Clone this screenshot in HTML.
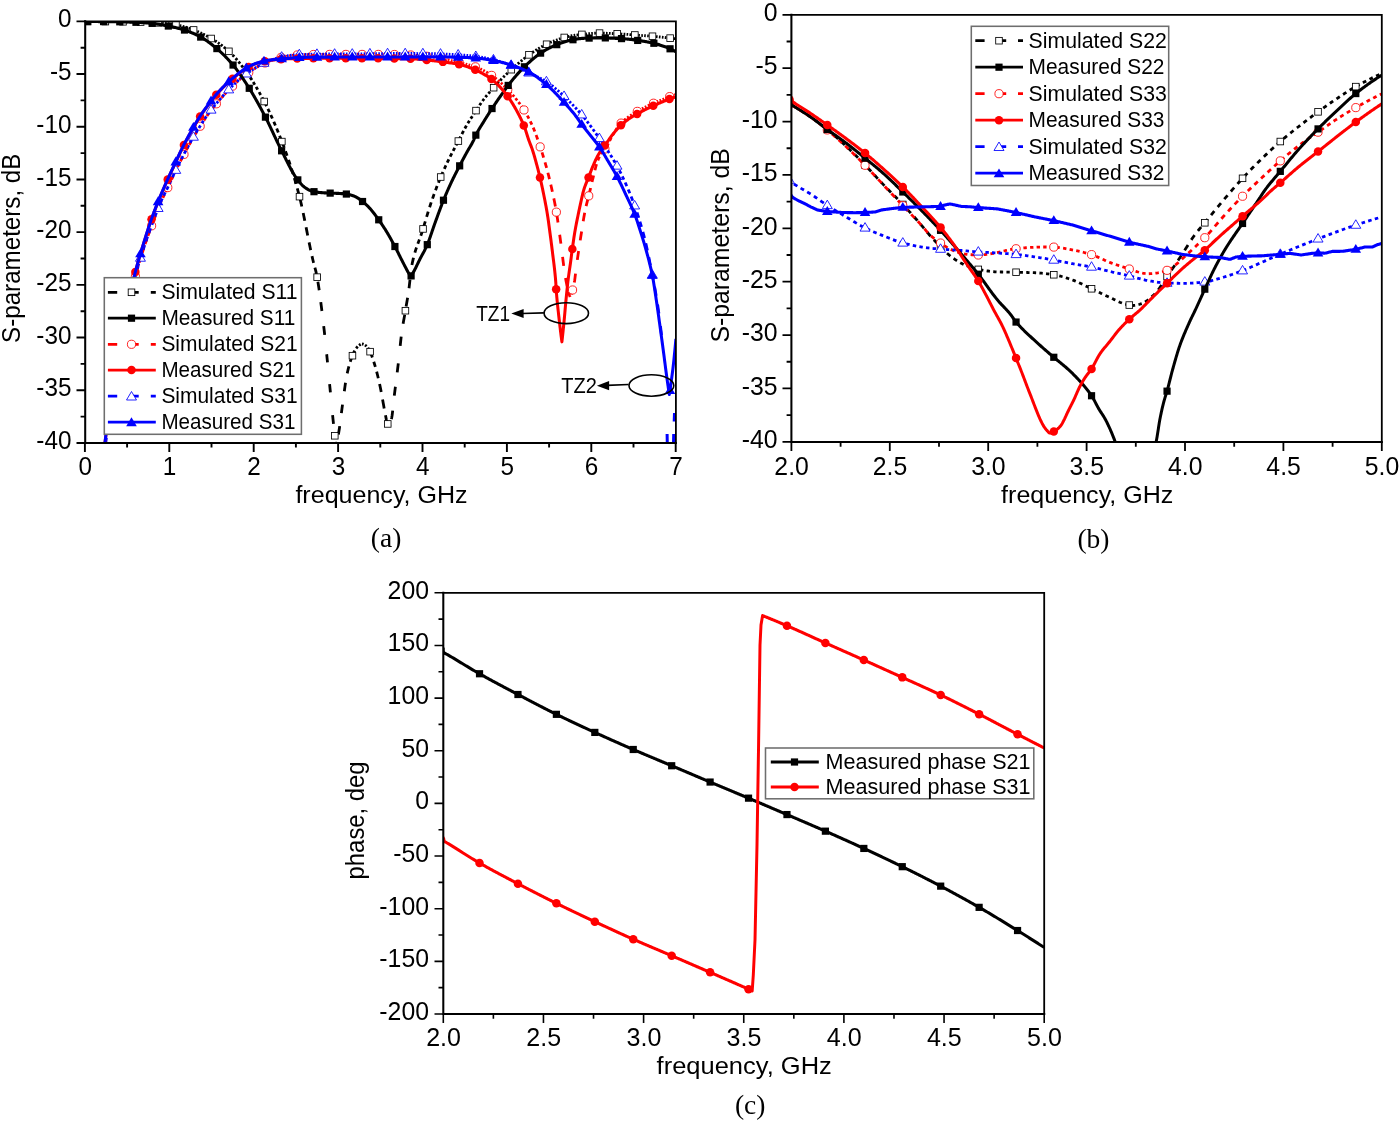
<!DOCTYPE html>
<html lang="en"><head><meta charset="utf-8"><title>S-parameters and phase</title>
<style>html,body{margin:0;padding:0;background:#fff}svg{display:block}</style></head>
<body>
<svg width="1400" height="1121" viewBox="0 0 1400 1121">
<rect width="1400" height="1121" fill="#fff"/>
<defs><clipPath id="ca"><rect x="85.2" y="21.3" width="590.7" height="421.7"/></clipPath><clipPath id="cb"><rect x="791.4" y="14.8" width="590.4" height="427"/></clipPath><clipPath id="cc"><rect x="443.3" y="592.8" width="600.9" height="421.2"/></clipPath></defs>
<g clip-path="url(#ca)"><path transform="scale(1 1)" d="M85.6,21.5 L86.8,21.5 L87.2,21.51 M88.5,21.51 L89.7,21.51 L90.2,21.52 M91.5,21.52 L92.7,21.53 L93.1,21.53 M94.4,21.54 L95.7,21.54 L96,21.54 M97.4,21.55 L98.7,21.56 L99,21.56 M100.3,21.57 L101.5,21.58 L101.9,21.58 M103.2,21.59 L104.4,21.6 L104.9,21.6 M106.2,21.61 L107.4,21.62 L107.8,21.62 M109.1,21.63 L110.3,21.64 L110.7,21.65 M112.1,21.66 L113.3,21.67 L113.7,21.68 M115,21.69 L116.2,21.7 L116.6,21.71 M117.9,21.72 L119.2,21.74 L119.6,21.74 M120.9,21.76 L122.2,21.78 L122.5,21.78 M123.8,21.8 L125.1,21.81 L125.4,21.82 M126.8,21.84 L128.1,21.85 L128.4,21.86 M129.7,21.87 L130.9,21.89 L131.3,21.9 M132.7,21.92 L133.9,21.94 L134.3,21.94 M135.6,21.97 L136.8,21.99 L137.2,22 M138.5,22.02 L139.8,22.05 L140.1,22.06 M141.5,22.09 L142.8,22.12 L143.1,22.13 M144.4,22.17 L145.7,22.21 L146,22.22 M147.3,22.27 L148.6,22.33 L149,22.35 M150.3,22.41 L151.6,22.47 L151.9,22.49 M153.2,22.56 L154.4,22.63 L154.8,22.65 M156.2,22.74 L157.4,22.81 L157.8,22.84 M159.1,22.92 L160.4,23.02 L160.7,23.04 M162.1,23.15 L163.4,23.27 L163.7,23.3 M165,23.42 L166.3,23.56 L166.6,23.59 M167.9,23.73 L169.1,23.88 L169.5,23.93 M170.9,24.11 L172.1,24.27 L172.5,24.33 M173.8,24.52 L175.1,24.72 L175.4,24.76 M176.8,24.99 L178.1,25.24 L178.4,25.3 M179.7,25.58 L180.9,25.87 L181.3,25.97 M182.6,26.32 L183.9,26.69 L184.2,26.77 M185.6,27.2 L186.9,27.61 L187.2,27.71 M188.5,28.14 L189.8,28.59 L190.1,28.7 M191.5,29.19 L192.8,29.66 L193.1,29.76 M194.4,30.24 L195.6,30.7 L196,30.86 M197.3,31.39 L198.6,31.95 L198.9,32.08 M200.3,32.72 L201.6,33.33 L201.9,33.47 M203.2,34.11 L204.4,34.72 L204.8,34.93 M206.1,35.61 L207.4,36.31 L207.8,36.53 M209.1,37.25 L210.4,37.99 L210.7,38.16 M212,38.92 L213.2,39.64 L213.6,39.88 M215,40.76 L216.2,41.53 L216.6,41.8 M217.9,42.67 L219.2,43.57 L219.5,43.78 M220.8,44.72 L222.1,45.69 L222.5,46 M223.8,47.01 L225.1,48.05 L225.4,48.3 M226.7,49.39 L228,50.51 L228.3,50.78 M229.7,52.06 L231,53.32 L231.3,53.61 M232.6,54.94 L233.8,56.22 L234.2,56.65 M235.6,58.21 L236.7,59.48 L237.2,60.06 M238.5,61.62 L239.5,62.84 L240.1,63.59 M241.4,65.24 L242.4,66.52 L243,67.31 M244.4,69.16 L245.3,70.37 L246,71.32 M247.3,73.13 L248.2,74.42 L248.9,75.44 M250.2,77.39 L251,78.61 L251.8,79.85 L251.9,80.01 M253.2,82.08 L254,83.38 L254.8,84.7 M256.1,86.88 L256.9,88.25 L257.6,89.46 L257.7,89.63 M259.1,92.1 L259.8,93.35 L260.5,94.62 L260.7,94.98 M262,97.38 L262.7,98.68 L263.4,100 L263.6,100.38 M265,103.07 L265.7,104.45 L266.4,105.84 L266.6,106.24 M267.9,108.89 L268.5,110.13 L269.1,111.39 L269.5,112.23 M270.8,115.02 L271.4,116.33 L272,117.66 L272.4,118.55 M273.8,121.71 L274.4,123.09 L275,124.49 L275.4,125.43 M276.7,128.52 L277.2,129.73 L277.7,130.95 L278.2,132.17 L278.3,132.42 M279.6,135.67 L280.1,136.93 L280.6,138.21 L281.1,139.5 L281.3,140.02 M282.6,143.42 L283.1,144.75 L283.6,146.08 L284.1,147.43 L284.2,147.7 M285.5,151.27 L286,152.66 L286.5,154.07 L287,155.49 L287.1,155.77 M288.5,159.83 L289,161.31 L289.5,162.8 L289.9,164 L290.1,164.61 M291.4,168.62 L291.8,169.88 L292.2,171.15 L292.6,172.43 L293,173.72 M294.3,178.01 L294.7,179.35 L295.1,180.71 L295.5,182.08 L295.9,183.47 L296,183.82 M297.3,188.43 L297.7,189.88 L298.1,191.34 L298.5,192.82 L298.9,194.31 M300.2,199.5 L300.5,200.76 L300.8,202.04 L301.1,203.35 L301.4,204.68 L301.7,206.03 L301.8,206.48 M303.2,213.03 L303.5,214.47 L303.8,215.93 L304.1,217.39 L304.4,218.87 L304.7,220.35 L304.8,220.85 M306.1,227.35 L306.4,228.86 L306.7,230.38 L307,231.89 L307.3,233.4 L307.6,234.91 L307.7,235.41 M309.1,242.38 L309.4,243.85 L309.7,245.32 L310,246.77 L310.3,248.21 L310.6,249.63 L310.7,250.1 M312,256.08 L312.3,257.4 L312.6,258.71 L312.9,260 L313.2,261.24 L313.6,262.81 M314.9,267.6 L315.3,269.1 L315.7,270.67 L316,271.91 L316.3,273.22 L316.5,274.14 M317.9,281.71 L318.1,282.93 L318.3,284.19 L318.5,285.47 L318.7,286.79 L318.9,288.14 L319.1,289.51 L319.2,290.21 M320.8,302.14 L321,303.72 L321.2,305.31 L321.4,306.92 L321.6,308.55 L321.8,310.18 L321.9,311 M323.7,326.11 L323.9,327.8 L324.1,329.51 L324.3,331.26 L324.5,333.04 L324.7,334.85 M326.7,354.25 L326.9,356.29 L327.1,358.34 L327.3,360.39 L327.5,362.46 M329.6,384.16 L329.8,386.19 L330,388.21 L330.2,390.25 L330.4,392.31 M332.6,415.12 L332.8,417.11 L333,419.07 L333.2,421 L333.4,422.9 L333.5,423.85 M335.5,441.9 L335.7,443.62 L335.9,445.32 L336.1,447 L336.4,445.56 L336.7,444.06 L336.9,443.03 M338.4,434.56 L338.6,433.34 L338.81,432.1 L339.01,430.84 L339.21,429.56 L339.41,428.25 L339.61,426.87 L339.71,426.17 M341.41,413.08 L341.61,411.5 L341.81,409.93 L342.01,408.39 L342.21,406.86 L342.41,405.37 L342.51,404.64 M344.32,391.21 L344.52,389.73 L344.72,388.26 L344.92,386.82 L345.12,385.4 L345.32,384.02 L345.52,382.68 M347.22,373.34 L347.52,371.99 L347.82,370.69 L348.12,369.43 L348.42,368.21 L348.82,366.65 L348.92,366.27 M350.23,361.74 L350.63,360.5 L351.13,359.04 L351.63,357.69 L351.83,357.18 M353.13,354.03 L353.73,352.68 L354.33,351.42 L354.74,350.63 M356.14,348.32 L357.24,347.07 L357.74,346.58 M359.04,345.4 L360.25,344.54 L360.65,344.33 M361.95,344 L363.15,344.2 L363.55,344.35 M364.95,345.1 L366.16,345.91 L366.56,346.26 M367.86,347.87 L368.66,349.13 L369.36,350.33 L369.46,350.51 M370.77,353.23 L371.27,354.46 L371.77,355.78 L372.27,357.18 L372.37,357.46 M373.77,361.71 L374.17,362.98 L374.57,364.26 L374.97,365.57 L375.37,366.92 M376.68,371.71 L377.08,373.3 L377.38,374.51 L377.68,375.75 L377.98,377.01 L378.28,378.29 M379.58,384.05 L379.88,385.42 L380.18,386.82 L380.48,388.29 L380.78,389.8 L381.08,391.36 L381.18,391.89 M382.59,399.59 L382.89,401.27 L383.19,402.95 L383.49,404.62 L383.79,406.27 L384.09,407.9 L384.19,408.43 M385.49,415.18 L385.79,416.81 L386.09,418.38 L386.39,419.82 L386.7,421.05 L387.1,422.24 M388.4,425.07 L389.6,425.3 L390,424.4 M391.4,419.08 L391.7,417.7 L392,416.04 L392.2,414.68 L392.4,413.16 L392.6,411.5 L392.7,410.62 M394.3,395.69 L394.5,394.03 L394.7,392.4 L394.9,390.77 L395.1,389.16 L395.3,387.55 L395.4,386.75 M397.2,372.41 L397.4,370.8 L397.6,369.17 L397.8,367.53 L398,365.88 L398.2,364.21 L398.3,363.37 M400.2,345.79 L400.4,343.88 L400.6,342.01 L400.8,340.17 L401,338.38 L401.2,336.65 M403.1,323.66 L403.4,321.98 L403.71,320.34 L404.01,318.7 L404.31,317.06 L404.61,315.39 L404.71,314.82 M406.11,306.61 L406.41,304.86 L406.71,303.1 L407.01,301.32 L407.21,300.12 L407.41,298.9 L407.61,297.66 M409.01,288.23 L409.21,286.63 L409.41,284.95 L409.61,283.2 L409.81,281.42 L410.01,279.61 M411.91,264.96 L412.21,263.49 L412.51,262.08 L412.81,260.73 L413.11,259.43 L413.41,258.17 L413.51,257.76 M414.91,252.55 L415.31,251.2 L415.71,249.91 L416.11,248.67 L416.51,247.48 M417.81,243.81 L418.31,242.45 L418.81,241.12 L419.31,239.78 L419.41,239.52 M420.81,235.69 L421.31,234.25 L421.81,232.76 L422.21,231.52 L422.41,230.89 M423.71,226.62 L424.11,225.29 L424.51,223.96 L424.91,222.62 L425.31,221.28 M426.61,216.94 L427.01,215.61 L427.41,214.29 L427.81,212.97 L428.21,211.67 M429.61,207.21 L430.01,205.97 L430.41,204.75 L430.81,203.55 L431.21,202.37 M432.52,198.59 L433.02,197.17 L433.52,195.75 L434.02,194.35 L434.12,194.07 M435.52,190.24 L436.02,188.89 L436.52,187.57 L437.02,186.25 L437.12,185.99 M438.42,182.66 L438.92,181.41 L439.42,180.17 L439.92,178.95 L440.02,178.71 M441.32,175.62 L441.92,174.23 L442.52,172.86 L442.92,171.95 M444.32,168.85 L444.92,167.55 L445.52,166.26 L445.92,165.41 M447.22,162.68 L447.82,161.43 L448.42,160.19 L448.82,159.37 M450.12,156.73 L450.82,155.35 L451.52,153.98 L451.82,153.4 M453.12,150.91 L453.82,149.58 L454.52,148.26 L454.72,147.88 M456.02,145.44 L456.72,144.12 L457.42,142.79 L457.62,142.41 M459.02,139.72 L459.72,138.35 L460.42,136.98 L460.62,136.58 M461.93,134.03 L462.63,132.66 L463.33,131.31 L463.53,130.93 M464.83,128.49 L465.53,127.21 L466.23,125.97 L466.43,125.63 M467.83,123.26 L468.63,121.95 L469.43,120.67 M470.73,118.63 L471.53,117.4 L472.33,116.18 M473.73,114.07 L474.53,112.86 L475.33,111.66 M476.63,109.69 L477.43,108.47 L478.23,107.26 M479.53,105.31 L480.43,103.98 L481.13,102.96 M482.53,100.97 L483.43,99.75 L484.13,98.83 M485.43,97.18 L486.43,95.95 L487.03,95.23 M488.43,93.59 L489.53,92.33 L490.04,91.76 M491.34,90.29 L492.44,89.05 L492.94,88.49 M494.24,87.01 L495.34,85.76 L495.84,85.19 M497.24,83.61 L498.34,82.39 L498.84,81.84 M500.14,80.44 L501.34,79.18 L501.74,78.77 M503.14,77.36 L504.34,76.18 L504.74,75.8 M506.04,74.57 L507.24,73.45 L507.64,73.08 M508.94,71.88 L510.14,70.78 L510.54,70.42 M511.94,69.14 L513.14,68.04 L513.54,67.68 M514.84,66.51 L516.04,65.43 L516.44,65.08 M517.74,63.93 L518.95,62.9 L519.35,62.55 M520.75,61.37 L521.95,60.37 L522.35,60.03 M523.65,58.96 L524.85,57.98 L525.25,57.66 M526.65,56.57 L527.85,55.66 L528.25,55.36 M529.55,54.43 L530.75,53.6 L531.15,53.33 M532.45,52.46 L533.65,51.69 L534.05,51.43 M535.45,50.55 L536.65,49.81 L537.05,49.57 M538.35,48.79 L539.55,48.07 L539.95,47.84 M541.35,47.02 L542.55,46.34 L542.95,46.12 M544.25,45.42 L545.45,44.8 L545.85,44.6 M547.16,43.96 L548.36,43.4 L548.76,43.22 M550.16,42.59 L551.36,42.07 L551.76,41.9 M553.06,41.37 L554.26,40.89 L554.66,40.73 M556.06,40.2 L557.26,39.75 L557.66,39.6 M558.96,39.13 L560.16,38.71 L560.56,38.58 M561.86,38.16 L563.06,37.79 L563.46,37.68 M564.86,37.3 L566.06,36.99 L566.46,36.88 M567.76,36.57 L568.96,36.29 L569.36,36.2 M570.66,35.93 L571.86,35.71 L572.36,35.62 M573.66,35.42 L574.86,35.25 L575.26,35.19 M576.57,35.02 L577.77,34.88 L578.17,34.83 M579.57,34.67 L580.77,34.53 L581.17,34.49 M582.47,34.33 L583.67,34.18 L584.07,34.13 M585.37,33.97 L586.57,33.82 L586.97,33.78 M588.37,33.63 L589.57,33.53 L589.97,33.5 M591.27,33.42 L592.47,33.34 L592.87,33.31 M594.27,33.23 L595.47,33.18 L595.87,33.16 M597.17,33.12 L598.37,33.1 L598.77,33.1 M600.07,33.11 L601.27,33.12 L601.67,33.13 M603.07,33.16 L604.28,33.2 L604.68,33.21 M605.98,33.25 L607.18,33.29 L607.58,33.3 M608.98,33.35 L610.18,33.4 L610.58,33.42 M611.88,33.48 L613.08,33.54 L613.48,33.56 M614.78,33.64 L615.98,33.7 L616.38,33.72 M617.78,33.8 L618.98,33.86 L619.38,33.89 M620.68,33.96 L621.88,34.03 L622.28,34.06 M623.58,34.14 L624.78,34.22 L625.28,34.25 M626.58,34.34 L627.78,34.43 L628.18,34.46 M629.48,34.56 L630.68,34.66 L631.08,34.69 M632.48,34.8 L633.69,34.9 L634.09,34.93 M635.39,35.03 L636.59,35.12 L636.99,35.14 M638.29,35.24 L639.49,35.32 L639.89,35.35 M641.29,35.44 L642.49,35.53 L642.89,35.56 M644.19,35.65 L645.39,35.73 L645.79,35.76 M647.19,35.85 L648.39,35.94 L648.79,35.97 M650.09,36.06 L651.29,36.15 L651.69,36.18 M652.99,36.29 L654.19,36.4 L654.59,36.44 M655.99,36.58 L657.19,36.7 L657.59,36.74 M658.89,36.88 L660.09,37 L660.49,37.05 M661.9,37.19 L663.1,37.32 L663.5,37.37 M664.8,37.51 L666,37.64 L666.4,37.69 M667.7,37.84 L668.9,37.97 L669.3,38.02 M670.7,38.18 L671.9,38.32 L672.3,38.37 M673.6,38.52 L674.8,38.67 L675.2,38.72" fill="none" stroke="#000000" stroke-width="2.8"/><rect x="84.4" y="18.21" width="6.6" height="6.6" fill="#fff" stroke="#000000" stroke-width="0.85"/><rect x="102.05" y="18.3" width="6.6" height="6.6" fill="#fff" stroke="#000000" stroke-width="0.85"/><rect x="119.7" y="18.49" width="6.6" height="6.6" fill="#fff" stroke="#000000" stroke-width="0.85"/><rect x="137.35" y="18.77" width="6.6" height="6.6" fill="#fff" stroke="#000000" stroke-width="0.85"/><rect x="155" y="19.57" width="6.6" height="6.6" fill="#fff" stroke="#000000" stroke-width="0.85"/><rect x="172.65" y="21.56" width="6.6" height="6.6" fill="#fff" stroke="#000000" stroke-width="0.85"/><rect x="190.3" y="26.65" width="6.6" height="6.6" fill="#fff" stroke="#000000" stroke-width="0.85"/><rect x="207.95" y="35.2" width="6.6" height="6.6" fill="#fff" stroke="#000000" stroke-width="0.85"/><rect x="225.6" y="48.02" width="6.6" height="6.6" fill="#fff" stroke="#000000" stroke-width="0.85"/><rect x="243.25" y="68.85" width="6.6" height="6.6" fill="#fff" stroke="#000000" stroke-width="0.85"/><rect x="260.9" y="98.22" width="6.6" height="6.6" fill="#fff" stroke="#000000" stroke-width="0.85"/><rect x="278.55" y="138.28" width="6.6" height="6.6" fill="#fff" stroke="#000000" stroke-width="0.85"/><rect x="296.2" y="193.34" width="6.6" height="6.6" fill="#fff" stroke="#000000" stroke-width="0.85"/><rect x="313.85" y="273.85" width="6.6" height="6.6" fill="#fff" stroke="#000000" stroke-width="0.85"/><rect x="331.5" y="432.47" width="6.6" height="6.6" fill="#fff" stroke="#000000" stroke-width="0.85"/><rect x="349.15" y="352.4" width="6.6" height="6.6" fill="#fff" stroke="#000000" stroke-width="0.85"/><rect x="366.8" y="348.37" width="6.6" height="6.6" fill="#fff" stroke="#000000" stroke-width="0.85"/><rect x="384.45" y="420.63" width="6.6" height="6.6" fill="#fff" stroke="#000000" stroke-width="0.85"/><rect x="402.1" y="307.4" width="6.6" height="6.6" fill="#fff" stroke="#000000" stroke-width="0.85"/><rect x="419.75" y="225.63" width="6.6" height="6.6" fill="#fff" stroke="#000000" stroke-width="0.85"/><rect x="437.4" y="173.73" width="6.6" height="6.6" fill="#fff" stroke="#000000" stroke-width="0.85"/><rect x="455.05" y="137.77" width="6.6" height="6.6" fill="#fff" stroke="#000000" stroke-width="0.85"/><rect x="472.7" y="107.3" width="6.6" height="6.6" fill="#fff" stroke="#000000" stroke-width="0.85"/><rect x="490.35" y="84.39" width="6.6" height="6.6" fill="#fff" stroke="#000000" stroke-width="0.85"/><rect x="508" y="66.39" width="6.6" height="6.6" fill="#fff" stroke="#000000" stroke-width="0.85"/><rect x="525.65" y="51.56" width="6.6" height="6.6" fill="#fff" stroke="#000000" stroke-width="0.85"/><rect x="543.3" y="40.95" width="6.6" height="6.6" fill="#fff" stroke="#000000" stroke-width="0.85"/><rect x="560.95" y="34.16" width="6.6" height="6.6" fill="#fff" stroke="#000000" stroke-width="0.85"/><rect x="578.6" y="31.1" width="6.6" height="6.6" fill="#fff" stroke="#000000" stroke-width="0.85"/><rect x="596.25" y="29.8" width="6.6" height="6.6" fill="#fff" stroke="#000000" stroke-width="0.85"/><rect x="613.9" y="30.46" width="6.6" height="6.6" fill="#fff" stroke="#000000" stroke-width="0.85"/><rect x="631.55" y="31.69" width="6.6" height="6.6" fill="#fff" stroke="#000000" stroke-width="0.85"/><rect x="649.2" y="32.95" width="6.6" height="6.6" fill="#fff" stroke="#000000" stroke-width="0.85"/><rect x="666.85" y="34.82" width="6.6" height="6.6" fill="#fff" stroke="#000000" stroke-width="0.85"/></g>
<g clip-path="url(#ca)"><path transform="scale(1 1)" d="M105.3,447 L105.5,445.36 L105.6,444.54 M106.9,434.28 L107.1,432.81 L107.3,431.38 L107.5,430 L107.7,428.65 L107.9,427.33 L108.1,426.03 L108.2,425.38 M109.8,415.69 L110.1,413.97 L110.4,412.27 L110.7,410.58 L111,408.91 L111.3,407.25 L111.4,406.7 M112.8,398.96 L113.1,397.27 L113.4,395.57 L113.7,393.85 L114,392.14 L114.3,390.43 M115.7,382.5 L116,380.81 L116.3,379.12 L116.6,377.44 L116.9,375.75 L117.2,374.07 L117.3,373.51 M118.7,365.68 L119,364 L119.3,362.33 L119.6,360.65 L119.9,358.97 L120.2,357.29 L120.3,356.73 M121.6,349.44 L121.9,347.74 L122.2,346.04 L122.5,344.33 L122.8,342.61 L123.1,340.88 M124.5,332.81 L124.8,331.08 L125.1,329.35 L125.4,327.62 L125.7,325.9 L126,324.19 M127.5,315.74 L127.8,314.09 L128.1,312.44 L128.4,310.82 L128.7,309.21 L129,307.61 L129.1,307.09 M130.4,300.34 L130.7,298.79 L131,297.24 L131.3,295.7 L131.6,294.17 L131.9,292.65 L132,292.14 M133.4,285.28 L133.7,283.87 L134,282.48 L134.3,281.12 L134.6,279.79 L134.9,278.5 L135,278.07 M136.3,272.86 L136.7,271.35 L137.1,269.87 L137.5,268.42 L137.9,267 M139.2,262.56 L139.6,261.25 L140,259.95 L140.4,258.66 L140.8,257.39 M142.2,253.02 L142.6,251.78 L143,250.55 L143.4,249.31 L143.8,248.08 M145.1,244.15 L145.6,242.67 L146.1,241.2 L146.6,239.75 L146.7,239.46 M148,235.76 L148.5,234.35 L149,232.96 L149.5,231.57 L149.7,231.02 M151,227.45 L151.5,226.09 L152,224.73 L152.5,223.37 L152.6,223.1 M153.9,219.57 L154.4,218.23 L154.9,216.89 L155.4,215.56 L155.5,215.29 M156.9,211.63 L157.4,210.35 L157.9,209.09 L158.4,207.84 L158.5,207.59 M159.8,204.47 L160.4,203.08 L161,201.72 L161.4,200.84 M162.8,197.83 L163.4,196.58 L164,195.34 L164.4,194.52 M165.7,191.88 L166.3,190.66 L166.9,189.44 L167.3,188.62 M168.6,185.92 L169.2,184.64 L169.8,183.36 L170.2,182.5 M171.6,179.47 L172.2,178.17 L172.8,176.87 L173.2,176.01 M174.5,173.22 L175.1,171.94 L175.7,170.68 L176.1,169.85 M177.5,166.99 L178.1,165.78 L178.8,164.39 L179.1,163.8 M180.4,161.25 L181.1,159.9 L181.8,158.55 L182,158.17 M183.3,155.7 L184,154.38 L184.7,153.06 L184.9,152.69 M186.3,150.07 L187,148.77 L187.7,147.48 L187.9,147.11 M189.2,144.73 L189.9,143.46 L190.6,142.21 L190.8,141.85 M192.2,139.38 L192.9,138.17 L193.7,136.8 L193.8,136.64 M195.1,134.45 L195.9,133.13 L196.7,131.82 M198,129.72 L198.8,128.44 L199.6,127.17 M201,124.97 L201.8,123.72 L202.6,122.47 M203.9,120.46 L204.7,119.23 L205.5,118.02 M206.9,115.95 L207.8,114.66 L208.5,113.68 M209.8,111.93 L210.8,110.63 L211.4,109.86 M212.7,108.24 L213.7,107.02 L214.3,106.3 M215.7,104.63 L216.8,103.33 L217.3,102.74 M218.6,101.2 L219.7,99.9 L220.2,99.32 M221.5,97.81 L222.6,96.55 L223.2,95.87 M224.5,94.43 L225.7,93.12 L226.1,92.69 M227.4,91.33 L228.6,90.09 L229,89.69 M230.4,88.28 L231.7,87 L232,86.71 M233.3,85.45 L234.5,84.3 L234.9,83.92 M236.3,82.58 L237.6,81.34 L237.9,81.06 M239.2,79.85 L240.5,78.68 L240.8,78.42 M242.1,77.32 L243.3,76.37 L243.7,76.06 M245.1,75.02 L246.3,74.16 L246.7,73.88 M248,72.99 L249.3,72.12 L249.6,71.92 M251,70.98 L252.3,70.13 L252.6,69.93 M253.9,69.08 L255.2,68.26 L255.5,68.07 M256.8,67.27 L258.1,66.51 L258.4,66.34 M259.8,65.56 L261.1,64.86 L261.4,64.7 M262.7,64.03 L264,63.38 L264.3,63.23 M265.7,62.58 L267,62 L267.3,61.87 M268.6,61.33 L269.8,60.84 L270.2,60.68 M271.5,60.18 L272.8,59.71 L273.1,59.61 M274.5,59.15 L275.8,58.76 L276.1,58.68 M277.4,58.32 L278.7,57.98 L279,57.91 M280.4,57.57 L281.7,57.28 L282,57.21 M283.3,56.94 L284.5,56.7 L284.9,56.62 M286.2,56.37 L287.5,56.13 L287.8,56.08 M289.2,55.85 L290.5,55.66 L290.8,55.63 M292.1,55.46 L293.4,55.31 L293.7,55.28 M295,55.15 L296.3,55.04 L296.7,55.02 M298,54.95 L299.3,54.89 L299.6,54.87 M300.9,54.82 L302.2,54.76 L302.5,54.75 M303.9,54.7 L305.2,54.66 L305.5,54.65 M306.8,54.61 L308,54.58 L308.4,54.57 M309.8,54.55 L311,54.53 L311.4,54.52 M312.7,54.5 L314,54.49 L314.3,54.49 M315.6,54.48 L316.9,54.46 L317.2,54.46 M318.6,54.45 L319.9,54.44 L320.2,54.44 M321.5,54.43 L322.8,54.42 L323.1,54.42 M324.5,54.41 L325.8,54.41 L326.1,54.41 M327.4,54.4 L328.7,54.4 L329,54.4 M330.3,54.4 L331.5,54.4 L331.9,54.4 M333.3,54.4 L334.5,54.4 L334.9,54.4 M336.2,54.4 L337.5,54.4 L337.8,54.4 M339.2,54.4 L340.5,54.4 L340.8,54.4 M342.1,54.4 L343.4,54.4 L343.7,54.4 M345,54.4 L346.3,54.4 L346.6,54.4 M348,54.4 L349.3,54.4 L349.6,54.4 M350.9,54.4 L352.2,54.4 L352.5,54.4 M353.9,54.4 L355.2,54.4 L355.5,54.4 M356.8,54.4 L358,54.4 L358.4,54.4 M359.7,54.4 L361,54.4 L361.3,54.4 M362.7,54.4 L364,54.4 L364.3,54.4 M365.6,54.4 L366.8,54.4 L367.2,54.4 M368.5,54.4 L369.8,54.4 L370.2,54.4 M371.5,54.4 L372.8,54.4 L373.1,54.4 M374.4,54.4 L375.7,54.4 L376,54.4 M377.4,54.4 L378.7,54.4 L379,54.4 M380.3,54.4 L381.6,54.41 L381.9,54.41 M383.3,54.41 L384.6,54.42 L384.9,54.42 M386.2,54.43 L387.5,54.44 L387.8,54.44 M389.1,54.45 L390.3,54.46 L390.7,54.46 M392.1,54.48 L393.3,54.49 L393.7,54.49 M395,54.51 L396.3,54.53 L396.6,54.53 M398,54.56 L399.3,54.59 L399.6,54.6 M400.9,54.63 L402.2,54.67 L402.5,54.68 M403.8,54.72 L405.1,54.77 L405.4,54.78 M406.8,54.84 L408.1,54.89 L408.4,54.9 M409.7,54.96 L411,55.02 L411.3,55.03 M412.7,55.11 L414,55.18 L414.3,55.2 M415.6,55.29 L416.8,55.38 L417.2,55.41 M418.5,55.51 L419.8,55.62 L420.1,55.64 M421.5,55.77 L422.8,55.89 L423.1,55.92 M424.4,56.04 L425.7,56.17 L426,56.2 M427.3,56.33 L428.6,56.47 L429,56.51 M430.3,56.66 L431.6,56.81 L431.9,56.84 M433.2,57.01 L434.5,57.18 L434.8,57.22 M436.2,57.41 L437.5,57.6 L437.8,57.65 M439.1,57.85 L440.3,58.04 L440.7,58.1 M442,58.32 L443.3,58.55 L443.7,58.63 M445,58.9 L446.3,59.19 L446.6,59.26 M447.9,59.58 L449.2,59.92 L449.5,60 M450.9,60.39 L452.2,60.75 L452.5,60.83 M453.8,61.19 L455,61.53 L455.4,61.64 M456.8,62.01 L458,62.32 L458.4,62.42 M459.7,62.72 L461,63.02 L461.3,63.09 M462.6,63.37 L463.9,63.66 L464.2,63.73 M465.6,64.05 L466.9,64.37 L467.2,64.45 M468.5,64.79 L469.8,65.13 L470.1,65.21 M471.5,65.6 L472.8,65.98 L473.1,66.08 M474.4,66.49 L475.7,66.94 L476,67.04 M477.3,67.54 L478.5,68.04 L478.9,68.22 M480.3,68.85 L481.5,69.43 L481.9,69.63 M483.2,70.28 L484.5,70.97 L484.8,71.13 M486.2,71.92 L487.5,72.7 L487.8,72.89 M489.1,73.71 L490.4,74.57 L490.7,74.78 M492,75.67 L493.3,76.6 L493.6,76.82 M495,77.87 L496.3,78.9 L496.6,79.14 M497.9,80.2 L499.2,81.31 L499.5,81.56 M500.9,82.8 L502.2,84 L502.5,84.28 M503.8,85.53 L505,86.72 L505.4,87.12 M506.7,88.45 L507.9,89.7 L508.3,90.12 M509.7,91.62 L510.9,92.92 L511.3,93.36 M512.6,94.83 L513.7,96.1 L514.2,96.69 M515.5,98.25 L516.5,99.5 L517.2,100.39 M518.5,102.07 L519.5,103.4 L520.1,104.22 M521.4,106.04 L522.3,107.35 L523,108.41 M524.4,110.6 L525.2,111.91 L526,113.26 M527.3,115.55 L528,116.83 L528.7,118.15 L528.9,118.53 M530.3,121.3 L530.9,122.54 L531.5,123.81 L531.9,124.68 M533.2,127.61 L533.8,129.05 L534.3,130.28 L534.8,131.56 M536.1,135.01 L536.6,136.39 L537.1,137.79 L537.6,139.21 L537.7,139.5 M539.1,143.58 L539.6,145.06 L540.1,146.55 L540.5,147.75 L540.7,148.36 M542,152.38 L542.4,153.65 L542.8,154.93 L543.2,156.23 L543.6,157.55 M545,162.27 L545.4,163.66 L545.8,165.07 L546.2,166.49 L546.6,167.93 M547.9,172.76 L548.3,174.31 L548.7,175.88 L549,177.09 L549.3,178.31 L549.5,179.13 M550.8,184.65 L551.1,185.97 L551.4,187.3 L551.7,188.64 L552,190 L552.3,191.37 L552.4,191.82 M553.8,198.38 L554.1,199.83 L554.4,201.32 L554.7,202.83 L555,204.38 L555.3,205.96 L555.4,206.5 M556.7,213.94 L556.9,215.19 L557.1,216.46 L557.3,217.76 L557.5,219.08 L557.7,220.43 L557.9,221.79 L558,222.49 M559.7,234.76 L559.9,236.24 L560.1,237.73 L560.3,239.22 L560.5,240.7 L560.7,242.19 L560.9,243.67 M562.6,256.93 L562.8,258.58 L563,260.22 L563.2,261.86 L563.4,263.48 L563.6,265.07 L563.7,265.86 M565.5,277.93 L565.8,279.61 L566.1,281.23 L566.4,282.79 L566.7,284.29 L567,285.72 L567.1,286.19 M568.5,291.88 L568.9,293.3 L569.3,294.63 L569.7,295.86 L570.1,296.99 M571.4,294.45 L571.7,293.25 L572,292.03 L572.3,290.81 L572.6,289.59 L573,288.04 M574.3,282.52 L574.6,280.77 L574.8,279.38 L575,277.84 L575.2,276.2 L575.4,274.49 L575.5,273.63 M577.31,259.91 L577.51,258.51 L577.71,257.11 L577.91,255.73 L578.11,254.35 L578.31,252.99 L578.51,251.63 L578.61,250.96 M580.21,240.4 L580.41,239.11 L580.61,237.83 L580.81,236.55 L581.01,235.27 L581.21,234 L581.41,232.73 L581.61,231.45 M583.21,221.3 L583.41,220.07 L583.61,218.87 L583.91,217.1 L584.21,215.39 L584.51,213.75 L584.71,212.7 M586.11,206.17 L586.42,204.91 L586.72,203.68 L587.12,202.09 L587.52,200.52 L587.72,199.75 M589.02,194.66 L589.32,193.44 L589.62,192.19 L589.92,190.93 L590.22,189.66 L590.52,188.39 L590.62,187.96 M592.02,182.02 L592.32,180.77 L592.62,179.53 L592.92,178.31 L593.22,177.1 L593.62,175.52 M594.92,170.28 L595.22,169.08 L595.62,167.51 L596.02,166 L596.42,164.57 L596.52,164.22 M597.83,160.4 L598.33,159.17 L598.93,157.78 L599.43,156.71 M600.83,154.08 L601.63,152.81 L602.43,151.75 M603.73,150.31 L604.83,149.09 L605.33,148.47 M606.73,146.32 L607.44,145.08 L608.14,143.76 L608.34,143.37 M609.64,140.78 L610.24,139.58 L610.94,138.2 L611.24,137.62 M612.54,135.26 L613.34,133.96 L614.14,132.7 M615.54,130.53 L616.34,129.33 L617.14,128.16 M618.45,126.36 L619.45,125.07 L620.05,124.34 M621.35,122.9 L622.55,121.7 L622.95,121.32 M624.35,120.08 L625.55,119.08 L625.95,118.77 M627.25,117.77 L628.45,116.89 L628.86,116.6 M630.26,115.63 L631.46,114.84 L631.86,114.58 M633.16,113.78 L634.36,113.06 L634.76,112.83 M636.06,112.07 L637.26,111.39 L637.66,111.16 M639.07,110.37 L640.27,109.71 L640.67,109.5 M641.97,108.81 L643.17,108.18 L643.57,107.98 M644.87,107.32 L646.07,106.71 L646.47,106.52 M647.87,105.83 L649.07,105.25 L649.47,105.06 M650.78,104.45 L651.98,103.89 L652.38,103.71 M653.78,103.09 L654.98,102.57 L655.38,102.4 M656.68,101.85 L657.88,101.36 L658.28,101.2 M659.58,100.67 L660.79,100.19 L661.19,100.03 M662.59,99.46 L663.79,98.97 L664.19,98.8 M665.49,98.27 L666.69,97.78 L667.09,97.62 M668.39,97.11 L669.59,96.65 L669.99,96.5 M671.4,96 L672.6,95.58 L673,95.45 M674.3,95.01 L675.5,94.63 L675.9,94.5" fill="none" stroke="#ff0000" stroke-width="2.8"/><circle cx="119.23" cy="362.89" r="4.1" fill="#fff" stroke="#ff0000" stroke-width="0.85"/><circle cx="135.42" cy="276.41" r="4.1" fill="#fff" stroke="#ff0000" stroke-width="0.85"/><circle cx="151.61" cy="225.82" r="4.1" fill="#fff" stroke="#ff0000" stroke-width="0.85"/><circle cx="167.8" cy="187.59" r="4.1" fill="#fff" stroke="#ff0000" stroke-width="0.85"/><circle cx="183.99" cy="154.38" r="4.1" fill="#fff" stroke="#ff0000" stroke-width="0.85"/><circle cx="200.18" cy="126.23" r="4.1" fill="#fff" stroke="#ff0000" stroke-width="0.85"/><circle cx="216.37" cy="103.8" r="4.1" fill="#fff" stroke="#ff0000" stroke-width="0.85"/><circle cx="232.56" cy="86.13" r="4.1" fill="#fff" stroke="#ff0000" stroke-width="0.85"/><circle cx="248.75" cy="72.52" r="4.1" fill="#fff" stroke="#ff0000" stroke-width="0.85"/><circle cx="264.94" cy="62.95" r="4.1" fill="#fff" stroke="#ff0000" stroke-width="0.85"/><circle cx="281.13" cy="57.41" r="4.1" fill="#fff" stroke="#ff0000" stroke-width="0.85"/><circle cx="297.32" cy="54.98" r="4.1" fill="#fff" stroke="#ff0000" stroke-width="0.85"/><circle cx="313.51" cy="54.5" r="4.1" fill="#fff" stroke="#ff0000" stroke-width="0.85"/><circle cx="329.7" cy="54.4" r="4.1" fill="#fff" stroke="#ff0000" stroke-width="0.85"/><circle cx="345.89" cy="54.4" r="4.1" fill="#fff" stroke="#ff0000" stroke-width="0.85"/><circle cx="362.08" cy="54.4" r="4.1" fill="#fff" stroke="#ff0000" stroke-width="0.85"/><circle cx="378.27" cy="54.4" r="4.1" fill="#fff" stroke="#ff0000" stroke-width="0.85"/><circle cx="394.46" cy="54.5" r="4.1" fill="#fff" stroke="#ff0000" stroke-width="0.85"/><circle cx="410.65" cy="55" r="4.1" fill="#fff" stroke="#ff0000" stroke-width="0.85"/><circle cx="426.84" cy="56.28" r="4.1" fill="#fff" stroke="#ff0000" stroke-width="0.85"/><circle cx="443.03" cy="58.5" r="4.1" fill="#fff" stroke="#ff0000" stroke-width="0.85"/><circle cx="459.22" cy="62.61" r="4.1" fill="#fff" stroke="#ff0000" stroke-width="0.85"/><circle cx="475.41" cy="66.83" r="4.1" fill="#fff" stroke="#ff0000" stroke-width="0.85"/><circle cx="491.6" cy="75.39" r="4.1" fill="#fff" stroke="#ff0000" stroke-width="0.85"/><circle cx="507.79" cy="89.6" r="4.1" fill="#fff" stroke="#ff0000" stroke-width="0.85"/><circle cx="523.98" cy="109.96" r="4.1" fill="#fff" stroke="#ff0000" stroke-width="0.85"/><circle cx="540.17" cy="146.85" r="4.1" fill="#fff" stroke="#ff0000" stroke-width="0.85"/><circle cx="556.36" cy="212.13" r="4.1" fill="#fff" stroke="#ff0000" stroke-width="0.85"/><circle cx="572.55" cy="289.99" r="4.1" fill="#fff" stroke="#ff0000" stroke-width="0.85"/><circle cx="588.74" cy="195.86" r="4.1" fill="#fff" stroke="#ff0000" stroke-width="0.85"/><circle cx="604.93" cy="148.97" r="4.1" fill="#fff" stroke="#ff0000" stroke-width="0.85"/><circle cx="621.12" cy="123.11" r="4.1" fill="#fff" stroke="#ff0000" stroke-width="0.85"/><circle cx="637.31" cy="111.39" r="4.1" fill="#fff" stroke="#ff0000" stroke-width="0.85"/><circle cx="653.5" cy="103.22" r="4.1" fill="#fff" stroke="#ff0000" stroke-width="0.85"/><circle cx="669.69" cy="96.61" r="4.1" fill="#fff" stroke="#ff0000" stroke-width="0.85"/></g>
<g clip-path="url(#ca)"><path transform="scale(1 1)" d="M105.3,446.7 L105.5,445.06 L105.7,443.42 L105.9,441.79 L106.1,440.18 L106.3,438.59 L106.4,437.8 M107.8,427.69 L108,426.38 L108.2,425.08 L108.4,423.81 L108.6,422.56 L108.8,421.33 L109,420.11 L109.2,418.91 M110.7,410.28 L111,408.61 L111.3,406.95 L111.6,405.3 L111.9,403.65 L112.2,401.99 L112.3,401.44 M113.7,393.55 L114,391.84 L114.3,390.13 L114.6,388.42 L114.9,386.72 L115.2,385.02 M116.6,377.14 L116.9,375.45 L117.2,373.77 L117.5,372.09 L117.8,370.41 L118.1,368.74 L118.2,368.18 M119.6,360.35 L119.9,358.67 L120.2,356.99 L120.5,355.31 L120.8,353.63 L121.1,351.95 L121.2,351.39 M122.5,344.03 L122.8,342.31 L123.1,340.58 L123.4,338.86 L123.7,337.13 L124,335.39 M125.4,327.32 L125.7,325.6 L126,323.89 L126.3,322.18 L126.6,320.48 L126.9,318.79 M128.4,310.52 L128.7,308.91 L129,307.31 L129.3,305.74 L129.6,304.18 L129.9,302.63 L130,302.11 M131.3,295.4 L131.6,293.87 L131.9,292.35 L132.2,290.84 L132.5,289.35 L132.8,287.87 L132.9,287.39 M134.3,280.82 L134.6,279.49 L134.9,278.2 L135.2,276.93 L135.5,275.7 L135.9,274.11 M137.2,269.2 L137.6,267.76 L138,266.35 L138.4,264.96 L138.8,263.6 M140.1,259.32 L140.5,258.04 L140.9,256.77 L141.3,255.52 L141.7,254.27 M143.1,249.94 L143.5,248.7 L143.9,247.47 L144.3,246.25 L144.7,245.04 M146,241.19 L146.5,239.74 L147,238.3 L147.5,236.87 L147.6,236.59 M148.9,232.94 L149.4,231.55 L149.9,230.17 L150.4,228.79 L150.6,228.24 M151.9,224.7 L152.4,223.34 L152.9,221.98 L153.4,220.63 L153.5,220.36 M154.8,216.85 L155.3,215.52 L155.8,214.2 L156.3,212.89 L156.4,212.63 M157.8,209.04 L158.3,207.79 L158.8,206.56 L159.3,205.35 L159.4,205.11 M160.7,202.1 L161.3,200.76 L161.9,199.45 L162.3,198.59 M163.7,195.66 L164.3,194.43 L164.9,193.2 L165.3,192.39 M166.6,189.75 L167.2,188.53 L167.8,187.29 L168.2,186.46 M169.5,183.7 L170.1,182.42 L170.7,181.12 L171.1,180.26 M172.5,177.22 L173.1,175.92 L173.7,174.63 L174.1,173.77 M175.4,171.01 L176,169.76 L176.6,168.52 L177,167.7 M178.3,165.09 L179,163.7 L179.7,162.32 L180,161.73 M181.3,159.21 L182,157.87 L182.7,156.54 L182.9,156.16 M184.2,153.7 L184.9,152.39 L185.6,151.08 L185.8,150.7 M187.2,148.1 L187.9,146.81 L188.6,145.52 L188.8,145.16 M190.1,142.8 L190.8,141.55 L191.5,140.31 L191.7,139.96 M193.1,137.53 L193.9,136.17 L194.7,134.82 M196,132.66 L196.8,131.36 L197.6,130.06 M198.9,127.98 L199.7,126.71 L200.5,125.46 M201.9,123.27 L202.7,122.02 L203.5,120.78 M204.8,118.78 L205.6,117.57 L206.4,116.38 M207.8,114.36 L208.7,113.11 L209.4,112.16 M210.7,110.46 L211.7,109.19 L212.3,108.44 M213.6,106.85 L214.6,105.64 L215.2,104.93 M216.6,103.27 L217.7,101.96 L218.2,101.37 M219.5,99.84 L220.6,98.55 L221.1,97.97 M222.4,96.48 L223.5,95.24 L224.1,94.57 M225.4,93.14 L226.6,91.86 L227,91.44 M228.3,90.1 L229.5,88.88 L229.9,88.48 M231.3,87.1 L232.6,85.83 L232.9,85.54 M234.2,84.29 L235.5,83.05 L235.8,82.76 M237.1,81.52 L238.4,80.29 L238.8,79.92 M240.1,78.74 L241.4,77.61 L241.7,77.35 M243,76.3 L244.3,75.31 L244.6,75.09 M246,74.08 L247.3,73.17 L247.6,72.96 M248.9,72.08 L250.1,71.28 L250.5,71.02 M251.8,70.15 L253.1,69.3 L253.5,69.04 M254.8,68.21 L256.1,67.4 L256.4,67.22 M257.7,66.44 L258.9,65.76 L259.3,65.53 M260.7,64.77 L261.9,64.14 L262.3,63.93 M263.6,63.27 L264.9,62.65 L265.2,62.51 M266.5,61.92 L267.8,61.36 L268.2,61.19 M269.5,60.66 L270.8,60.15 L271.1,60.03 M272.4,59.56 L273.7,59.11 L274,59.01 M275.4,58.58 L276.7,58.21 L277,58.13 M278.3,57.78 L279.6,57.46 L279.9,57.39 M281.2,57.09 L282.4,56.83 L282.9,56.72 M284.2,56.46 L285.4,56.23 L285.8,56.15 M287.1,55.92 L288.4,55.69 L288.7,55.65 M290.1,55.43 L291.4,55.24 L291.7,55.2 M293,55.02 L294.3,54.84 L294.6,54.81 M295.9,54.67 L297.2,54.59 L297.6,54.57 M298.9,54.52 L300.2,54.47 L300.5,54.46 M301.8,54.42 L303.1,54.39 L303.4,54.38 M304.8,54.35 L306.1,54.32 L306.4,54.31 M307.7,54.29 L308.9,54.27 L309.3,54.26 M310.6,54.24 L311.9,54.22 L312.3,54.21 M313.6,54.19 L314.9,54.17 L315.2,54.16 M316.5,54.14 L317.8,54.12 L318.1,54.12 M319.5,54.09 L320.8,54.08 L321.1,54.07 M322.4,54.05 L323.7,54.04 L324,54.04 M325.3,54.02 L326.6,54.01 L327,54.01 M328.3,54 L329.6,54 L329.9,54 M331.2,54 L332.4,54 L332.8,54 M334.2,54 L335.4,54 L335.8,54 M337.1,54 L338.4,54 L338.7,54 M340,54 L341.3,54 L341.7,54 M343,54 L344.3,54 L344.6,54 M345.9,54 L347.2,54 L347.5,54 M348.9,53.99 L350.2,53.98 L350.5,53.97 M351.8,53.96 L353.1,53.94 L353.4,53.93 M354.7,53.91 L355.9,53.89 L356.4,53.89 M357.7,53.86 L358.9,53.84 L359.3,53.84 M360.6,53.82 L361.9,53.8 L362.2,53.8 M363.6,53.78 L364.9,53.76 L365.2,53.76 M366.5,53.74 L367.7,53.72 L368.1,53.72 M369.4,53.7 L370.7,53.68 L371.1,53.68 M372.4,53.66 L373.7,53.64 L374,53.64 M375.3,53.63 L376.6,53.61 L376.9,53.61 M378.3,53.6 L379.6,53.59 L379.9,53.58 M381.2,53.57 L382.5,53.56 L382.8,53.56 M384.1,53.55 L385.4,53.54 L385.8,53.53 M387.1,53.53 L388.4,53.52 L388.7,53.52 M390,53.51 L391.2,53.5 L391.6,53.5 M393,53.5 L394.2,53.5 L394.6,53.5 M395.9,53.5 L397.2,53.5 L397.5,53.5 M398.8,53.5 L400.1,53.5 L400.5,53.5 M401.8,53.5 L403.1,53.5 L403.4,53.5 M404.7,53.5 L406,53.5 L406.3,53.5 M407.7,53.5 L409,53.5 L409.3,53.5 M410.6,53.5 L411.9,53.5 L412.2,53.5 M413.5,53.51 L414.8,53.51 L415.2,53.51 M416.5,53.52 L417.8,53.53 L418.1,53.53 M419.4,53.54 L420.7,53.55 L421,53.55 M422.4,53.56 L423.7,53.57 L424,53.57 M425.3,53.58 L426.5,53.6 L426.9,53.6 M428.2,53.61 L429.5,53.63 L429.9,53.64 M431.2,53.66 L432.5,53.69 L432.8,53.7 M434.1,53.73 L435.4,53.76 L435.7,53.77 M437.1,53.81 L438.4,53.85 L438.7,53.86 M440,53.9 L441.3,53.94 L441.6,53.95 M442.9,54 L444.2,54.04 L444.6,54.06 M445.9,54.11 L447.2,54.17 L447.5,54.19 M448.8,54.25 L450,54.32 L450.4,54.34 M451.8,54.42 L453,54.49 L453.4,54.51 M454.7,54.59 L456,54.67 L456.3,54.69 M457.6,54.77 L458.9,54.86 L459.3,54.88 M460.6,54.97 L461.9,55.06 L462.2,55.08 M463.5,55.17 L464.8,55.26 L465.1,55.29 M466.5,55.39 L467.8,55.5 L468.1,55.52 M469.4,55.64 L470.7,55.75 L471,55.78 M472.3,55.91 L473.5,56.03 L474,56.09 M475.3,56.23 L476.5,56.38 L476.9,56.44 M478.2,56.62 L479.5,56.83 L479.8,56.88 M481.2,57.12 L482.5,57.35 L482.8,57.41 M484.1,57.66 L485.4,57.92 L485.7,57.99 M487,58.26 L488.3,58.54 L488.7,58.63 M490,58.93 L491.3,59.22 L491.6,59.29 M492.9,59.59 L494.2,59.91 L494.5,59.98 M495.9,60.35 L497.2,60.7 L497.5,60.78 M498.8,61.15 L500,61.5 L500.4,61.62 M501.7,62.01 L503,62.42 L503.4,62.55 M504.7,62.97 L506,63.4 L506.3,63.51 M507.6,63.95 L508.9,64.4 L509.2,64.5 M510.6,65 L511.9,65.48 L512.2,65.59 M513.5,66.09 L514.7,66.57 L515.1,66.73 M516.4,67.27 L517.6,67.78 L518.1,68 M519.4,68.57 L520.6,69.11 L521,69.29 M522.3,69.88 L523.5,70.43 L523.9,70.61 M525.3,71.25 L526.5,71.81 L526.9,71.99 M528.2,72.59 L529.5,73.18 L529.8,73.32 M531.1,73.9 L532.4,74.48 L532.8,74.66 M534.1,75.25 L535.4,75.84 L535.7,75.97 M537,76.58 L538.2,77.15 L538.6,77.34 M540,78.03 L541.2,78.64 L541.6,78.85 M542.9,79.55 L544.1,80.22 L544.5,80.45 M545.9,81.28 L547.1,82.04 L547.5,82.3 M548.8,83.19 L550,84.06 L550.4,84.36 M551.7,85.36 L553,86.41 L553.3,86.65 M554.7,87.83 L556,88.95 L556.3,89.21 M557.6,90.36 L558.9,91.54 L559.2,91.81 M560.5,93 L561.7,94.1 L562.2,94.57 M563.5,95.77 L564.7,96.88 L565.1,97.26 M566.4,98.49 L567.6,99.65 L568,100.04 M569.4,101.43 L570.6,102.64 L571,103.04 M572.3,104.38 L573.5,105.63 L573.9,106.06 M575.2,107.45 L576.4,108.75 L576.9,109.3 M578.2,110.75 L579.3,111.99 L579.8,112.56 M581.1,114.06 L582.2,115.35 L582.7,115.95 M584.1,117.65 L585.1,118.89 L585.7,119.65 M587,121.31 L588,122.62 L588.6,123.41 M589.9,125.14 L590.8,126.36 L591.6,127.45 M592.9,129.25 L593.8,130.5 L594.5,131.49 M595.8,133.33 L596.7,134.61 L597.4,135.61 M598.8,137.63 L599.7,138.93 L600.4,139.95 M601.7,141.83 L602.6,143.13 L603.3,144.14 M604.6,146.04 L605.5,147.36 L606.3,148.55 M607.6,150.49 L608.4,151.71 L609.2,152.94 M610.5,154.97 L611.3,156.24 L612.1,157.53 M613.5,159.84 L614.3,161.2 L615,162.4 L615.1,162.58 M616.4,164.88 L617.1,166.14 L617.8,167.44 L618,167.81 M619.4,170.48 L620.1,171.85 L620.8,173.24 L621,173.64 M622.3,176.3 L622.9,177.56 L623.5,178.83 L623.9,179.69 M625.2,182.53 L625.8,183.87 L626.4,185.23 L626.8,186.15 M628.2,189.42 L628.8,190.85 L629.3,192.06 L629.8,193.29 M631.1,196.53 L631.6,197.81 L632.1,199.09 L632.6,200.39 L632.7,200.66 M634,204.11 L634.5,205.47 L635,206.84 L635.5,208.22 L635.7,208.78 M637,212.51 L637.5,214 L637.9,215.21 L638.3,216.43 L638.6,217.37 M639.9,221.53 L640.3,222.86 L640.7,224.2 L641.1,225.57 L641.5,226.95 M642.9,231.97 L643.3,233.45 L643.7,234.96 L644.1,236.48 L644.5,238.03 M645.8,243.29 L646.1,244.57 L646.4,245.88 L646.7,247.22 L647,248.58 L647.3,249.96 L647.4,250.43 M648.8,257.16 L649.1,258.64 L649.4,260.14 L649.7,261.65 L650,263.17 L650.3,264.7 L650.4,265.21 M651.7,271.88 L652,273.43 L652.3,274.97 L652.6,276.51 L652.9,278.05 L653.2,279.59 L653.3,280.1 M654.6,286.87 L654.9,288.48 L655.2,290.11 L655.5,291.77 L655.8,293.46 L656.1,295.19 L656.2,295.78 M657.6,304.48 L657.8,305.81 L658,307.16 L658.2,308.53 L658.4,309.93 L658.6,311.35 L658.8,312.79 L658.9,313.53 M660.5,326.15 L660.7,327.88 L660.9,329.63 L661.1,331.43 L661.3,333.25 L661.5,335.11" fill="none" stroke="#0000ff" stroke-width="2.8"/><polygon points="122.8,337.01 117.8,345.51 127.8,345.51" fill="#fff" stroke="#0000ff" stroke-width="0.85"/><polygon points="140.45,252.74 135.45,261.24 145.45,261.24" fill="#fff" stroke="#0000ff" stroke-width="0.85"/><polygon points="158.1,202.99 153.1,211.49 163.1,211.49" fill="#fff" stroke="#0000ff" stroke-width="0.85"/><polygon points="175.75,164.87 170.75,173.37 180.75,173.37" fill="#fff" stroke="#0000ff" stroke-width="0.85"/><polygon points="193.4,131.72 188.4,140.22 198.4,140.22" fill="#fff" stroke="#0000ff" stroke-width="0.85"/><polygon points="211.05,104.64 206.05,113.14 216.05,113.14" fill="#fff" stroke="#0000ff" stroke-width="0.85"/><polygon points="228.7,84.39 223.7,92.89 233.7,92.89" fill="#fff" stroke="#0000ff" stroke-width="0.85"/><polygon points="246.35,68.49 241.35,76.99 251.35,76.99" fill="#fff" stroke="#0000ff" stroke-width="0.85"/><polygon points="264,57.78 259,66.28 269,66.28" fill="#fff" stroke="#0000ff" stroke-width="0.85"/><polygon points="281.65,51.68 276.65,60.18 286.65,60.18" fill="#fff" stroke="#0000ff" stroke-width="0.85"/><polygon points="299.3,49.21 294.3,57.71 304.3,57.71" fill="#fff" stroke="#0000ff" stroke-width="0.85"/><polygon points="316.95,48.84 311.95,57.34 321.95,57.34" fill="#fff" stroke="#0000ff" stroke-width="0.85"/><polygon points="334.6,48.7 329.6,57.2 339.6,57.2" fill="#fff" stroke="#0000ff" stroke-width="0.85"/><polygon points="352.25,48.65 347.25,57.15 357.25,57.15" fill="#fff" stroke="#0000ff" stroke-width="0.85"/><polygon points="369.9,48.39 364.9,56.89 374.9,56.89" fill="#fff" stroke="#0000ff" stroke-width="0.85"/><polygon points="387.55,48.22 382.55,56.72 392.55,56.72" fill="#fff" stroke="#0000ff" stroke-width="0.85"/><polygon points="405.2,48.2 400.2,56.7 410.2,56.7" fill="#fff" stroke="#0000ff" stroke-width="0.85"/><polygon points="422.85,48.26 417.85,56.76 427.85,56.76" fill="#fff" stroke="#0000ff" stroke-width="0.85"/><polygon points="440.5,48.62 435.5,57.12 445.5,57.12" fill="#fff" stroke="#0000ff" stroke-width="0.85"/><polygon points="458.15,49.51 453.15,58.01 463.15,58.01" fill="#fff" stroke="#0000ff" stroke-width="0.85"/><polygon points="475.8,51 470.8,59.5 480.8,59.5" fill="#fff" stroke="#0000ff" stroke-width="0.85"/><polygon points="493.45,54.41 488.45,62.91 498.45,62.91" fill="#fff" stroke="#0000ff" stroke-width="0.85"/><polygon points="511.1,59.88 506.1,68.38 516.1,68.38" fill="#fff" stroke="#0000ff" stroke-width="0.85"/><polygon points="528.75,67.52 523.75,76.02 533.75,76.02" fill="#fff" stroke="#0000ff" stroke-width="0.85"/><polygon points="546.4,76.29 541.4,84.79 551.4,84.79" fill="#fff" stroke="#0000ff" stroke-width="0.85"/><polygon points="564.05,90.93 559.05,99.43 569.05,99.43" fill="#fff" stroke="#0000ff" stroke-width="0.85"/><polygon points="581.7,109.46 576.7,117.96 586.7,117.96" fill="#fff" stroke="#0000ff" stroke-width="0.85"/><polygon points="599.35,133.06 594.35,141.56 604.35,141.56" fill="#fff" stroke="#0000ff" stroke-width="0.85"/><polygon points="617,160.66 612,169.16 622,169.16" fill="#fff" stroke="#0000ff" stroke-width="0.85"/><polygon points="634.65,200.44 629.65,208.94 639.65,208.94" fill="#fff" stroke="#0000ff" stroke-width="0.85"/><polygon points="652.3,269.67 647.3,278.17 657.3,278.17" fill="#fff" stroke="#0000ff" stroke-width="0.85"/></g>
<g clip-path="url(#ca)"><path d="M667.1,434 L667.3,444 M673.5,444 L673.7,434 M674.2,421.5 L674.5,413" fill="none" stroke="#0000ff" stroke-width="3.0"/></g>
<g clip-path="url(#ca)"><path transform="scale(1 1.04)" d="M85,20.67 L85.8,20.67 L86.6,20.67 L87.4,20.67 L88.2,20.67 L89,20.67 L89.8,20.68 L90.6,20.68 L91.4,20.68 L92.2,20.68 L93,20.69 L93.8,20.69 L94.6,20.7 L95.4,20.7 L96.2,20.71 L97,20.72 L97.8,20.72 L98.6,20.73 L99.4,20.73 L100.2,20.74 L101,20.75 L101.81,20.75 L102.61,20.76 L103.41,20.77 L104.21,20.77 L105.01,20.78 L105.81,20.79 L106.61,20.79 L107.41,20.8 L108.21,20.81 L109.01,20.82 L109.81,20.82 L110.61,20.83 L111.41,20.84 L112.21,20.85 L113.01,20.86 L113.81,20.87 L114.61,20.88 L115.41,20.89 L116.21,20.9 L117.01,20.91 L117.81,20.93 L118.61,20.94 L119.41,20.95 L120.21,20.97 L121.01,20.98 L121.81,21 L122.61,21.01 L123.41,21.03 L124.21,21.05 L125.01,21.07 L125.81,21.09 L126.61,21.11 L127.41,21.13 L128.21,21.16 L129.01,21.18 L129.81,21.21 L130.61,21.23 L131.41,21.26 L132.21,21.29 L133.01,21.32 L133.81,21.35 L134.62,21.38 L135.42,21.41 L136.22,21.44 L137.02,21.47 L137.82,21.51 L138.62,21.55 L139.42,21.58 L140.22,21.62 L141.02,21.67 L141.82,21.71 L142.62,21.76 L143.42,21.81 L144.22,21.86 L145.02,21.91 L145.82,21.96 L146.62,22.02 L147.42,22.08 L148.22,22.14 L149.02,22.2 L149.82,22.26 L150.62,22.33 L151.42,22.4 L152.22,22.47 L153.02,22.55 L153.82,22.63 L154.62,22.73 L155.42,22.82 L156.22,22.93 L157.02,23.04 L157.82,23.16 L158.62,23.28 L159.42,23.41 L160.22,23.55 L161.02,23.68 L161.82,23.82 L162.62,23.97 L163.42,24.11 L164.22,24.26 L165.02,24.41 L165.82,24.57 L166.63,24.72 L167.43,24.87 L168.23,25.02 L169.03,25.18 L169.83,25.33 L170.63,25.49 L171.43,25.65 L172.23,25.82 L173.03,25.99 L173.83,26.16 L174.63,26.33 L175.43,26.51 L176.23,26.69 L177.03,26.88 L177.83,27.07 L178.63,27.27 L179.43,27.47 L180.23,27.68 L181.03,27.89 L181.83,28.11 L182.63,28.33 L183.43,28.56 L184.23,28.8 L185.03,29.04 L185.83,29.29 L186.63,29.56 L187.43,29.83 L188.23,30.11 L189.03,30.41 L189.83,30.71 L190.63,31.02 L191.43,31.34 L192.23,31.67 L193.03,32 L193.83,32.35 L194.63,32.7 L195.43,33.06 L196.23,33.43 L197.03,33.81 L197.83,34.2 L198.63,34.59 L199.44,34.99 L200.24,35.4 L201.04,35.81 L201.84,36.25 L202.64,36.7 L203.44,37.16 L204.24,37.64 L205.04,38.14 L205.84,38.65 L206.64,39.17 L207.44,39.7 L208.24,40.25 L209.04,40.81 L209.84,41.37 L210.64,41.95 L211.44,42.54 L212.24,43.14 L213.04,43.74 L213.84,44.36 L214.64,44.98 L215.44,45.61 L216.24,46.24 L217.04,46.89 L217.84,47.54 L218.64,48.21 L219.44,48.9 L220.24,49.6 L221.04,50.31 L221.84,51.03 L222.64,51.77 L223.44,52.52 L224.24,53.28 L225.04,54.06 L225.84,54.85 L226.64,55.65 L227.44,56.47 L228.24,57.29 L229.04,58.14 L229.84,58.99 L230.64,59.86 L231.44,60.74 L232.25,61.64 L233.05,62.55 L233.85,63.48 L234.65,64.44 L235.45,65.42 L236.25,66.42 L237.05,67.44 L237.85,68.49 L238.65,69.55 L239.45,70.63 L240.25,71.72 L241.05,72.84 L241.85,73.96 L242.65,75.1 L243.35,76.11 L243.45,76.26 L244.15,77.27 L244.25,77.42 L244.95,78.45 L245.05,78.59 L245.75,79.63 L245.85,79.78 L246.55,80.82 L246.65,80.97 L247.35,82.02 L247.45,82.17 L248.15,83.23 L248.25,83.38 L248.95,84.44 L249.05,84.59 L249.75,85.67 L249.85,85.82 L250.55,86.91 L250.65,87.07 L251.35,88.17 L251.45,88.33 L252.15,89.45 L252.25,89.61 L252.95,90.74 L253.05,90.91 L253.75,92.05 L253.85,92.22 L254.55,93.38 L254.65,93.55 L255.25,94.55 L255.45,94.89 L256.05,95.9 L256.25,96.24 L256.85,97.27 L257.05,97.61 L257.65,98.64 L257.85,98.99 L258.45,100.03 L258.65,100.38 L259.25,101.43 L259.45,101.78 L260.05,102.84 L260.25,103.2 L260.85,104.27 L261.05,104.62 L261.65,105.7 L261.85,106.06 L262.45,107.14 L262.65,107.5 L263.25,108.59 L263.45,108.95 L264.05,110.05 L264.26,110.41 L264.86,111.51 L265.06,111.88 L265.66,112.99 L265.86,113.37 L266.46,114.51 L266.66,114.89 L267.26,116.05 L267.46,116.44 L268.06,117.62 L268.26,118.01 L268.86,119.21 L269.06,119.61 L269.56,120.61 L269.86,121.22 L270.36,122.24 L270.66,122.85 L271.16,123.87 L271.46,124.49 L271.96,125.52 L272.26,126.14 L272.76,127.17 L273.06,127.79 L273.56,128.83 L273.86,129.45 L274.36,130.48 L274.66,131.1 L275.16,132.13 L275.46,132.75 L275.96,133.77 L276.26,134.39 L276.76,135.41 L277.06,136.02 L277.56,137.03 L277.86,137.63 L278.46,138.83 L278.66,139.23 L279.26,140.41 L279.46,140.8 L280.06,141.97 L280.26,142.35 L280.86,143.5 L281.06,143.87 L281.66,145 L281.86,145.38 L282.46,146.52 L282.66,146.91 L283.26,148.06 L283.46,148.44 L284.06,149.6 L284.26,149.99 L284.86,151.16 L285.06,151.54 L285.66,152.71 L285.86,153.1 L286.46,154.26 L286.66,154.64 L287.26,155.8 L287.46,156.18 L288.06,157.32 L288.26,157.7 L288.86,158.83 L289.06,159.21 L289.66,160.32 L289.86,160.68 L290.46,161.77 L290.66,162.13 L291.26,163.2 L291.46,163.55 L292.06,164.58 L292.26,164.92 L292.86,165.92 L293.06,166.25 L293.76,167.38 L293.86,167.54 L294.56,168.62 L294.66,168.77 L295.36,169.79 L295.46,169.94 L296.26,171.04 L297.07,172.08 L297.87,173.09 L298.67,174.08 L299.47,175.04 L300.27,175.96 L301.07,176.84 L301.87,177.66 L302.67,178.43 L303.47,179.14 L304.27,179.78 L305.07,180.33 L305.87,180.85 L306.67,181.34 L307.47,181.81 L308.27,182.26 L309.07,182.67 L309.87,183.05 L310.67,183.39 L311.47,183.68 L312.27,183.93 L313.07,184.13 L313.87,184.29 L314.67,184.43 L315.47,184.57 L316.27,184.69 L317.07,184.79 L317.87,184.89 L318.67,184.98 L319.47,185.06 L320.27,185.13 L321.07,185.2 L321.87,185.26 L322.67,185.31 L323.47,185.37 L324.27,185.42 L325.07,185.46 L325.87,185.5 L326.67,185.54 L327.47,185.58 L328.27,185.62 L329.07,185.65 L329.88,185.68 L330.68,185.72 L331.48,185.74 L332.28,185.77 L333.08,185.79 L333.88,185.82 L334.68,185.84 L335.48,185.86 L336.28,185.89 L337.08,185.92 L337.88,185.96 L338.68,185.99 L339.48,186.03 L340.28,186.08 L341.08,186.12 L341.88,186.18 L342.68,186.23 L343.48,186.3 L344.28,186.36 L345.08,186.44 L345.88,186.53 L346.68,186.62 L347.48,186.75 L348.28,186.9 L349.08,187.08 L349.88,187.27 L350.68,187.49 L351.48,187.72 L352.28,187.98 L353.08,188.25 L353.88,188.53 L354.68,188.82 L355.48,189.14 L356.28,189.51 L357.08,189.94 L357.88,190.42 L358.68,190.94 L359.48,191.49 L360.28,192.06 L361.08,192.65 L361.89,193.24 L362.69,193.84 L363.49,194.46 L364.29,195.11 L365.09,195.78 L365.89,196.49 L366.69,197.21 L367.49,197.97 L368.29,198.74 L369.09,199.54 L369.89,200.36 L370.69,201.22 L371.49,202.11 L372.29,203.05 L373.09,204.02 L373.89,205.02 L374.69,206.04 L375.49,207.09 L376.29,208.14 L377.09,209.21 L377.89,210.28 L378.69,211.35 L379.49,212.43 L380.29,213.52 L381.09,214.63 L381.89,215.75 L382.69,216.89 L383.39,217.91 L383.49,218.05 L384.19,219.08 L384.29,219.23 L384.99,220.28 L385.09,220.43 L385.79,221.5 L385.89,221.65 L386.59,222.74 L386.69,222.9 L387.39,224.01 L387.49,224.18 L388.19,225.32 L388.29,225.48 L388.99,226.65 L389.09,226.82 L389.69,227.84 L389.89,228.18 L390.49,229.21 L390.69,229.56 L391.29,230.61 L391.49,230.96 L392.09,232.02 L392.29,232.38 L392.89,233.45 L393.09,233.8 L393.69,234.88 L393.89,235.24 L394.5,236.32 L394.7,236.68 L395.3,237.77 L395.5,238.14 L396.1,239.25 L396.3,239.62 L396.9,240.75 L397.1,241.13 L397.7,242.27 L397.9,242.65 L398.5,243.81 L398.7,244.19 L399.3,245.35 L399.5,245.73 L400.1,246.89 L400.3,247.27 L400.9,248.43 L401.1,248.81 L401.7,249.95 L401.9,250.33 L402.5,251.47 L402.7,251.84 L403.3,252.96 L403.5,253.33 L404.1,254.45 L404.3,254.83 L404.9,255.95 L405.1,256.33 L405.7,257.44 L405.9,257.81 L406.5,258.9 L406.7,259.26 L407.3,260.33 L407.5,260.68 L408.1,261.71 L408.3,262.04 L409,263.2 L409.1,263.36 L409.8,264.47 L409.9,264.63 L410.6,265.71 L410.7,265.87 L411.4,264.85 L412.1,263.79 L412.2,263.64 L412.9,262.53 L413,262.37 L413.7,261.2 L413.8,261.02 L414.4,259.96 L414.6,259.59 L415.2,258.47 L415.4,258.09 L416,256.93 L416.2,256.54 L416.8,255.35 L417,254.95 L417.5,253.95 L417.8,253.35 L418.4,252.15 L418.6,251.76 L419.2,250.57 L419.4,250.18 L420,249.03 L420.2,248.65 L420.8,247.55 L421,247.18 L421.6,246.11 L421.8,245.76 L422.4,244.7 L422.6,244.35 L423.2,243.29 L423.4,242.93 L424.01,241.86 L424.21,241.49 L424.81,240.38 L425.01,240 L425.61,238.84 L425.81,238.44 L426.31,237.42 L426.61,236.79 L427.11,235.7 L427.41,235.01 L427.91,233.83 L428.21,233.09 L428.61,232.08 L429.01,231.05 L429.41,229.99 L429.81,228.91 L430.21,227.81 L430.61,226.7 L431.01,225.57 L431.41,224.44 L431.81,223.3 L432.21,222.16 L432.61,221.02 L433.01,219.89 L433.41,218.76 L433.81,217.65 L434.21,216.55 L434.61,215.46 L435.01,214.4 L435.41,213.34 L435.81,212.29 L436.21,211.23 L436.61,210.17 L437.01,209.1 L437.41,208.04 L437.81,206.98 L438.21,205.93 L438.61,204.87 L439.01,203.82 L439.41,202.78 L439.81,201.74 L440.21,200.7 L440.61,199.68 L441.01,198.66 L441.41,197.65 L441.81,196.65 L442.31,195.42 L442.61,194.68 L443.11,193.48 L443.41,192.77 L443.91,191.58 L444.21,190.88 L444.71,189.72 L445.01,189.02 L445.51,187.87 L445.81,187.19 L446.31,186.06 L446.61,185.39 L447.11,184.27 L447.41,183.61 L447.91,182.51 L448.21,181.86 L448.71,180.77 L449.01,180.13 L449.51,179.07 L449.81,178.43 L450.31,177.38 L450.62,176.76 L451.12,175.72 L451.42,175.11 L451.92,174.1 L452.22,173.5 L452.82,172.3 L453.02,171.91 L453.62,170.74 L453.82,170.35 L454.42,169.19 L454.62,168.81 L455.22,167.66 L455.42,167.29 L456.02,166.15 L456.22,165.78 L456.82,164.66 L457.02,164.28 L457.62,163.16 L457.82,162.79 L458.42,161.68 L458.62,161.31 L459.22,160.19 L459.42,159.82 L460.02,158.71 L460.22,158.34 L460.82,157.24 L461.02,156.87 L461.62,155.77 L461.82,155.41 L462.42,154.32 L462.62,153.95 L463.22,152.87 L463.42,152.51 L464.02,151.43 L464.22,151.08 L464.82,150 L465.02,149.65 L465.62,148.58 L465.82,148.23 L466.42,147.17 L466.62,146.82 L467.22,145.77 L467.42,145.42 L468.02,144.41 L468.22,144.08 L468.92,142.94 L469.02,142.78 L469.72,141.66 L469.82,141.49 L470.52,140.36 L470.62,140.2 L471.32,139.04 L471.42,138.87 L472.02,137.84 L472.22,137.49 L472.82,136.4 L473.02,136.03 L473.62,134.87 L473.82,134.46 L474.32,133.34 L474.62,132.62 L475.12,131.42 L475.42,130.75 L476.02,129.55 L476.22,129.17 L476.82,128.06 L477.03,127.69 L477.63,126.63 L477.83,126.29 L478.43,125.28 L478.63,124.94 L479.33,123.81 L479.43,123.65 L480.13,122.54 L480.23,122.38 L480.93,121.3 L481.03,121.14 L481.73,120.06 L481.83,119.91 L482.53,118.83 L482.63,118.67 L483.33,117.58 L483.43,117.42 L484.13,116.32 L484.23,116.16 L484.93,115.07 L485.03,114.91 L485.73,113.83 L485.83,113.67 L486.53,112.6 L486.63,112.44 L487.33,111.38 L487.43,111.22 L488.13,110.17 L488.23,110.01 L488.93,108.96 L489.03,108.81 L489.73,107.77 L489.83,107.62 L490.53,106.58 L490.63,106.44 L491.33,105.4 L491.43,105.26 L492.13,104.23 L492.23,104.08 L492.93,103.06 L493.03,102.92 L493.73,101.9 L493.83,101.76 L494.53,100.75 L494.63,100.61 L495.33,99.61 L495.43,99.46 L496.23,98.33 L497.03,97.2 L497.83,96.08 L498.63,94.96 L499.43,93.86 L500.23,92.76 L501.03,91.66 L501.83,90.57 L502.63,89.48 L503.43,88.4 L504.24,87.33 L505.04,86.26 L505.84,85.21 L506.64,84.17 L507.44,83.15 L508.24,82.14 L509.04,81.13 L509.84,80.14 L510.64,79.15 L511.44,78.18 L512.24,77.21 L513.04,76.26 L513.84,75.32 L514.64,74.39 L515.44,73.48 L516.24,72.59 L517.04,71.72 L517.84,70.86 L518.64,70.01 L519.44,69.18 L520.24,68.35 L521.04,67.54 L521.84,66.74 L522.64,65.96 L523.44,65.18 L524.24,64.42 L525.04,63.66 L525.84,62.92 L526.64,62.18 L527.44,61.46 L528.24,60.75 L529.04,60.05 L529.84,59.35 L530.65,58.67 L531.45,58 L532.25,57.34 L533.05,56.69 L533.85,56.05 L534.65,55.41 L535.45,54.78 L536.25,54.16 L537.05,53.55 L537.85,52.96 L538.65,52.38 L539.45,51.82 L540.25,51.29 L541.05,50.77 L541.85,50.27 L542.65,49.79 L543.45,49.31 L544.25,48.85 L545.05,48.4 L545.85,47.97 L546.65,47.54 L547.45,47.12 L548.25,46.72 L549.05,46.32 L549.85,45.93 L550.65,45.55 L551.45,45.18 L552.25,44.82 L553.05,44.47 L553.85,44.12 L554.65,43.78 L555.45,43.46 L556.25,43.14 L557.06,42.82 L557.86,42.52 L558.66,42.22 L559.46,41.92 L560.26,41.63 L561.06,41.35 L561.86,41.07 L562.66,40.81 L563.46,40.55 L564.26,40.31 L565.06,40.08 L565.86,39.86 L566.66,39.64 L567.46,39.43 L568.26,39.23 L569.06,39.03 L569.86,38.84 L570.66,38.66 L571.46,38.49 L572.26,38.33 L573.06,38.18 L573.86,38.04 L574.66,37.89 L575.46,37.75 L576.26,37.62 L577.06,37.49 L577.86,37.37 L578.66,37.26 L579.46,37.16 L580.26,37.08 L581.06,37.01 L581.86,36.96 L582.66,36.91 L583.47,36.86 L584.27,36.82 L585.07,36.78 L585.87,36.74 L586.67,36.71 L587.47,36.68 L588.27,36.65 L589.07,36.62 L589.87,36.6 L590.67,36.57 L591.47,36.55 L592.27,36.52 L593.07,36.5 L593.87,36.48 L594.67,36.46 L595.47,36.45 L596.27,36.44 L597.07,36.44 L597.87,36.44 L598.67,36.44 L599.47,36.44 L600.27,36.44 L601.07,36.44 L601.87,36.44 L602.67,36.44 L603.47,36.44 L604.27,36.44 L605.07,36.44 L605.87,36.45 L606.67,36.46 L607.47,36.49 L608.27,36.52 L609.07,36.55 L609.88,36.59 L610.68,36.62 L611.48,36.66 L612.28,36.7 L613.08,36.73 L613.88,36.77 L614.68,36.8 L615.48,36.83 L616.28,36.87 L617.08,36.9 L617.88,36.94 L618.68,36.98 L619.48,37.02 L620.28,37.06 L621.08,37.11 L621.88,37.15 L622.68,37.21 L623.48,37.26 L624.28,37.32 L625.08,37.38 L625.88,37.45 L626.68,37.52 L627.48,37.59 L628.28,37.67 L629.08,37.75 L629.88,37.83 L630.68,37.92 L631.48,38.01 L632.28,38.12 L633.08,38.22 L633.88,38.33 L634.68,38.45 L635.48,38.56 L636.29,38.68 L637.09,38.79 L637.89,38.9 L638.69,39.01 L639.49,39.12 L640.29,39.23 L641.09,39.34 L641.89,39.45 L642.69,39.57 L643.49,39.68 L644.29,39.81 L645.09,39.93 L645.89,40.06 L646.69,40.2 L647.49,40.34 L648.29,40.48 L649.09,40.63 L649.89,40.78 L650.69,40.93 L651.49,41.09 L652.29,41.26 L653.09,41.44 L653.89,41.62 L654.69,41.81 L655.49,42.01 L656.29,42.23 L657.09,42.45 L657.89,42.68 L658.69,42.91 L659.49,43.15 L660.29,43.4 L661.09,43.65 L661.89,43.91 L662.7,44.17 L663.5,44.43 L664.3,44.7 L665.1,44.98 L665.9,45.27 L666.7,45.56 L667.5,45.86 L668.3,46.18 L669.1,46.5 L669.9,46.83 L670.7,47.18 L671.5,47.54 L672.3,47.93 L673.1,48.32 L673.9,48.73 L674.7,49.15 L675.5,49.59 L675.9,49.81" fill="none" stroke="#000000" stroke-width="3.03" stroke-linejoin="round"/><rect x="83.8" y="17.9" width="7.2" height="7.2" fill="#000000"/><rect x="99.99" y="18" width="7.2" height="7.2" fill="#000000"/><rect x="116.17" y="18.2" width="7.2" height="7.2" fill="#000000"/><rect x="132.36" y="18.69" width="7.2" height="7.2" fill="#000000"/><rect x="148.54" y="19.76" width="7.2" height="7.2" fill="#000000"/><rect x="164.73" y="22.44" width="7.2" height="7.2" fill="#000000"/><rect x="180.91" y="26.44" width="7.2" height="7.2" fill="#000000"/><rect x="197.1" y="33.48" width="7.2" height="7.2" fill="#000000"/><rect x="213.28" y="44.99" width="7.2" height="7.2" fill="#000000"/><rect x="229.47" y="61.45" width="7.2" height="7.2" fill="#000000"/><rect x="245.65" y="84.69" width="7.2" height="7.2" fill="#000000"/><rect x="261.83" y="113.53" width="7.2" height="7.2" fill="#000000"/><rect x="278.02" y="147.2" width="7.2" height="7.2" fill="#000000"/><rect x="294.2" y="176.29" width="7.2" height="7.2" fill="#000000"/><rect x="310.39" y="188.08" width="7.2" height="7.2" fill="#000000"/><rect x="326.57" y="189.52" width="7.2" height="7.2" fill="#000000"/><rect x="342.76" y="190.45" width="7.2" height="7.2" fill="#000000"/><rect x="358.94" y="197.91" width="7.2" height="7.2" fill="#000000"/><rect x="375.13" y="216.2" width="7.2" height="7.2" fill="#000000"/><rect x="391.31" y="242.92" width="7.2" height="7.2" fill="#000000"/><rect x="407.5" y="272.3" width="7.2" height="7.2" fill="#000000"/><rect x="423.69" y="241.05" width="7.2" height="7.2" fill="#000000"/><rect x="439.87" y="196.63" width="7.2" height="7.2" fill="#000000"/><rect x="456.06" y="162.23" width="7.2" height="7.2" fill="#000000"/><rect x="472.24" y="131.54" width="7.2" height="7.2" fill="#000000"/><rect x="488.43" y="104.95" width="7.2" height="7.2" fill="#000000"/><rect x="504.61" y="81.82" width="7.2" height="7.2" fill="#000000"/><rect x="520.79" y="63.19" width="7.2" height="7.2" fill="#000000"/><rect x="536.98" y="49.53" width="7.2" height="7.2" fill="#000000"/><rect x="553.16" y="41.06" width="7.2" height="7.2" fill="#000000"/><rect x="569.35" y="36.13" width="7.2" height="7.2" fill="#000000"/><rect x="585.53" y="34.49" width="7.2" height="7.2" fill="#000000"/><rect x="601.72" y="34.3" width="7.2" height="7.2" fill="#000000"/><rect x="617.9" y="35.01" width="7.2" height="7.2" fill="#000000"/><rect x="634.09" y="36.83" width="7.2" height="7.2" fill="#000000"/><rect x="650.27" y="39.68" width="7.2" height="7.2" fill="#000000"/><rect x="666.46" y="45.19" width="7.2" height="7.2" fill="#000000"/></g>
<g clip-path="url(#ca)"><path transform="scale(1 1.04)" d="M104.4,429.81 L104.6,428.36 L104.8,426.9 L105,425.43 L105.2,423.96 L105.4,422.45 L105.6,420.92 L105.8,419.39 L106,417.86 L106.2,416.35 L106.4,414.88 L106.6,413.46 L106.8,412.08 L107,410.72 L107.2,409.37 L107.4,408.03 L107.6,406.71 L107.8,405.39 L108,404.09 L108.2,402.8 L108.4,401.52 L108.6,400.25 L108.8,398.99 L109,397.74 L109.2,396.5 L109.4,395.27 L109.6,394.05 L109.8,392.83 L110,391.62 L110.2,390.42 L110.4,389.22 L110.6,388.03 L110.8,386.84 L111,385.66 L111.2,384.48 L111.4,383.31 L111.6,382.14 L111.8,380.97 L112,379.81 L112.2,378.65 L112.4,377.5 L112.6,376.35 L112.8,375.22 L113,374.09 L113.2,372.96 L113.4,371.85 L113.6,370.73 L113.8,369.63 L114,368.53 L114.2,367.44 L114.4,366.35 L114.6,365.26 L114.8,364.18 L115,363.1 L115.2,362.03 L115.4,360.96 L115.6,359.89 L115.8,358.83 L116,357.76 L116.2,356.7 L116.4,355.64 L116.6,354.59 L116.8,353.53 L117,352.48 L117.2,351.42 L117.4,350.37 L117.6,349.31 L117.8,348.26 L118,347.2 L118.2,346.15 L118.4,345.09 L118.6,344.03 L118.8,342.97 L119,341.9 L119.2,340.84 L119.4,339.77 L119.6,338.69 L119.8,337.62 L120,336.54 L120.2,335.45 L120.4,334.36 L120.6,333.27 L120.8,332.17 L121,331.06 L121.2,329.95 L121.4,328.84 L121.6,327.72 L121.8,326.6 L122,325.48 L122.2,324.36 L122.4,323.23 L122.6,322.11 L122.8,320.99 L123,319.86 L123.2,318.74 L123.4,317.62 L123.6,316.5 L123.8,315.38 L124,314.26 L124.2,313.15 L124.4,312.04 L124.6,310.94 L124.8,309.84 L125,308.74 L125.2,307.66 L125.4,306.57 L125.6,305.5 L125.8,304.43 L126,303.37 L126.2,302.31 L126.4,301.27 L126.6,300.23 L126.8,299.2 L127,298.19 L127.2,297.18 L127.5,295.69 L127.6,295.2 L127.9,293.75 L128.2,292.32 L128.4,291.37 L128.7,289.96 L129,288.56 L129.2,287.64 L129.5,286.26 L129.8,284.89 L130,283.98 L130.3,282.63 L130.6,281.3 L130.8,280.41 L131.1,279.09 L131.4,277.79 L131.6,276.92 L131.9,275.64 L132.2,274.36 L132.4,273.52 L132.7,272.27 L133,271.03 L133.2,270.21 L133.5,268.99 L133.8,267.78 L134,266.98 L134.3,265.8 L134.6,264.63 L134.8,263.85 L135.1,262.7 L135.4,261.57 L135.6,260.82 L135.9,259.7 L136.2,258.6 L136.4,257.88 L136.7,256.8 L137,255.74 L137.2,255.04 L137.5,253.99 L137.8,252.96 L138,252.28 L138.3,251.26 L138.6,250.26 L138.8,249.59 L139.2,248.27 L139.6,246.96 L140,245.67 L140.4,244.38 L140.8,243.11 L141.2,241.84 L141.6,240.58 L142,239.32 L142.4,238.06 L142.8,236.81 L143.2,235.56 L143.6,234.3 L144,233.05 L144.4,231.8 L144.8,230.55 L145.2,229.31 L145.6,228.08 L146,226.85 L146.4,225.63 L146.8,224.41 L147.2,223.2 L147.6,222 L148,220.81 L148.4,219.63 L148.8,218.46 L149.2,217.3 L149.6,216.15 L150,215.01 L150.4,213.89 L150.8,212.77 L151.2,211.67 L151.6,210.59 L152,209.51 L152.4,208.45 L152.8,207.4 L153.2,206.35 L153.6,205.32 L154,204.29 L154.4,203.27 L154.8,202.26 L155.2,201.26 L155.6,200.26 L156.1,199.03 L156.4,198.29 L156.9,197.07 L157.2,196.35 L157.7,195.14 L158,194.42 L158.5,193.23 L158.8,192.52 L159.3,191.34 L159.6,190.63 L160.1,189.46 L160.4,188.76 L160.9,187.61 L161.2,186.92 L161.7,185.79 L162,185.11 L162.5,183.99 L162.8,183.32 L163.3,182.21 L163.6,181.54 L164.1,180.44 L164.4,179.79 L164.9,178.69 L165.2,178.04 L165.7,176.96 L166,176.31 L166.5,175.23 L166.8,174.58 L167.3,173.51 L167.6,172.86 L168.1,171.79 L168.4,171.15 L168.9,170.1 L169.2,169.46 L169.7,168.41 L170,167.79 L170.5,166.75 L170.8,166.12 L171.3,165.09 L171.6,164.47 L172.1,163.44 L172.4,162.82 L172.9,161.79 L173.2,161.17 L173.7,160.15 L174,159.53 L174.5,158.51 L174.8,157.89 L175.3,156.87 L175.6,156.25 L176.1,155.22 L176.4,154.6 L176.9,153.56 L177.2,152.94 L177.7,151.9 L178,151.28 L178.5,150.24 L178.8,149.61 L179.3,148.58 L179.6,147.96 L180.1,146.93 L180.4,146.32 L180.9,145.3 L181.2,144.7 L181.7,143.7 L182,143.1 L182.6,141.92 L182.8,141.54 L183.4,140.38 L183.6,140.01 L184.2,138.88 L184.4,138.5 L185,137.39 L185.2,137.03 L185.8,135.93 L186,135.57 L186.6,134.49 L186.8,134.13 L187.4,133.07 L187.6,132.71 L188.2,131.66 L188.4,131.31 L189,130.26 L189.2,129.92 L189.8,128.88 L190,128.53 L190.6,127.5 L190.8,127.16 L191.4,126.13 L191.6,125.79 L192.2,124.76 L192.4,124.42 L193,123.4 L193.2,123.06 L193.8,122.03 L194,121.7 L194.6,120.68 L194.8,120.34 L195.4,119.34 L195.6,119.01 L196.3,117.85 L196.4,117.69 L197.1,116.55 L197.2,116.39 L197.9,115.28 L198,115.12 L198.7,114.04 L198.8,113.89 L199.5,112.83 L199.6,112.68 L200.3,111.66 L200.4,111.51 L201.1,110.51 L201.2,110.36 L202,109.24 L202.8,108.14 L203.6,107.05 L204.4,105.98 L205.2,104.92 L206,103.87 L206.8,102.83 L207.6,101.79 L208.4,100.76 L209.2,99.73 L210,98.71 L210.8,97.69 L211.6,96.69 L212.4,95.7 L213.2,94.73 L214,93.78 L214.8,92.84 L215.6,91.92 L216.4,91.03 L217.2,90.14 L218,89.27 L218.8,88.41 L219.6,87.57 L220.4,86.74 L221.2,85.92 L222,85.12 L222.8,84.33 L223.6,83.56 L224.4,82.79 L225.2,82.05 L226,81.31 L226.8,80.59 L227.6,79.88 L228.4,79.18 L229.2,78.49 L230,77.81 L230.8,77.13 L231.6,76.46 L232.4,75.8 L233.2,75.15 L234,74.49 L234.8,73.85 L235.6,73.2 L236.4,72.57 L237.2,71.95 L238,71.34 L238.8,70.74 L239.6,70.16 L240.4,69.59 L241.2,69.03 L242,68.48 L242.8,67.93 L243.6,67.4 L244.4,66.87 L245.2,66.36 L246,65.86 L246.8,65.39 L247.6,64.93 L248.4,64.51 L249.2,64.1 L250,63.71 L250.8,63.33 L251.6,62.96 L252.4,62.61 L253.2,62.27 L254,61.94 L254.8,61.63 L255.6,61.34 L256.4,61.06 L257.2,60.8 L258,60.55 L258.8,60.32 L259.6,60.09 L260.4,59.87 L261.2,59.66 L262,59.46 L262.8,59.28 L263.6,59.1 L264.4,58.94 L265.2,58.79 L266,58.65 L266.8,58.52 L267.6,58.4 L268.4,58.28 L269.2,58.16 L270,58.06 L270.8,57.95 L271.6,57.86 L272.4,57.76 L273.2,57.67 L274,57.58 L274.8,57.5 L275.6,57.41 L276.4,57.33 L277.2,57.26 L278,57.19 L278.8,57.12 L279.6,57.05 L280.4,56.98 L281.2,56.92 L282,56.86 L282.8,56.8 L283.6,56.75 L284.4,56.69 L285.2,56.64 L286,56.59 L286.8,56.54 L287.6,56.5 L288.4,56.46 L289.2,56.44 L290,56.41 L290.8,56.39 L291.6,56.37 L292.4,56.35 L293.2,56.33 L294,56.31 L294.8,56.3 L295.6,56.28 L296.4,56.27 L297.2,56.25 L298,56.24 L298.8,56.23 L299.6,56.22 L300.4,56.2 L301.2,56.19 L302,56.18 L302.8,56.17 L303.6,56.16 L304.4,56.15 L305.2,56.14 L306,56.13 L306.8,56.12 L307.6,56.11 L308.4,56.1 L309.2,56.1 L310,56.09 L310.8,56.08 L311.6,56.07 L312.4,56.07 L313.2,56.06 L314,56.05 L314.8,56.05 L315.6,56.04 L316.4,56.04 L317.2,56.03 L318,56.02 L318.8,56.02 L319.6,56.01 L320.4,56 L321.2,56 L322,55.99 L322.8,55.99 L323.6,55.98 L324.4,55.98 L325.2,55.97 L326,55.97 L326.8,55.97 L327.6,55.96 L328.4,55.96 L329.2,55.96 L330,55.96 L330.8,55.96 L331.6,55.96 L332.4,55.96 L333.2,55.96 L334,55.96 L334.8,55.96 L335.6,55.96 L336.4,55.96 L337.2,55.96 L338,55.96 L338.8,55.96 L339.6,55.96 L340.4,55.96 L341.2,55.96 L342,55.96 L342.8,55.96 L343.6,55.96 L344.4,55.96 L345.2,55.96 L346,55.96 L346.8,55.96 L347.6,55.96 L348.4,55.96 L349.2,55.96 L350,55.96 L350.8,55.96 L351.6,55.96 L352.4,55.96 L353.2,55.96 L354,55.96 L354.8,55.96 L355.6,55.96 L356.4,55.96 L357.2,55.96 L358,55.96 L358.8,55.96 L359.6,55.96 L360.4,55.96 L361.2,55.96 L362,55.96 L362.8,55.96 L363.6,55.96 L364.4,55.96 L365.2,55.97 L366,55.97 L366.8,55.97 L367.6,55.98 L368.4,55.98 L369.2,55.99 L370,55.99 L370.8,56 L371.6,56 L372.4,56.01 L373.2,56.02 L374,56.02 L374.8,56.03 L375.6,56.04 L376.4,56.04 L377.2,56.05 L378,56.06 L378.8,56.06 L379.6,56.07 L380.4,56.08 L381.2,56.08 L382,56.09 L382.8,56.1 L383.6,56.11 L384.4,56.12 L385.2,56.13 L386,56.14 L386.8,56.15 L387.6,56.16 L388.4,56.17 L389.2,56.18 L390,56.19 L390.8,56.2 L391.6,56.21 L392.4,56.22 L393.2,56.23 L394,56.24 L394.8,56.26 L395.6,56.27 L396.4,56.28 L397.2,56.28 L398,56.29 L398.8,56.3 L399.6,56.31 L400.4,56.32 L401.2,56.33 L402,56.34 L402.8,56.35 L403.6,56.36 L404.4,56.37 L405.2,56.38 L406,56.4 L406.8,56.41 L407.6,56.43 L408.4,56.44 L409.2,56.46 L410,56.48 L410.8,56.5 L411.6,56.52 L412.4,56.55 L413.2,56.59 L414,56.63 L414.8,56.67 L415.6,56.72 L416.4,56.78 L417.2,56.84 L418,56.9 L418.8,56.96 L419.6,57.03 L420.4,57.1 L421.2,57.17 L422,57.24 L422.8,57.32 L423.6,57.39 L424.4,57.46 L425.2,57.54 L426,57.61 L426.8,57.68 L427.6,57.76 L428.4,57.83 L429.2,57.91 L430,57.99 L430.8,58.07 L431.6,58.15 L432.4,58.24 L433.2,58.32 L434,58.41 L434.8,58.5 L435.6,58.6 L436.4,58.69 L437.2,58.79 L438,58.88 L438.8,58.98 L439.6,59.08 L440.4,59.18 L441.2,59.28 L442,59.38 L442.8,59.48 L443.6,59.58 L444.4,59.68 L445.2,59.78 L446,59.89 L446.8,59.99 L447.6,60.09 L448.4,60.19 L449.2,60.29 L450,60.4 L450.8,60.51 L451.6,60.62 L452.4,60.73 L453.2,60.85 L454,60.97 L454.8,61.1 L455.6,61.23 L456.4,61.36 L457.2,61.5 L458,61.65 L458.8,61.8 L459.6,61.96 L460.4,62.14 L461.2,62.33 L462,62.54 L462.8,62.76 L463.6,63 L464.4,63.24 L465.2,63.49 L466,63.74 L466.8,64 L467.6,64.26 L468.4,64.53 L469.2,64.81 L470,65.09 L470.8,65.38 L471.6,65.68 L472.4,65.99 L473.2,66.31 L474,66.64 L474.8,66.97 L475.6,67.31 L476.4,67.66 L477.2,68.02 L478,68.39 L478.8,68.77 L479.6,69.16 L480.4,69.55 L481.2,69.96 L482,70.38 L482.8,70.8 L483.6,71.24 L484.4,71.68 L485.2,72.12 L486,72.57 L486.8,73.03 L487.6,73.51 L488.4,74 L489.2,74.5 L490,75.02 L490.8,75.56 L491.6,76.13 L492.4,76.72 L493.2,77.34 L494,78 L494.8,78.68 L495.6,79.39 L496.4,80.12 L497.2,80.88 L498,81.65 L498.8,82.44 L499.6,83.25 L500.4,84.07 L501.2,84.91 L502,85.77 L502.8,86.66 L503.6,87.57 L504.4,88.51 L505.2,89.48 L506,90.46 L506.8,91.48 L507.6,92.51 L508.4,93.57 L509.2,94.67 L510,95.79 L510.7,96.8 L510.8,96.95 L511.5,97.99 L511.6,98.14 L512.3,99.21 L512.4,99.36 L513.1,100.45 L513.2,100.61 L513.9,101.74 L514,101.9 L514.7,103.05 L514.8,103.21 L515.4,104.22 L515.6,104.56 L516.2,105.6 L516.4,105.94 L517,107 L517.2,107.35 L517.8,108.42 L518,108.78 L518.6,109.88 L518.8,110.25 L519.4,111.38 L519.6,111.76 L520.2,112.92 L520.4,113.31 L521,114.51 L521.2,114.92 L521.7,115.95 L522,116.59 L522.5,117.66 L522.8,118.32 L523.3,119.44 L523.6,120.13 L524.1,121.3 L524.4,122.02 L524.8,123.02 L525.2,124.1 L525.6,125.23 L526,126.41 L526.4,127.62 L526.8,128.84 L527.2,130.07 L527.6,131.29 L528,132.48 L528.4,133.64 L528.8,134.75 L529.2,135.81 L529.6,136.82 L530,137.81 L530.5,139.04 L530.8,139.77 L531.3,141.01 L531.6,141.78 L532,142.84 L532.4,143.94 L532.8,145.11 L533.2,146.33 L533.6,147.6 L534,148.9 L534.4,150.24 L534.7,151.26 L534.8,151.6 L535.1,152.63 L535.4,153.68 L535.6,154.37 L535.9,155.42 L536.2,156.47 L536.4,157.17 L536.7,158.23 L537,159.3 L537.2,160.02 L537.5,161.11 L537.8,162.2 L538,162.94 L538.3,164.06 L538.6,165.19 L538.8,165.95 L539.1,167.11 L539.4,168.28 L539.6,169.07 L539.9,170.27 L540.2,171.49 L540.4,172.31 L540.7,173.56 L541,174.83 L541.2,175.69 L541.5,176.99 L541.8,178.3 L542,179.19 L542.3,180.53 L542.6,181.9 L542.8,182.81 L543.1,184.2 L543.4,185.61 L543.6,186.55 L543.9,187.98 L544.2,189.42 L544.4,190.39 L544.7,191.85 L545,193.31 L545.2,194.3 L545.5,195.8 L545.7,196.82 L545.9,197.85 L546,198.37 L546.2,199.42 L546.4,200.49 L546.6,201.58 L546.8,202.68 L547,203.81 L547.2,204.96 L547.4,206.13 L547.6,207.34 L547.8,208.58 L548,209.87 L548.2,211.2 L548.4,212.56 L548.6,213.95 L548.8,215.36 L549,216.79 L549.2,218.24 L549.4,219.69 L549.6,221.14 L549.8,222.59 L550,224.04 L550.2,225.48 L550.4,226.93 L550.6,228.38 L550.8,229.85 L551,231.32 L551.2,232.8 L551.4,234.3 L551.6,235.81 L551.8,237.33 L552,238.87 L552.2,240.42 L552.4,241.99 L552.6,243.58 L552.8,245.14 L553,246.67 L553.2,248.19 L553.4,249.7 L553.6,251.23 L553.8,252.77 L554,254.34 L554.2,255.95 L554.4,257.61 L554.6,259.33 L554.8,261.12 L555,263 L555.2,264.97 L555.3,265.99 L555.4,267.04 L555.5,268.12 L555.6,269.23 L555.7,270.45 L555.8,271.82 L555.9,273.31 L556,274.87 L556.1,276.45 L556.2,278.02 L556.3,279.54 L556.4,280.95 L556.5,282.21 L556.6,283.37 L556.7,284.51 L556.8,285.61 L556.9,286.69 L557,287.74 L557.1,288.77 L557.2,289.78 L557.4,291.73 L557.6,293.61 L557.8,295.43 L558,297.21 L558.2,298.94 L558.4,300.66 L558.6,302.36 L558.8,304.06 L559,305.77 L559.2,307.48 L559.4,309.18 L559.6,310.86 L559.8,312.51 L560,314.15 L560.2,315.77 L560.4,317.37 L560.6,318.95 L560.8,320.51 L561,322.04 L561.2,323.55 L561.4,325.04 L561.6,326.5 L561.8,327.94 L561.9,328.65 L562.1,326.98 L562.3,325.27 L562.5,323.54 L562.7,321.77 L562.9,319.98 L563.1,318.15 L563.3,316.3 L563.5,314.42 L563.7,312.52 L563.9,310.59 L564.1,308.63 L564.2,307.62 L564.3,306.59 L564.4,305.54 L564.5,304.48 L564.6,303.41 L564.7,302.33 L564.8,301.24 L564.9,300.15 L565,299.05 L565.1,297.96 L565.2,296.86 L565.3,295.77 L565.4,294.69 L565.5,293.61 L565.6,292.55 L565.7,291.5 L565.8,290.47 L565.9,289.45 L566.1,287.48 L566.3,285.52 L566.5,283.58 L566.7,281.65 L566.9,279.75 L567.1,277.88 L567.3,276.05 L567.5,274.26 L567.7,272.53 L567.9,270.85 L568.1,269.23 L568.3,267.68 L568.5,266.19 L568.7,264.76 L568.9,263.36 L569.1,262 L569.3,260.66 L569.5,259.34 L569.7,258.03 L569.9,256.71 L570.1,255.37 L570.3,254.02 L570.5,252.63 L570.7,251.21 L570.9,249.74 L571.1,248.26 L571.3,246.76 L571.5,245.26 L571.7,243.75 L571.9,242.27 L572.1,240.8 L572.3,239.37 L572.5,237.98 L572.7,236.62 L572.9,235.27 L573.1,233.92 L573.3,232.59 L573.5,231.28 L573.7,229.98 L573.9,228.71 L574.1,227.45 L574.3,226.22 L574.5,225.01 L574.7,223.83 L574.9,222.68 L575.1,221.56 L575.3,220.47 L575.5,219.39 L575.7,218.34 L575.9,217.31 L576.1,216.3 L576.3,215.31 L576.6,213.84 L576.9,212.39 L577.1,211.44 L577.4,210.02 L577.7,208.61 L577.9,207.67 L578.2,206.26 L578.5,204.86 L578.7,203.94 L579,202.56 L579.3,201.19 L579.5,200.29 L579.8,198.96 L580.1,197.63 L580.3,196.76 L580.6,195.46 L580.9,194.17 L581.1,193.33 L581.4,192.04 L581.7,190.74 L581.9,189.88 L582.2,188.59 L582.5,187.34 L582.7,186.52 L583,185.34 L583.3,184.22 L583.5,183.52 L583.9,182.22 L584.3,181.02 L584.7,179.89 L585.1,178.82 L585.5,177.79 L585.9,176.81 L586.4,175.62 L586.7,174.92 L587.2,173.77 L587.5,173.07 L588,171.91 L588.3,171.2 L588.8,169.97 L589.1,169.22 L589.5,168.21 L589.9,167.2 L590.3,166.18 L590.7,165.17 L591.1,164.17 L591.5,163.18 L592,161.96 L592.3,161.24 L592.8,160.07 L593.1,159.39 L593.6,158.26 L593.9,157.59 L594.4,156.49 L594.7,155.83 L595.2,154.76 L595.5,154.13 L596,153.1 L596.3,152.5 L596.9,151.34 L597.1,150.96 L597.7,149.89 L597.9,149.54 L598.5,148.54 L598.7,148.21 L599.4,147.1 L599.5,146.95 L600.2,145.9 L600.3,145.75 L601,144.74 L601.1,144.6 L601.9,143.49 L602.7,142.45 L603.5,141.46 L604.3,140.48 L605.1,139.49 L605.9,138.45 L606.7,137.37 L607.5,136.27 L608.3,135.14 L609.1,134.02 L609.9,132.9 L610.7,131.79 L611.5,130.73 L612.3,129.7 L613.1,128.73 L613.9,127.79 L614.7,126.87 L615.5,125.97 L616.3,125.1 L617.1,124.24 L617.9,123.4 L618.7,122.6 L619.5,121.81 L620.3,121.05 L621.1,120.33 L621.9,119.62 L622.7,118.94 L623.5,118.28 L624.3,117.63 L625.1,117.01 L625.9,116.4 L626.7,115.82 L627.5,115.25 L628.3,114.7 L629.1,114.17 L629.9,113.65 L630.7,113.16 L631.5,112.68 L632.3,112.21 L633.1,111.76 L633.9,111.32 L634.7,110.88 L635.5,110.45 L636.3,110.02 L637.1,109.59 L637.9,109.16 L638.7,108.73 L639.5,108.31 L640.3,107.89 L641.1,107.48 L641.9,107.07 L642.7,106.67 L643.5,106.27 L644.3,105.87 L645.1,105.48 L645.9,105.1 L646.7,104.72 L647.5,104.34 L648.3,103.97 L649.1,103.61 L649.9,103.24 L650.7,102.88 L651.5,102.53 L652.3,102.17 L653.1,101.82 L653.9,101.47 L654.7,101.13 L655.5,100.78 L656.3,100.44 L657.1,100.1 L657.9,99.76 L658.7,99.43 L659.5,99.1 L660.3,98.77 L661.1,98.44 L661.9,98.12 L662.7,97.79 L663.5,97.47 L664.3,97.14 L665.1,96.82 L665.9,96.5 L666.7,96.18 L667.5,95.87 L668.3,95.57 L669.1,95.27 L669.9,94.99 L670.7,94.71 L671.5,94.44 L672.3,94.18 L673.1,93.92 L673.9,93.67 L674.7,93.43 L675.5,93.19 L675.9,93.08" fill="none" stroke="#ff0000" stroke-width="3.03" stroke-linejoin="round"/><circle cx="119.17" cy="354.47" r="4.25" fill="#ff0000"/><circle cx="135.35" cy="272.03" r="4.25" fill="#ff0000"/><circle cx="151.54" cy="219.29" r="4.25" fill="#ff0000"/><circle cx="167.72" cy="179.55" r="4.25" fill="#ff0000"/><circle cx="183.91" cy="145.02" r="4.25" fill="#ff0000"/><circle cx="200.09" cy="116.43" r="4.25" fill="#ff0000"/><circle cx="216.28" cy="94.78" r="4.25" fill="#ff0000"/><circle cx="232.47" cy="78.75" r="4.25" fill="#ff0000"/><circle cx="248.65" cy="66.98" r="4.25" fill="#ff0000"/><circle cx="264.83" cy="61.22" r="4.25" fill="#ff0000"/><circle cx="281.02" cy="59.22" r="4.25" fill="#ff0000"/><circle cx="297.2" cy="58.5" r="4.25" fill="#ff0000"/><circle cx="313.39" cy="58.3" r="4.25" fill="#ff0000"/><circle cx="329.57" cy="58.2" r="4.25" fill="#ff0000"/><circle cx="345.76" cy="58.2" r="4.25" fill="#ff0000"/><circle cx="361.94" cy="58.2" r="4.25" fill="#ff0000"/><circle cx="378.13" cy="58.3" r="4.25" fill="#ff0000"/><circle cx="394.31" cy="58.5" r="4.25" fill="#ff0000"/><circle cx="410.5" cy="58.75" r="4.25" fill="#ff0000"/><circle cx="426.69" cy="59.98" r="4.25" fill="#ff0000"/><circle cx="442.87" cy="61.87" r="4.25" fill="#ff0000"/><circle cx="459.06" cy="64.34" r="4.25" fill="#ff0000"/><circle cx="475.24" cy="69.82" r="4.25" fill="#ff0000"/><circle cx="491.43" cy="79.02" r="4.25" fill="#ff0000"/><circle cx="507.61" cy="96.21" r="4.25" fill="#ff0000"/><circle cx="523.79" cy="125.42" r="4.25" fill="#ff0000"/><circle cx="539.98" cy="177.5" r="4.25" fill="#ff0000"/><circle cx="556.16" cy="289.15" r="4.25" fill="#ff0000"/><circle cx="572.35" cy="248.95" r="4.25" fill="#ff0000"/><circle cx="588.53" cy="177.54" r="4.25" fill="#ff0000"/><circle cx="604.72" cy="145.59" r="4.25" fill="#ff0000"/><circle cx="620.9" cy="125.33" r="4.25" fill="#ff0000"/><circle cx="637.09" cy="113.97" r="4.25" fill="#ff0000"/><circle cx="653.27" cy="105.8" r="4.25" fill="#ff0000"/><circle cx="669.46" cy="98.93" r="4.25" fill="#ff0000"/></g>
<g clip-path="url(#ca)"><path transform="scale(1 1.04)" d="M104.4,429.52 L104.6,428.07 L104.8,426.61 L105,425.14 L105.2,423.67 L105.4,422.16 L105.6,420.63 L105.8,419.1 L106,417.57 L106.2,416.06 L106.4,414.59 L106.6,413.17 L106.8,411.79 L107,410.43 L107.2,409.08 L107.4,407.74 L107.6,406.41 L107.8,405.1 L108,403.8 L108.2,402.51 L108.4,401.23 L108.6,399.96 L108.8,398.7 L109,397.45 L109.2,396.21 L109.4,394.98 L109.6,393.75 L109.8,392.54 L110,391.33 L110.2,390.12 L110.4,388.92 L110.6,387.73 L110.8,386.55 L111,385.36 L111.2,384.19 L111.4,383.01 L111.6,381.84 L111.8,380.68 L112,379.51 L112.2,378.35 L112.4,377.2 L112.6,376.06 L112.8,374.92 L113,373.79 L113.2,372.67 L113.4,371.55 L113.6,370.44 L113.8,369.33 L114,368.23 L114.2,367.14 L114.4,366.05 L114.6,364.96 L114.8,363.88 L115,362.8 L115.2,361.73 L115.4,360.66 L115.6,359.59 L115.8,358.53 L116,357.46 L116.2,356.4 L116.4,355.35 L116.6,354.29 L116.8,353.23 L117,352.18 L117.2,351.12 L117.4,350.07 L117.6,349.01 L117.8,347.96 L118,346.9 L118.2,345.84 L118.4,344.79 L118.6,343.73 L118.8,342.66 L119,341.6 L119.2,340.53 L119.4,339.46 L119.6,338.39 L119.8,337.32 L120,336.24 L120.2,335.15 L120.4,334.06 L120.6,332.96 L120.8,331.86 L121,330.75 L121.2,329.64 L121.4,328.53 L121.6,327.42 L121.8,326.3 L122,325.17 L122.2,324.05 L122.4,322.93 L122.6,321.8 L122.8,320.68 L123,319.55 L123.2,318.43 L123.4,317.31 L123.6,316.19 L123.8,315.07 L124,313.95 L124.2,312.84 L124.4,311.73 L124.6,310.63 L124.8,309.53 L125,308.44 L125.2,307.35 L125.4,306.26 L125.6,305.19 L125.8,304.12 L126,303.06 L126.2,302 L126.4,300.96 L126.6,299.92 L126.8,298.9 L127,297.88 L127.2,296.87 L127.5,295.38 L127.6,294.89 L127.9,293.44 L128.2,292.01 L128.4,291.06 L128.7,289.65 L129,288.25 L129.2,287.33 L129.5,285.95 L129.8,284.58 L130,283.67 L130.3,282.32 L130.6,280.99 L130.8,280.1 L131.1,278.78 L131.4,277.48 L131.6,276.61 L131.9,275.33 L132.2,274.05 L132.4,273.21 L132.71,271.96 L133.01,270.72 L133.21,269.9 L133.51,268.68 L133.81,267.47 L134.01,266.68 L134.31,265.49 L134.61,264.32 L134.81,263.54 L135.11,262.4 L135.41,261.26 L135.61,260.51 L135.91,259.39 L136.21,258.3 L136.41,257.57 L136.71,256.49 L137.01,255.43 L137.21,254.73 L137.51,253.68 L137.81,252.65 L138.01,251.97 L138.31,250.95 L138.61,249.95 L138.81,249.28 L139.21,247.96 L139.61,246.65 L140.01,245.36 L140.41,244.07 L140.81,242.8 L141.21,241.53 L141.61,240.27 L142.01,239.01 L142.41,237.75 L142.81,236.5 L143.21,235.25 L143.61,233.99 L144.01,232.74 L144.41,231.49 L144.81,230.24 L145.21,229 L145.61,227.77 L146.01,226.54 L146.41,225.32 L146.81,224.1 L147.21,222.89 L147.61,221.69 L148.01,220.5 L148.41,219.32 L148.81,218.15 L149.21,216.99 L149.61,215.84 L150.01,214.7 L150.41,213.57 L150.81,212.46 L151.21,211.36 L151.61,210.28 L152.01,209.2 L152.41,208.14 L152.81,207.09 L153.21,206.04 L153.61,205 L154.01,203.98 L154.41,202.96 L154.81,201.95 L155.21,200.95 L155.61,199.95 L156.11,198.72 L156.41,197.98 L156.91,196.76 L157.21,196.04 L157.71,194.83 L158.01,194.11 L158.51,192.92 L158.81,192.21 L159.31,191.03 L159.61,190.32 L160.11,189.15 L160.41,188.45 L160.91,187.3 L161.21,186.61 L161.71,185.48 L162.01,184.8 L162.51,183.68 L162.81,183.01 L163.31,181.89 L163.61,181.23 L164.11,180.13 L164.41,179.47 L164.91,178.38 L165.21,177.73 L165.71,176.64 L166.01,176 L166.51,174.92 L166.81,174.27 L167.31,173.19 L167.61,172.55 L168.11,171.48 L168.41,170.84 L168.91,169.78 L169.21,169.15 L169.71,168.1 L170.01,167.47 L170.51,166.43 L170.81,165.81 L171.31,164.77 L171.61,164.15 L172.11,163.12 L172.41,162.5 L172.91,161.48 L173.21,160.86 L173.71,159.83 L174.01,159.22 L174.51,158.19 L174.81,157.58 L175.31,156.55 L175.61,155.94 L176.11,154.9 L176.41,154.28 L176.91,153.25 L177.21,152.62 L177.71,151.58 L178.01,150.96 L178.51,149.92 L178.81,149.3 L179.31,148.26 L179.61,147.64 L180.11,146.62 L180.41,146 L180.91,144.99 L181.21,144.38 L181.71,143.38 L182.01,142.79 L182.61,141.61 L182.81,141.22 L183.41,140.07 L183.61,139.69 L184.21,138.56 L184.41,138.19 L185.01,137.08 L185.21,136.71 L185.81,135.62 L186.01,135.26 L186.61,134.18 L186.81,133.82 L187.41,132.75 L187.61,132.4 L188.21,131.35 L188.41,131 L189.01,129.95 L189.22,129.6 L189.82,128.56 L190.02,128.22 L190.62,127.19 L190.82,126.84 L191.42,125.82 L191.62,125.48 L192.22,124.45 L192.42,124.11 L193.02,123.08 L193.22,122.74 L193.82,121.72 L194.02,121.38 L194.62,120.37 L194.82,120.03 L195.42,119.02 L195.62,118.69 L196.32,117.54 L196.42,117.37 L197.12,116.24 L197.22,116.08 L197.92,114.97 L198.02,114.81 L198.72,113.73 L198.82,113.57 L199.52,112.52 L199.62,112.37 L200.32,111.34 L200.42,111.2 L201.12,110.19 L201.22,110.05 L202.02,108.93 L202.82,107.83 L203.62,106.74 L204.42,105.67 L205.22,104.61 L206.02,103.56 L206.82,102.52 L207.62,101.48 L208.42,100.45 L209.22,99.42 L210.02,98.39 L210.82,97.38 L211.62,96.38 L212.42,95.39 L213.22,94.42 L214.02,93.46 L214.82,92.53 L215.62,91.61 L216.42,90.71 L217.22,89.83 L218.02,88.96 L218.82,88.1 L219.62,87.26 L220.42,86.43 L221.22,85.61 L222.02,84.81 L222.82,84.02 L223.62,83.25 L224.42,82.49 L225.22,81.74 L226.02,81 L226.82,80.28 L227.62,79.57 L228.42,78.87 L229.22,78.18 L230.02,77.5 L230.82,76.82 L231.62,76.16 L232.42,75.5 L233.22,74.84 L234.02,74.19 L234.82,73.54 L235.62,72.9 L236.42,72.26 L237.22,71.64 L238.02,71.03 L238.82,70.43 L239.62,69.85 L240.42,69.28 L241.22,68.73 L242.02,68.18 L242.82,67.63 L243.62,67.09 L244.42,66.57 L245.22,66.05 L246.03,65.56 L246.83,65.08 L247.63,64.63 L248.43,64.2 L249.23,63.8 L250.03,63.41 L250.83,63.03 L251.63,62.66 L252.43,62.31 L253.23,61.97 L254.03,61.64 L254.83,61.33 L255.63,61.04 L256.43,60.76 L257.23,60.51 L258.03,60.26 L258.83,60.02 L259.63,59.79 L260.43,59.57 L261.23,59.36 L262.03,59.17 L262.83,58.98 L263.63,58.81 L264.43,58.65 L265.23,58.5 L266.03,58.36 L266.83,58.23 L267.63,58.1 L268.43,57.98 L269.23,57.87 L270.03,57.76 L270.83,57.66 L271.63,57.56 L272.43,57.47 L273.23,57.38 L274.03,57.29 L274.83,57.2 L275.63,57.12 L276.43,57.04 L277.23,56.97 L278.03,56.89 L278.83,56.82 L279.63,56.76 L280.43,56.69 L281.23,56.63 L282.03,56.58 L282.83,56.53 L283.63,56.48 L284.43,56.43 L285.23,56.39 L286.03,56.35 L286.83,56.3 L287.63,56.25 L288.43,56.2 L289.23,56.14 L290.03,56.06 L290.83,55.97 L291.63,55.88 L292.43,55.77 L293.23,55.67 L294.03,55.57 L294.83,55.48 L295.63,55.4 L296.43,55.34 L297.23,55.29 L298.03,55.27 L298.83,55.24 L299.63,55.22 L300.43,55.2 L301.23,55.18 L302.03,55.16 L302.84,55.14 L303.64,55.13 L304.44,55.11 L305.24,55.1 L306.04,55.09 L306.84,55.08 L307.64,55.06 L308.44,55.05 L309.24,55.04 L310.04,55.03 L310.84,55.03 L311.64,55.02 L312.44,55.01 L313.24,55 L314.04,55 L314.84,54.99 L315.64,54.98 L316.44,54.98 L317.24,54.97 L318.04,54.97 L318.84,54.96 L319.64,54.96 L320.44,54.95 L321.24,54.95 L322.04,54.94 L322.84,54.94 L323.64,54.94 L324.44,54.93 L325.24,54.93 L326.04,54.93 L326.84,54.92 L327.64,54.92 L328.44,54.91 L329.24,54.91 L330.04,54.9 L330.84,54.9 L331.64,54.89 L332.44,54.89 L333.24,54.88 L334.04,54.88 L334.84,54.87 L335.64,54.86 L336.44,54.86 L337.24,54.85 L338.04,54.84 L338.84,54.84 L339.64,54.83 L340.44,54.83 L341.24,54.82 L342.04,54.82 L342.84,54.81 L343.64,54.81 L344.44,54.81 L345.24,54.81 L346.04,54.81 L346.84,54.81 L347.64,54.81 L348.44,54.81 L349.24,54.81 L350.04,54.81 L350.84,54.81 L351.64,54.81 L352.44,54.81 L353.24,54.81 L354.04,54.81 L354.84,54.81 L355.64,54.81 L356.44,54.81 L357.24,54.81 L358.04,54.81 L358.85,54.81 L359.65,54.81 L360.45,54.81 L361.25,54.81 L362.05,54.81 L362.85,54.81 L363.65,54.81 L364.45,54.81 L365.25,54.81 L366.05,54.81 L366.85,54.81 L367.65,54.81 L368.45,54.81 L369.25,54.81 L370.05,54.81 L370.85,54.81 L371.65,54.81 L372.45,54.81 L373.25,54.81 L374.05,54.81 L374.85,54.81 L375.65,54.81 L376.45,54.81 L377.25,54.81 L378.05,54.81 L378.85,54.81 L379.65,54.81 L380.45,54.81 L381.25,54.81 L382.05,54.81 L382.85,54.81 L383.65,54.81 L384.45,54.81 L385.25,54.81 L386.05,54.81 L386.85,54.81 L387.65,54.81 L388.45,54.81 L389.25,54.81 L390.05,54.81 L390.85,54.81 L391.65,54.81 L392.45,54.81 L393.25,54.81 L394.05,54.81 L394.85,54.81 L395.65,54.8 L396.45,54.8 L397.25,54.8 L398.05,54.79 L398.85,54.79 L399.65,54.78 L400.45,54.77 L401.25,54.77 L402.05,54.76 L402.85,54.75 L403.65,54.74 L404.45,54.74 L405.25,54.73 L406.05,54.73 L406.85,54.72 L407.65,54.72 L408.45,54.71 L409.25,54.71 L410.05,54.71 L410.85,54.71 L411.65,54.71 L412.45,54.71 L413.25,54.71 L414.05,54.71 L414.85,54.71 L415.66,54.71 L416.46,54.71 L417.26,54.71 L418.06,54.71 L418.86,54.71 L419.66,54.71 L420.46,54.71 L421.26,54.71 L422.06,54.71 L422.86,54.71 L423.66,54.71 L424.46,54.71 L425.26,54.71 L426.06,54.71 L426.86,54.71 L427.66,54.71 L428.46,54.71 L429.26,54.71 L430.06,54.71 L430.86,54.71 L431.66,54.71 L432.46,54.71 L433.26,54.71 L434.06,54.71 L434.86,54.71 L435.66,54.71 L436.46,54.71 L437.26,54.71 L438.06,54.71 L438.86,54.71 L439.66,54.71 L440.46,54.71 L441.26,54.71 L442.06,54.72 L442.86,54.72 L443.66,54.73 L444.46,54.74 L445.26,54.75 L446.06,54.76 L446.86,54.77 L447.66,54.78 L448.46,54.8 L449.26,54.81 L450.06,54.83 L450.86,54.84 L451.66,54.86 L452.46,54.88 L453.26,54.89 L454.06,54.91 L454.86,54.93 L455.66,54.95 L456.46,54.97 L457.26,54.99 L458.06,55.01 L458.86,55.03 L459.66,55.05 L460.46,55.07 L461.26,55.09 L462.06,55.12 L462.86,55.15 L463.66,55.17 L464.46,55.2 L465.26,55.23 L466.06,55.27 L466.86,55.3 L467.66,55.33 L468.46,55.37 L469.26,55.41 L470.06,55.45 L470.86,55.49 L471.67,55.53 L472.47,55.58 L473.27,55.62 L474.07,55.67 L474.87,55.72 L475.67,55.77 L476.47,55.83 L477.27,55.89 L478.07,55.96 L478.87,56.04 L479.67,56.12 L480.47,56.21 L481.27,56.3 L482.07,56.4 L482.87,56.5 L483.67,56.6 L484.47,56.72 L485.27,56.83 L486.07,56.95 L486.87,57.07 L487.67,57.2 L488.47,57.32 L489.27,57.45 L490.07,57.59 L490.87,57.72 L491.67,57.86 L492.47,57.99 L493.27,58.13 L494.07,58.27 L494.87,58.42 L495.67,58.58 L496.47,58.74 L497.27,58.9 L498.07,59.08 L498.87,59.25 L499.67,59.44 L500.47,59.63 L501.27,59.82 L502.07,60.02 L502.87,60.22 L503.67,60.43 L504.47,60.64 L505.27,60.86 L506.07,61.08 L506.87,61.3 L507.67,61.53 L508.47,61.76 L509.27,61.99 L510.07,62.22 L510.87,62.46 L511.67,62.7 L512.47,62.95 L513.27,63.2 L514.07,63.45 L514.87,63.71 L515.67,63.97 L516.47,64.24 L517.27,64.51 L518.07,64.79 L518.87,65.08 L519.67,65.37 L520.47,65.67 L521.27,65.98 L522.07,66.29 L522.87,66.61 L523.67,66.94 L524.47,67.28 L525.27,67.63 L526.07,67.98 L526.87,68.34 L527.67,68.72 L528.48,69.1 L529.28,69.49 L530.08,69.9 L530.88,70.33 L531.68,70.78 L532.48,71.25 L533.28,71.73 L534.08,72.23 L534.88,72.74 L535.68,73.26 L536.48,73.8 L537.28,74.35 L538.08,74.92 L538.88,75.49 L539.68,76.07 L540.48,76.67 L541.28,77.27 L542.08,77.88 L542.88,78.49 L543.68,79.12 L544.48,79.75 L545.28,80.38 L546.08,81.02 L546.88,81.66 L547.68,82.33 L548.48,83.01 L549.28,83.7 L550.08,84.42 L550.88,85.15 L551.68,85.89 L552.48,86.64 L553.28,87.41 L554.08,88.18 L554.88,88.97 L555.68,89.77 L556.48,90.57 L557.28,91.38 L558.08,92.2 L558.88,93.02 L559.68,93.85 L560.48,94.68 L561.28,95.51 L562.08,96.34 L562.88,97.17 L563.68,98.01 L564.48,98.84 L565.28,99.68 L566.08,100.52 L566.88,101.37 L567.68,102.22 L568.48,103.09 L569.28,103.96 L570.08,104.84 L570.88,105.74 L571.68,106.65 L572.48,107.57 L573.28,108.51 L574.08,109.46 L574.88,110.43 L575.68,111.44 L576.48,112.49 L577.28,113.58 L578.08,114.69 L578.88,115.8 L579.68,116.91 L580.48,117.99 L581.28,119.03 L582.08,120.05 L582.88,121.04 L583.68,122.03 L584.48,123 L585.29,123.96 L586.09,124.91 L586.89,125.87 L587.69,126.82 L588.49,127.78 L589.29,128.74 L590.09,129.72 L590.89,130.69 L591.69,131.65 L592.49,132.6 L593.29,133.55 L594.09,134.51 L594.89,135.47 L595.69,136.44 L596.49,137.43 L597.29,138.44 L598.09,139.48 L598.89,140.55 L599.69,141.65 L600.39,142.66 L600.49,142.81 L601.19,143.85 L601.29,144 L601.99,145.07 L602.09,145.23 L602.79,146.33 L602.89,146.49 L603.59,147.61 L603.69,147.77 L604.39,148.91 L604.49,149.07 L605.19,150.22 L605.29,150.38 L605.99,151.53 L606.09,151.69 L606.79,152.84 L606.89,153 L607.59,154.14 L607.69,154.31 L608.39,155.43 L608.49,155.59 L609.19,156.71 L609.29,156.87 L609.99,157.99 L610.09,158.15 L610.79,159.27 L610.89,159.42 L611.59,160.55 L611.69,160.71 L612.39,161.83 L612.49,162 L613.19,163.14 L613.29,163.3 L613.99,164.45 L614.09,164.62 L614.69,165.63 L614.89,165.97 L615.49,166.99 L615.69,167.34 L616.29,168.39 L616.49,168.74 L617.09,169.82 L617.29,170.18 L617.89,171.28 L618.09,171.66 L618.69,172.79 L618.89,173.17 L619.49,174.32 L619.69,174.71 L620.29,175.89 L620.49,176.28 L621.09,177.47 L621.29,177.87 L621.79,178.88 L622.09,179.49 L622.59,180.5 L622.89,181.11 L623.39,182.14 L623.69,182.75 L624.19,183.78 L624.49,184.4 L624.99,185.43 L625.29,186.04 L625.79,187.07 L626.09,187.69 L626.59,188.71 L626.89,189.32 L627.39,190.33 L627.69,190.94 L628.19,191.94 L628.49,192.54 L628.99,193.55 L629.29,194.16 L629.79,195.18 L630.09,195.79 L630.59,196.82 L630.89,197.44 L631.39,198.5 L631.69,199.14 L632.19,200.22 L632.49,200.87 L632.99,201.99 L633.29,202.67 L633.79,203.82 L634.09,204.53 L634.59,205.73 L634.89,206.47 L635.29,207.47 L635.69,208.52 L636.09,209.6 L636.49,210.72 L636.89,211.86 L637.29,213.02 L637.69,214.2 L638.09,215.4 L638.49,216.6 L638.89,217.81 L639.29,219.03 L639.69,220.24 L640.09,221.44 L640.49,222.64 L640.89,223.84 L641.3,225.04 L641.7,226.24 L642.1,227.46 L642.5,228.69 L642.9,229.93 L643.3,231.18 L643.7,232.46 L644.1,233.75 L644.5,235.07 L644.8,236.08 L645.1,237.11 L645.3,237.79 L645.6,238.82 L645.9,239.84 L646.1,240.53 L646.4,241.56 L646.7,242.59 L646.9,243.28 L647.2,244.33 L647.5,245.38 L647.7,246.09 L648,247.16 L648.3,248.24 L648.5,248.97 L648.8,250.08 L649.1,251.2 L649.3,251.96 L649.6,253.12 L649.9,254.3 L650.1,255.1 L650.4,256.31 L650.7,257.55 L650.9,258.39 L651.2,259.68 L651.5,261 L651.7,261.89 L652,263.26 L652.3,264.66 L652.5,265.61 L652.8,267.1 L653,268.15 L653.2,269.23 L653.3,269.78 L653.5,270.91 L653.7,272.07 L653.9,273.26 L654.1,274.47 L654.3,275.7 L654.5,276.95 L654.7,278.21 L654.9,279.48 L655.1,280.76 L655.3,282.04 L655.5,283.33 L655.7,284.61 L655.9,285.89 L656.1,287.16 L656.3,288.44 L656.5,289.74 L656.7,291.05 L656.9,292.37 L657.1,293.71 L657.3,295.05 L657.5,296.4 L657.7,297.76 L657.9,299.13 L658.1,300.5 L658.3,301.88 L658.5,303.26 L658.7,304.65 L658.9,306.04 L659.1,307.43 L659.3,308.82 L659.5,310.22 L659.7,311.61 L659.9,313 L660.1,314.38 L660.3,315.77 L660.5,317.17 L660.7,318.56 L660.9,319.96 L661.1,321.36 L661.3,322.77 L661.5,324.18 L661.7,325.59 L661.9,327.01 L662.1,328.43 L662.3,329.85 L662.5,331.27 L662.7,332.7 L662.9,334.14 L663.1,335.57 L663.3,337.01 L663.5,338.45 L663.7,339.91 L663.9,341.38 L664.1,342.86 L664.3,344.34 L664.5,345.84 L664.7,347.34 L664.9,348.84 L665.1,350.34 L665.3,351.84 L665.5,353.33 L665.7,354.81 L665.9,356.27 L666.1,357.72 L666.3,359.16 L666.5,360.57 L666.7,361.97 L666.9,363.36 L667.1,364.74 L667.3,366.11 L667.5,367.48 L667.7,368.83 L667.9,370.18 L668.1,371.51 L668.3,372.84 L668.5,374.15 L668.7,375.46 L668.9,376.76 L669.1,378.05 L669.3,379.33 L669.5,378.08 L669.7,376.82 L669.9,375.55 L670,374.91 L670.2,373.61 L670.4,372.3 L670.6,370.97 L670.8,369.63 L671,368.27 L671.2,366.9 L671.4,365.54 L671.6,364.16 L671.8,362.77 L672,361.36 L672.2,359.93 L672.4,358.47 L672.6,356.97 L672.8,355.43 L673,353.85 L673.2,352.21 L673.4,350.51 L673.6,348.76 L673.8,346.96 L674,345.13 L674.2,343.26 L674.4,341.36 L674.6,339.43 L674.8,337.48 L675,335.49 L675.1,334.47 L675.2,333.44 L675.3,332.4 L675.4,331.35 L675.5,330.29 L675.6,329.22 L675.7,328.14 L675.8,327.06 L675.9,325.96" fill="none" stroke="#0000ff" stroke-width="3.03" stroke-linejoin="round"/><polygon points="122.8,328.11 117.5,337.01 128.1,337.01" fill="#0000ff"/><polygon points="140.45,248.44 135.15,257.34 145.75,257.34" fill="#0000ff"/><polygon points="158.1,196.23 152.8,205.13 163.4,205.13" fill="#0000ff"/><polygon points="175.75,156.56 170.45,165.46 181.05,165.46" fill="#0000ff"/><polygon points="193.4,121.9 188.1,130.8 198.7,130.8" fill="#0000ff"/><polygon points="211.05,95.62 205.75,104.52 216.35,104.52" fill="#0000ff"/><polygon points="228.7,76.36 223.4,85.26 234,85.26" fill="#0000ff"/><polygon points="246.35,62.59 241.05,71.49 251.65,71.49" fill="#0000ff"/><polygon points="264,55.67 258.7,64.57 269.3,64.57" fill="#0000ff"/><polygon points="281.65,53.47 276.35,62.37 286.95,62.37" fill="#0000ff"/><polygon points="299.3,52.04 294,60.94 304.6,60.94" fill="#0000ff"/><polygon points="316.95,51.77 311.65,60.67 322.25,60.67" fill="#0000ff"/><polygon points="334.6,51.67 329.3,60.57 339.9,60.57" fill="#0000ff"/><polygon points="352.25,51.6 346.95,60.5 357.55,60.5" fill="#0000ff"/><polygon points="369.9,51.6 364.6,60.5 375.2,60.5" fill="#0000ff"/><polygon points="387.55,51.6 382.25,60.5 392.85,60.5" fill="#0000ff"/><polygon points="405.2,51.52 399.9,60.42 410.5,60.42" fill="#0000ff"/><polygon points="422.85,51.5 417.55,60.4 428.15,60.4" fill="#0000ff"/><polygon points="440.5,51.5 435.2,60.4 445.8,60.4" fill="#0000ff"/><polygon points="458.15,51.81 452.85,60.71 463.45,60.71" fill="#0000ff"/><polygon points="475.8,52.61 470.5,61.51 481.1,61.51" fill="#0000ff"/><polygon points="493.45,55.09 488.15,63.99 498.75,63.99" fill="#0000ff"/><polygon points="511.1,59.62 505.8,68.52 516.4,68.52" fill="#0000ff"/><polygon points="528.75,66.61 523.45,75.51 534.05,75.51" fill="#0000ff"/><polygon points="546.4,79.11 541.1,88.01 551.7,88.01" fill="#0000ff"/><polygon points="564.05,96.96 558.75,105.86 569.35,105.86" fill="#0000ff"/><polygon points="581.7,118.93 576.4,127.83 587,127.83" fill="#0000ff"/><polygon points="599.35,141.48 594.05,150.38 604.65,150.38" fill="#0000ff"/><polygon points="617,171.02 611.7,179.92 622.3,179.92" fill="#0000ff"/><polygon points="634.65,208.81 629.35,217.71 639.95,217.71" fill="#0000ff"/><polygon points="652.3,269.84 647,278.74 657.6,278.74" fill="#0000ff"/><polygon points="669.95,385.17 664.65,394.07 675.25,394.07" fill="#0000ff"/></g>
<rect x="104.3" y="277.7" width="197.1" height="156.6" fill="#fff" stroke="#6e6e6e" stroke-width="1.55"/>
<path d="M107.9,292.3 H117.2 M129.5,292.3 H138.7 M150.8,292.3 H155.8" stroke="#000000" stroke-width="2.8" fill="none"/>
<rect x="128.2" y="289" width="6.6" height="6.6" fill="#fff" stroke="#000000" stroke-width="0.85"/>
<text x="161.4" y="299.3" font-family='"Liberation Sans", Arial, sans-serif' font-size="21.9" textLength="136.2" lengthAdjust="spacingAndGlyphs">Simulated S11</text>
<path d="M107.9,318.2 H155.8" stroke="#000000" stroke-width="2.8" fill="none"/>
<rect x="127.9" y="314.6" width="7.2" height="7.2" fill="#000000"/>
<text x="161.4" y="325.2" font-family='"Liberation Sans", Arial, sans-serif' font-size="21.9" textLength="134" lengthAdjust="spacingAndGlyphs">Measured S11</text>
<path d="M107.9,344.3 H117.2 M129.5,344.3 H138.7 M150.8,344.3 H155.8" stroke="#ff0000" stroke-width="2.8" fill="none"/>
<circle cx="131.5" cy="344.3" r="4.1" fill="#fff" stroke="#ff0000" stroke-width="0.85"/>
<text x="161.4" y="351.3" font-family='"Liberation Sans", Arial, sans-serif' font-size="21.9" textLength="136.2" lengthAdjust="spacingAndGlyphs">Simulated S21</text>
<path d="M107.9,370.1 H155.8" stroke="#ff0000" stroke-width="2.8" fill="none"/>
<circle cx="131.5" cy="370.1" r="4.25" fill="#ff0000"/>
<text x="161.4" y="377.1" font-family='"Liberation Sans", Arial, sans-serif' font-size="21.9" textLength="134" lengthAdjust="spacingAndGlyphs">Measured S21</text>
<path d="M107.9,396.2 H117.2 M129.5,396.2 H138.7 M150.8,396.2 H155.8" stroke="#0000ff" stroke-width="2.8" fill="none"/>
<polygon points="131.5,391.5 126.5,400 136.5,400" fill="#fff" stroke="#0000ff" stroke-width="0.85"/>
<text x="161.4" y="403.2" font-family='"Liberation Sans", Arial, sans-serif' font-size="21.9" textLength="136.2" lengthAdjust="spacingAndGlyphs">Simulated S31</text>
<path d="M107.9,422.1 H155.8" stroke="#0000ff" stroke-width="2.8" fill="none"/>
<polygon points="131.5,417.3 126.2,426.2 136.8,426.2" fill="#0000ff"/>
<text x="161.4" y="429.1" font-family='"Liberation Sans", Arial, sans-serif' font-size="21.9" textLength="134" lengthAdjust="spacingAndGlyphs">Measured S31</text>
<ellipse cx="566.3" cy="313.2" rx="22.2" ry="10.4" fill="none" stroke="#000" stroke-width="1.6"/>
<path d="M543.9,312.9 L522,313.5" stroke="#000" stroke-width="1.6" fill="none"/>
<polygon points="511.3,313.6 523.6,309.1 523.6,318" fill="#000"/>
<text x="476.2" y="320.6" font-family='"Liberation Sans", Arial, sans-serif' font-size="22.6" textLength="33.8" lengthAdjust="spacingAndGlyphs">TZ1</text>
<ellipse cx="651.4" cy="385.5" rx="22.4" ry="10.7" fill="none" stroke="#000" stroke-width="1.6"/>
<path d="M628.6,384.5 L607,385.4" stroke="#000" stroke-width="1.6" fill="none"/>
<polygon points="596.9,385.7 609.1,381.1 609.1,390.3" fill="#000"/>
<text x="561.2" y="392.8" font-family='"Liberation Sans", Arial, sans-serif' font-size="22.6" textLength="35.6" lengthAdjust="spacingAndGlyphs">TZ2</text>
<path d="M85.2,21.3 V443 H675.9" fill="none" stroke="#000" stroke-width="2.05" stroke-linecap="square"/>
<path d="M85.2,21.3 H675.9 V443" fill="none" stroke="#000" stroke-width="1.8" stroke-linecap="square"/>
<path d="M76.5,21.35 H85.2 M76.5,74.05 H85.2 M76.5,126.75 H85.2 M76.5,179.45 H85.2 M76.5,232.15 H85.2 M76.5,284.85 H85.2 M76.5,337.55 H85.2 M76.5,390.25 H85.2 M76.5,442.95 H85.2 M80.6,47.7 H85.2 M80.6,100.4 H85.2 M80.6,153.1 H85.2 M80.6,205.8 H85.2 M80.6,258.5 H85.2 M80.6,311.2 H85.2 M80.6,363.9 H85.2 M80.6,416.6 H85.2" stroke="#000" stroke-width="1.9" fill="none"/>
<path d="M84.9,443 V451.9 M169.3,443 V451.9 M253.7,443 V451.9 M338.1,443 V451.9 M422.5,443 V451.9 M506.9,443 V451.9 M591.3,443 V451.9 M675.7,443 V451.9 M127.1,443 V447.6 M211.5,443 V447.6 M295.9,443 V447.6 M380.3,443 V447.6 M464.7,443 V447.6 M549.1,443 V447.6 M633.5,443 V447.6" stroke="#000" stroke-width="1.9" fill="none"/>
<text transform="translate(71.5 27.45) scale(0.95 1)" font-family='"Liberation Sans", Arial, sans-serif' font-size="25.6" text-anchor="end">0</text>
<text transform="translate(71.5 80.15) scale(0.95 1)" font-family='"Liberation Sans", Arial, sans-serif' font-size="25.6" text-anchor="end">-5</text>
<text transform="translate(71.5 132.85) scale(0.95 1)" font-family='"Liberation Sans", Arial, sans-serif' font-size="25.6" text-anchor="end">-10</text>
<text transform="translate(71.5 185.55) scale(0.95 1)" font-family='"Liberation Sans", Arial, sans-serif' font-size="25.6" text-anchor="end">-15</text>
<text transform="translate(71.5 238.25) scale(0.95 1)" font-family='"Liberation Sans", Arial, sans-serif' font-size="25.6" text-anchor="end">-20</text>
<text transform="translate(71.5 290.95) scale(0.95 1)" font-family='"Liberation Sans", Arial, sans-serif' font-size="25.6" text-anchor="end">-25</text>
<text transform="translate(71.5 343.65) scale(0.95 1)" font-family='"Liberation Sans", Arial, sans-serif' font-size="25.6" text-anchor="end">-30</text>
<text transform="translate(71.5 396.35) scale(0.95 1)" font-family='"Liberation Sans", Arial, sans-serif' font-size="25.6" text-anchor="end">-35</text>
<text transform="translate(71.5 449.05) scale(0.95 1)" font-family='"Liberation Sans", Arial, sans-serif' font-size="25.6" text-anchor="end">-40</text>
<text transform="translate(85.2 475.1) scale(0.95 1)" font-family='"Liberation Sans", Arial, sans-serif' font-size="25.6" text-anchor="middle">0</text>
<text transform="translate(169.6 475.1) scale(0.95 1)" font-family='"Liberation Sans", Arial, sans-serif' font-size="25.6" text-anchor="middle">1</text>
<text transform="translate(254 475.1) scale(0.95 1)" font-family='"Liberation Sans", Arial, sans-serif' font-size="25.6" text-anchor="middle">2</text>
<text transform="translate(338.4 475.1) scale(0.95 1)" font-family='"Liberation Sans", Arial, sans-serif' font-size="25.6" text-anchor="middle">3</text>
<text transform="translate(422.8 475.1) scale(0.95 1)" font-family='"Liberation Sans", Arial, sans-serif' font-size="25.6" text-anchor="middle">4</text>
<text transform="translate(507.2 475.1) scale(0.95 1)" font-family='"Liberation Sans", Arial, sans-serif' font-size="25.6" text-anchor="middle">5</text>
<text transform="translate(591.6 475.1) scale(0.95 1)" font-family='"Liberation Sans", Arial, sans-serif' font-size="25.6" text-anchor="middle">6</text>
<text transform="translate(676 475.1) scale(0.95 1)" font-family='"Liberation Sans", Arial, sans-serif' font-size="25.6" text-anchor="middle">7</text>
<text x="20.5" y="342.9" font-family='"Liberation Sans", Arial, sans-serif' font-size="25.4" textLength="189.3" lengthAdjust="spacingAndGlyphs" transform="rotate(-90 20.5 342.9)">S-parameters, dB</text>
<text x="295.4" y="503.4" font-family='"Liberation Sans", Arial, sans-serif' font-size="24.2" textLength="172.2" lengthAdjust="spacingAndGlyphs">frequency, GHz</text>
<text x="386.1" y="546.8" font-family='"Liberation Serif", "Times New Roman", serif' font-size="27.5" text-anchor="middle">(a)</text>
<g clip-path="url(#cb)"><path transform="scale(1 1)" d="M789.5,103.6 L790.7,104.35 L791.9,105.1 L792,105.16 M795.2,107.16 L796.4,107.9 L797.6,108.64 L798.6,109.26 M801.8,111.24 L803,112 L804.2,112.76 L805.2,113.4 M808.4,115.51 L809.6,116.33 L810.8,117.16 L811.8,117.86 M815,120.15 L816.2,121.03 L817.4,121.93 L818.4,122.68 M821.61,125.12 L822.81,126.06 L824.01,127 L825.01,127.8 M828.21,130.38 L829.41,131.36 L830.61,132.36 L831.61,133.2 M834.81,135.93 L836.01,136.98 L837.21,138.03 L838.21,138.92 M841.41,141.79 L842.61,142.88 L843.81,143.99 L844.81,144.91 M848.01,147.91 L849.21,149.06 L850.41,150.22 L851.41,151.2 M854.61,154.38 L855.81,155.58 L857.01,156.8 L858.01,157.82 M861.21,161.09 L862.41,162.33 L863.61,163.57 L864.61,164.6 M867.81,167.94 L869.01,169.21 L870.21,170.49 L871.21,171.56 M874.41,175.02 L875.61,176.31 L876.81,177.61 L877.81,178.69 M881.02,182.12 L882.22,183.39 L883.42,184.65 L884.42,185.69 M887.62,188.97 L888.82,190.19 L890.02,191.4 L891.02,192.41 M894.22,195.62 L895.42,196.83 L896.62,198.04 L897.62,199.06 M900.82,202.36 L902.02,203.62 L903.22,204.9 L904.22,205.97 M907.42,209.43 L908.52,210.64 L909.62,211.84 L910.72,213.06 L910.82,213.17 M914.02,216.74 L915.12,217.98 L916.22,219.23 L917.32,220.48 L917.42,220.59 M920.62,224.27 L921.72,225.55 L922.82,226.86 L923.82,228.08 L924.02,228.32 M927.22,232.24 L928.22,233.44 L929.32,234.73 L930.42,235.98 L930.62,236.2 M933.82,239.67 L935.02,240.93 L936.22,242.18 L937.22,243.22 M940.43,246.53 L941.63,247.79 L942.83,249.07 L943.83,250.13 M947.03,253.19 L948.23,254.23 L949.43,255.24 L950.43,256.04 M953.63,258.45 L954.83,259.28 L956.03,260.09 L957.03,260.74 M960.23,262.71 L961.43,263.37 L962.63,263.98 L963.63,264.45 M966.83,265.8 L968.03,266.27 L969.23,266.73 L970.23,267.1 M973.43,268.16 L974.63,268.51 L975.83,268.83 L976.83,269.07 M980.03,269.71 L981.23,269.93 L982.43,270.15 L983.33,270.3 M986.63,270.84 L987.83,271.01 L989.03,271.18 L989.93,271.29 M993.23,271.64 L994.43,271.74 L995.63,271.81 L996.53,271.86 M999.84,271.97 L1001.04,272 L1002.24,272.02 L1003.14,272.04 M1006.44,272.1 L1007.64,272.11 L1008.84,272.13 L1009.74,272.14 M1013.04,272.19 L1014.24,272.21 L1015.44,272.24 L1016.34,272.26 M1019.64,272.33 L1020.84,272.35 L1022.04,272.38 L1022.94,272.39 M1026.24,272.47 L1027.44,272.5 L1028.64,272.53 L1029.54,272.56 M1032.84,272.67 L1034.04,272.71 L1035.24,272.76 L1036.14,272.8 M1039.44,273.02 L1040.64,273.12 L1041.84,273.23 L1042.74,273.31 M1046.04,273.68 L1047.24,273.83 L1048.44,273.98 L1049.34,274.11 M1052.64,274.58 L1053.84,274.76 L1055.04,274.97 L1055.94,275.13 M1059.25,275.87 L1060.45,276.17 L1061.65,276.5 L1062.55,276.75 M1065.85,277.76 L1067.05,278.15 L1068.25,278.54 L1069.15,278.85 M1072.45,279.98 L1073.65,280.41 L1074.85,280.88 L1075.75,281.24 M1079.05,282.69 L1080.25,283.25 L1081.45,283.83 L1082.35,284.26 M1085.65,285.9 L1086.85,286.5 L1088.05,287.09 L1088.95,287.53 M1092.25,289.1 L1093.45,289.67 L1094.65,290.24 L1095.55,290.67 M1098.85,292.25 L1100.05,292.82 L1101.25,293.4 L1102.15,293.83 M1105.45,295.4 L1106.65,295.96 L1107.85,296.52 L1108.75,296.93 M1112.05,298.46 L1113.25,299.05 L1114.45,299.64 L1115.36,300.08 M1118.66,301.66 L1119.86,302.2 L1121.06,302.69 L1121.96,303.04 M1125.26,304.07 L1126.46,304.38 L1127.66,304.68 L1128.56,304.9 M1131.86,305.45 L1133.06,305.5 L1134.26,305.44 L1135.16,305.33 M1138.46,304.6 L1139.66,304.25 L1140.86,303.87 L1141.76,303.58 M1145.06,301.99 L1146.26,301.22 L1147.46,300.38 L1148.36,299.69 M1151.66,296.9 L1152.86,295.79 L1154.06,294.65 L1154.96,293.79 M1158.26,289.91 L1159.16,288.66 L1160.06,287.34 L1160.86,286.14 L1161.56,285.06 M1164.86,279.87 L1165.66,278.63 L1166.46,277.41 L1167.36,276.08 L1168.16,274.92 M1171.46,270.12 L1172.36,268.81 L1173.26,267.49 L1174.16,266.17 L1174.77,265.29 M1178.07,260.41 L1178.97,259.07 L1179.87,257.72 L1180.67,256.52 L1181.37,255.46 M1184.67,250.37 L1185.47,249.09 L1186.27,247.8 L1187.07,246.5 L1187.87,245.21 L1187.97,245.05 M1191.27,239.85 L1192.17,238.5 L1193.07,237.2 L1193.97,235.95 L1194.57,235.15 M1197.87,230.97 L1198.87,229.77 L1199.97,228.46 L1201.07,227.17 L1201.17,227.05 M1204.47,223.14 L1205.47,221.93 L1206.47,220.71 L1207.47,219.48 L1207.77,219.11 M1211.07,215.07 L1212.07,213.84 L1213.07,212.61 L1214.07,211.39 L1214.37,211.03 M1217.67,207.01 L1218.67,205.81 L1219.67,204.61 L1220.77,203.29 L1220.97,203.06 M1224.27,199.16 L1225.37,197.87 L1226.47,196.58 L1227.57,195.29 M1230.87,191.46 L1231.97,190.19 L1233.07,188.92 L1234.18,187.66 M1237.48,183.93 L1238.58,182.7 L1239.68,181.48 L1240.78,180.27 M1244.08,176.7 L1245.28,175.43 L1246.48,174.16 L1247.38,173.21 M1250.68,169.79 L1251.88,168.56 L1253.08,167.34 L1253.98,166.43 M1257.28,163.13 L1258.48,161.94 L1259.68,160.76 L1260.58,159.88 M1263.88,156.68 L1265.08,155.52 L1266.28,154.37 L1267.18,153.51 M1270.48,150.4 L1271.68,149.28 L1272.88,148.17 L1273.78,147.34 M1277.08,144.35 L1278.28,143.28 L1279.48,142.22 L1280.38,141.44 M1283.68,138.62 L1284.88,137.61 L1286.08,136.61 L1286.98,135.87 M1290.28,133.18 L1291.48,132.22 L1292.68,131.26 L1293.59,130.55 M1296.89,127.94 L1298.09,127 L1299.29,126.06 L1300.19,125.35 M1303.49,122.79 L1304.69,121.87 L1305.89,120.95 L1306.79,120.26 M1310.09,117.76 L1311.29,116.86 L1312.49,115.96 L1313.39,115.29 M1316.69,112.85 L1317.89,111.97 L1319.09,111.1 L1319.99,110.44 M1323.29,108.05 L1324.49,107.19 L1325.69,106.33 L1326.59,105.69 M1329.89,103.36 L1331.09,102.52 L1332.29,101.69 L1333.19,101.07 M1336.49,98.84 L1337.69,98.04 L1338.89,97.24 L1339.79,96.64 M1343.09,94.46 L1344.29,93.68 L1345.49,92.9 L1346.39,92.32 M1349.69,90.24 L1350.89,89.5 L1352.09,88.78 L1353,88.24 M1356.3,86.33 L1357.5,85.66 L1358.7,84.99 L1359.6,84.5 M1362.9,82.7 L1364.1,82.06 L1365.3,81.43 L1366.2,80.96 M1369.5,79.27 L1370.7,78.67 L1371.9,78.07 L1372.8,77.63 M1376.1,76.06 L1377.3,75.5 L1378.5,74.96 L1379.4,74.55" fill="none" stroke="#000000" stroke-width="2.8"/><rect x="786.25" y="100.3" width="6.6" height="6.6" fill="#fff" stroke="#000000" stroke-width="0.85"/><rect x="824" y="126.35" width="6.6" height="6.6" fill="#fff" stroke="#000000" stroke-width="0.85"/><rect x="861.75" y="161.71" width="6.6" height="6.6" fill="#fff" stroke="#000000" stroke-width="0.85"/><rect x="899.5" y="201.17" width="6.6" height="6.6" fill="#fff" stroke="#000000" stroke-width="0.85"/><rect x="937.25" y="243.33" width="6.6" height="6.6" fill="#fff" stroke="#000000" stroke-width="0.85"/><rect x="975" y="266.09" width="6.6" height="6.6" fill="#fff" stroke="#000000" stroke-width="0.85"/><rect x="1012.75" y="268.95" width="6.6" height="6.6" fill="#fff" stroke="#000000" stroke-width="0.85"/><rect x="1050.5" y="271.46" width="6.6" height="6.6" fill="#fff" stroke="#000000" stroke-width="0.85"/><rect x="1088.25" y="285.47" width="6.6" height="6.6" fill="#fff" stroke="#000000" stroke-width="0.85"/><rect x="1126" y="301.76" width="6.6" height="6.6" fill="#fff" stroke="#000000" stroke-width="0.85"/><rect x="1163.75" y="273.22" width="6.6" height="6.6" fill="#fff" stroke="#000000" stroke-width="0.85"/><rect x="1201.5" y="219.48" width="6.6" height="6.6" fill="#fff" stroke="#000000" stroke-width="0.85"/><rect x="1239.25" y="175.01" width="6.6" height="6.6" fill="#fff" stroke="#000000" stroke-width="0.85"/><rect x="1277" y="138.23" width="6.6" height="6.6" fill="#fff" stroke="#000000" stroke-width="0.85"/><rect x="1314.75" y="108.53" width="6.6" height="6.6" fill="#fff" stroke="#000000" stroke-width="0.85"/><rect x="1352.5" y="83.32" width="6.6" height="6.6" fill="#fff" stroke="#000000" stroke-width="0.85"/></g>
<g clip-path="url(#cb)"><path transform="scale(1 1)" d="M792.4,105.41 L793.6,106.16 L794.9,106.97 L795.8,107.52 M799,109.49 L800.2,110.23 L801.5,111.04 L802.4,111.6 M805.6,113.64 L806.9,114.5 L808.1,115.3 L809,115.91 M812.2,118.16 L813.5,119.1 L814.7,119.99 L815.6,120.66 M818.8,123.11 L820,124.05 L821.2,125 L822.2,125.79 M825.4,128.38 L826.6,129.36 L827.9,130.44 L828.8,131.19 M832,133.91 L833.2,134.95 L834.5,136.09 L835.4,136.89 M838.6,139.75 L839.9,140.93 L841.1,142.03 L842,142.85 M845.2,145.82 L846.5,147.03 L847.7,148.16 L848.6,149.02 M851.8,152.09 L853,153.26 L854.2,154.43 L855.2,155.42 M858.4,158.6 L859.6,159.81 L860.8,161.02 L861.8,162.03 M865,165.3 L866.2,166.54 L867.4,167.78 L868.4,168.83 M871.6,172.22 L872.8,173.51 L874,174.8 L875,175.87 M878.2,179.33 L879.4,180.63 L880.6,181.92 L881.6,183 M884.8,186.42 L886,187.7 L887.2,188.99 L888.2,190.06 M891.4,193.49 L892.6,194.78 L893.8,196.06 L894.8,197.13 M898,200.55 L899.2,201.83 L900.4,203.11 L901.4,204.17 M904.6,207.55 L905.8,208.8 L907,210.04 L908,211.08 M911.2,214.38 L912.4,215.62 L913.6,216.86 L914.6,217.9 M917.8,221.27 L919,222.55 L920.2,223.85 L921.2,224.95 M924.4,228.7 L925.4,229.92 L926.4,231.12 L927.5,232.4 L927.8,232.74 M931,235.9 L932.2,236.93 L933.4,237.9 L934.4,238.68 M937.6,241.02 L938.8,241.86 L940.1,242.76 L941,243.38 M944.2,245.56 L945.4,246.35 L946.7,247.17 L947.6,247.71 M950.8,249.39 L952.1,249.99 L953.3,250.52 L954.2,250.9 M957.4,252.09 L958.7,252.49 L959.9,252.82 L960.8,253.07 M964,253.88 L965.2,254.12 L966.4,254.32 L967.4,254.44 M970.6,254.69 L971.8,254.77 L973.1,254.85 L974,254.89 M977.2,254.99 L978.4,255 L979.7,254.98 L980.6,254.95 M983.8,254.72 L985.1,254.6 L986.3,254.48 L987.2,254.38 M990.4,253.97 L991.7,253.73 L992.9,253.49 L993.8,253.3 M997,252.61 L998.2,252.35 L999.4,252.07 L1000.4,251.83 M1003.6,251.04 L1004.8,250.76 L1006.1,250.48 L1007,250.3 M1010.2,249.68 L1011.4,249.47 L1012.7,249.24 L1013.6,249.1 M1016.8,248.65 L1018.1,248.48 L1019.3,248.34 L1020.2,248.24 M1023.4,247.93 L1024.6,247.83 L1025.9,247.74 L1026.8,247.67 M1030.1,247.47 L1031.4,247.41 L1032.6,247.35 L1033.4,247.31 M1036.6,247.19 L1037.9,247.14 L1039.1,247.1 L1040,247.07 M1043.2,247 L1044.4,247 L1045.7,247 L1046.6,247.01 M1049.8,247.04 L1051.1,247.06 L1052.3,247.07 L1053.2,247.09 M1056.4,247.27 L1057.6,247.4 L1058.8,247.56 L1059.8,247.71 M1063.1,248.21 L1064.3,248.4 L1065.6,248.63 L1066.4,248.78 M1069.6,249.41 L1070.8,249.66 L1072.1,249.92 L1073,250.1 M1076.2,250.74 L1077.4,250.99 L1078.6,251.24 L1079.6,251.45 M1082.8,252.19 L1084.1,252.51 L1085.3,252.81 L1086.2,253.05 M1089.4,253.95 L1090.6,254.31 L1091.8,254.7 L1092.8,255.05 M1096.1,256.34 L1097.3,256.86 L1098.6,257.44 L1099.4,257.81 M1102.6,259.29 L1103.8,259.85 L1105.1,260.44 L1106,260.85 M1109.2,262.19 L1110.4,262.65 L1111.6,263.09 L1112.6,263.46 M1115.8,264.58 L1117.1,265.02 L1118.3,265.42 L1119.2,265.71 M1122.4,266.76 L1123.6,267.15 L1124.8,267.53 L1125.8,267.86 M1129.1,268.93 L1130.3,269.34 L1131.6,269.79 L1132.4,270.08 M1135.6,271.23 L1136.8,271.63 L1138.1,272.02 L1139,272.26 M1142.2,273 L1143.4,273.26 L1144.6,273.48 L1145.6,273.63 M1148.8,273.73 L1150.1,273.67 L1151.3,273.6 L1152.2,273.52 M1155.4,273.19 L1156.6,273.05 L1157.8,272.89 L1158.8,272.73 M1162.1,271.97 L1163.3,271.62 L1164.6,271.21 L1165.4,270.93 M1168.6,269.64 L1169.8,268.98 L1171.1,268.15 L1172,267.53 M1175.2,265.11 L1176.4,264.19 L1177.6,263.2 L1178.6,262.32 M1181.8,259.3 L1183.1,258.04 L1184.3,256.9 L1185.2,256.07 M1188.4,253.12 L1189.6,252.01 L1190.8,250.91 L1191.8,249.98 M1195.1,246.91 L1196.3,245.79 L1197.6,244.59 L1198.4,243.85 M1201.6,240.86 L1202.8,239.7 L1204.1,238.41 L1205,237.49 M1208.2,234.05 L1209.3,232.81 L1210.4,231.55 L1211.5,230.28 L1211.6,230.17 M1214.8,226.4 L1215.9,225.1 L1217,223.8 L1218.1,222.51 L1218.2,222.4 M1221.4,218.72 L1222.5,217.5 L1223.6,216.29 L1224.7,215.08 L1224.8,214.97 M1228.1,211.37 L1229.3,210.07 L1230.5,208.78 L1231.4,207.81 M1234.6,204.41 L1235.8,203.14 L1237,201.89 L1238,200.85 M1241.2,197.56 L1242.4,196.35 L1243.6,195.15 L1244.6,194.16 M1247.8,191.03 L1249.1,189.78 L1250.3,188.63 L1251.2,187.77 M1254.4,184.75 L1255.6,183.62 L1256.8,182.5 L1257.8,181.56 M1261.1,178.47 L1262.3,177.34 L1263.6,176.12 L1264.4,175.37 M1267.6,172.37 L1268.8,171.26 L1270.1,170.05 L1271,169.22 M1274.2,166.29 L1275.4,165.2 L1276.6,164.12 L1277.6,163.23 M1280.8,160.43 L1282.1,159.31 L1283.3,158.27 L1284.2,157.51 M1287.4,154.8 L1288.6,153.79 L1289.8,152.8 L1290.8,151.98 M1294.1,149.31 L1295.3,148.36 L1296.6,147.34 L1297.4,146.72 M1300.6,144.3 L1301.8,143.42 L1303.1,142.48 L1304,141.84 M1307.2,139.59 L1308.4,138.76 L1309.6,137.94 L1310.6,137.25 M1313.8,135.07 L1315.1,134.18 L1316.3,133.35 L1317.2,132.73 M1320.4,130.5 L1321.6,129.65 L1322.8,128.8 L1323.8,128.09 M1327.1,125.76 L1328.3,124.91 L1329.6,124 L1330.4,123.44 M1333.6,121.25 L1334.8,120.44 L1336.1,119.59 L1337,119 M1340.2,116.95 L1341.5,116.14 L1342.7,115.39 L1343.6,114.83 M1346.8,112.88 L1348.1,112.1 L1349.3,111.39 L1350.2,110.85 M1353.4,108.99 L1354.6,108.3 L1355.8,107.61 L1356.8,107.05 M1360.1,105.19 L1361.3,104.53 L1362.6,103.81 L1363.4,103.37 M1366.6,101.63 L1367.8,100.98 L1369.1,100.29 L1370,99.81 M1373.2,98.13 L1374.5,97.46 L1375.7,96.85 L1376.6,96.39 M1379.8,94.78 L1381.1,94.14 L1381.9,93.75" fill="none" stroke="#ff0000" stroke-width="2.8"/><circle cx="789.55" cy="103.6" r="4.1" fill="#fff" stroke="#ff0000" stroke-width="0.85"/><circle cx="827.3" cy="129.94" r="4.1" fill="#fff" stroke="#ff0000" stroke-width="0.85"/><circle cx="865.05" cy="165.3" r="4.1" fill="#fff" stroke="#ff0000" stroke-width="0.85"/><circle cx="902.8" cy="205.65" r="4.1" fill="#fff" stroke="#ff0000" stroke-width="0.85"/><circle cx="940.55" cy="243.03" r="4.1" fill="#fff" stroke="#ff0000" stroke-width="0.85"/><circle cx="978.3" cy="255" r="4.1" fill="#fff" stroke="#ff0000" stroke-width="0.85"/><circle cx="1016.05" cy="248.75" r="4.1" fill="#fff" stroke="#ff0000" stroke-width="0.85"/><circle cx="1053.8" cy="247.1" r="4.1" fill="#fff" stroke="#ff0000" stroke-width="0.85"/><circle cx="1091.55" cy="254.6" r="4.1" fill="#fff" stroke="#ff0000" stroke-width="0.85"/><circle cx="1129.3" cy="269" r="4.1" fill="#fff" stroke="#ff0000" stroke-width="0.85"/><circle cx="1167.05" cy="270.35" r="4.1" fill="#fff" stroke="#ff0000" stroke-width="0.85"/><circle cx="1204.8" cy="237.7" r="4.1" fill="#fff" stroke="#ff0000" stroke-width="0.85"/><circle cx="1242.55" cy="196.25" r="4.1" fill="#fff" stroke="#ff0000" stroke-width="0.85"/><circle cx="1280.3" cy="160.86" r="4.1" fill="#fff" stroke="#ff0000" stroke-width="0.85"/><circle cx="1318.05" cy="132.18" r="4.1" fill="#fff" stroke="#ff0000" stroke-width="0.85"/><circle cx="1355.8" cy="107.61" r="4.1" fill="#fff" stroke="#ff0000" stroke-width="0.85"/></g>
<g clip-path="url(#cb)"><path transform="scale(1 1)" d="M789.5,180.5 L790.7,181.54 L790.8,181.62 M794,183.99 L795.2,184.79 L796.5,185.62 L797.4,186.19 M800.6,188.09 L801.9,188.85 L803.1,189.53 L804,190.05 M807.2,191.9 L808.5,192.68 L809.7,193.41 L810.6,193.98 M813.9,196.17 L815.1,196.99 L816.4,197.9 L817.2,198.46 M820.4,200.72 L821.6,201.56 L822.9,202.47 L823.8,203.09 M827,205.24 L828.2,206.01 L829.5,206.84 L830.4,207.41 M833.6,209.4 L834.9,210.2 L836.1,210.93 L837,211.48 M840.2,213.4 L841.5,214.17 L842.7,214.89 L843.6,215.42 M846.8,217.33 L848,218.05 L849.2,218.78 L850.2,219.39 M853.4,221.34 L854.6,222.07 L855.9,222.85 L856.8,223.38 M860,225.24 L861.2,225.91 L862.5,226.61 L863.4,227.09 M866.6,228.68 L867.9,229.3 L869.1,229.86 L870,230.27 M873.2,231.68 L874.5,232.24 L875.7,232.75 L876.6,233.12 M879.8,234.43 L881,234.91 L882.2,235.39 L883.2,235.78 M886.4,237.05 L887.6,237.53 L888.8,238.01 L889.8,238.4 M893,239.64 L894.2,240.09 L895.5,240.57 L896.4,240.89 M899.6,241.96 L900.8,242.34 L902.1,242.72 L903,242.97 M906.2,243.83 L907.5,244.16 L908.7,244.46 L909.6,244.68 M912.8,245.43 L914.1,245.71 L915.3,245.95 L916.2,246.13 M919.4,246.71 L920.7,246.92 L921.9,247.09 L922.8,247.22 M926,247.65 L927.2,247.8 L928.4,247.94 L929.4,248.06 M932.6,248.4 L933.8,248.52 L935.1,248.65 L936,248.73 M939.2,249 L940.4,249.1 L941.7,249.2 L942.6,249.26 M945.8,249.46 L947.1,249.53 L948.3,249.6 L949.2,249.65 M952.4,249.83 L953.7,249.91 L954.9,249.99 L955.8,250.06 M959,250.3 L960.2,250.4 L961.4,250.5 L962.4,250.58 M965.6,250.86 L966.8,250.97 L968.1,251.08 L969,251.16 M972.2,251.43 L973.4,251.53 L974.7,251.63 L975.6,251.7 M978.8,251.93 L980.1,252.01 L981.3,252.08 L982.2,252.14 M985.4,252.32 L986.7,252.39 L987.9,252.45 L988.8,252.5 M992,252.67 L993.2,252.74 L994.4,252.81 L995.4,252.87 M998.6,253.07 L999.8,253.15 L1001.1,253.24 L1002,253.3 M1005.2,253.52 L1006.4,253.6 L1007.7,253.7 L1008.6,253.77 M1011.8,254.02 L1013.1,254.13 L1014.3,254.24 L1015.2,254.32 M1018.4,254.65 L1019.7,254.79 L1020.9,254.93 L1021.8,255.05 M1025,255.46 L1026.2,255.63 L1027.4,255.79 L1028.4,255.94 M1031.6,256.4 L1032.9,256.59 L1034.1,256.77 L1035,256.9 M1038.2,257.38 L1039.4,257.57 L1040.6,257.76 L1041.6,257.92 M1044.8,258.44 L1046,258.64 L1047.2,258.85 L1048.2,259.02 M1051.4,259.58 L1052.7,259.81 L1053.9,260.03 L1054.8,260.19 M1058,260.81 L1059.2,261.06 L1060.4,261.3 L1061.4,261.51 M1064.6,262.17 L1065.8,262.42 L1067.1,262.69 L1068,262.87 M1071.2,263.51 L1072.4,263.73 L1073.6,263.95 L1074.6,264.13 M1077.8,264.66 L1079.1,264.87 L1080.3,265.06 L1081.2,265.21 M1084.4,265.72 L1085.6,265.92 L1086.8,266.13 L1087.8,266.3 M1091,266.9 L1092.2,267.14 L1093.4,267.4 L1094.4,267.62 M1097.6,268.38 L1098.8,268.67 L1100.1,269 L1101,269.23 M1104.2,270.06 L1105.4,270.36 L1106.6,270.67 L1107.6,270.92 M1110.8,271.69 L1112.1,271.99 L1113.3,272.27 L1114.2,272.47 M1117.4,273.2 L1118.6,273.47 L1119.8,273.74 L1120.8,273.97 M1124,274.69 L1125.2,274.97 L1126.4,275.24 L1127.4,275.48 M1130.6,276.25 L1131.8,276.55 L1133.1,276.9 L1134,277.14 M1137.2,278.03 L1138.4,278.36 L1139.6,278.68 L1140.6,278.95 M1143.8,279.74 L1145.1,280.03 L1146.3,280.28 L1147.2,280.45 M1150.4,281.01 L1151.6,281.22 L1152.8,281.43 L1153.8,281.6 M1157,282.12 L1158.2,282.3 L1159.4,282.46 L1160.4,282.59 M1163.6,282.91 L1164.8,283 L1166.1,283.06 L1167,283.09 M1170.2,283.16 L1171.4,283.18 L1172.6,283.2 L1173.6,283.21 M1176.8,283.25 L1178.1,283.27 L1179.3,283.28 L1180.2,283.28 M1183.4,283.3 L1184.6,283.3 L1185.8,283.3 L1186.8,283.28 M1190,283.19 L1191.2,283.13 L1192.4,283.06 L1193.4,282.99 M1196.6,282.75 L1197.8,282.64 L1199.1,282.52 L1200,282.43 M1203.2,282.1 L1204.4,281.97 L1205.6,281.83 L1206.6,281.69 M1209.8,281.08 L1211.1,280.78 L1212.3,280.48 L1213.2,280.24 M1216.4,279.32 L1217.6,278.96 L1218.8,278.6 L1219.8,278.3 M1223,277.36 L1224.2,277 L1225.4,276.64 L1226.4,276.33 M1229.6,275.31 L1230.8,274.91 L1232.1,274.47 L1233,274.16 M1236.2,273.03 L1237.4,272.6 L1238.6,272.16 L1239.6,271.79 M1242.8,270.58 L1244.1,270.07 L1245.3,269.59 L1246.2,269.22 M1249.4,267.86 L1250.6,267.34 L1251.8,266.81 L1252.8,266.36 M1256,264.92 L1257.2,264.37 L1258.4,263.83 L1259.4,263.38 M1262.6,261.96 L1263.8,261.43 L1265.1,260.85 L1266,260.45 M1269.2,259.02 L1270.4,258.49 L1271.6,257.95 L1272.6,257.5 M1275.8,256.09 L1277.1,255.51 L1278.3,254.99 L1279.2,254.6 M1282.4,253.24 L1283.6,252.73 L1284.8,252.23 L1285.8,251.81 M1289,250.48 L1290.2,249.99 L1291.4,249.49 L1292.4,249.09 M1295.6,247.78 L1296.8,247.3 L1298.1,246.77 L1299,246.4 M1302.2,245.11 L1303.4,244.63 L1304.6,244.15 L1305.6,243.75 M1308.8,242.47 L1310.1,241.95 L1311.3,241.48 L1312.2,241.12 M1315.4,239.87 L1316.6,239.4 L1317.8,238.93 L1318.8,238.55 M1322,237.31 L1323.2,236.85 L1324.5,236.36 L1325.4,236.01 M1328.6,234.8 L1329.8,234.35 L1331.1,233.86 L1332,233.53 M1335.2,232.34 L1336.5,231.86 L1337.7,231.43 L1338.6,231.1 M1341.8,229.94 L1343.1,229.48 L1344.3,229.05 L1345.2,228.73 M1348.4,227.6 L1349.6,227.18 L1350.8,226.76 L1351.8,226.42 M1355,225.33 L1356.2,224.93 L1357.5,224.5 L1358.4,224.21 M1361.6,223.16 L1362.8,222.77 L1364.1,222.35 L1365,222.07 M1368.2,221.05 L1369.5,220.64 L1370.7,220.27 L1371.6,219.99 M1374.8,219.01 L1376.1,218.62 L1377.3,218.26 L1378.2,217.99 M1381.4,217.05 L1381.9,216.9" fill="none" stroke="#0000ff" stroke-width="2.8"/><polygon points="789.55,175.2 784.55,183.7 794.55,183.7" fill="#fff" stroke="#0000ff" stroke-width="0.85"/><polygon points="827.3,200.13 822.3,208.63 832.3,208.63" fill="#fff" stroke="#0000ff" stroke-width="0.85"/><polygon points="865.05,222.6 860.05,231.1 870.05,231.1" fill="#fff" stroke="#0000ff" stroke-width="0.85"/><polygon points="902.8,237.61 897.8,246.11 907.8,246.11" fill="#fff" stroke="#0000ff" stroke-width="0.85"/><polygon points="940.55,243.81 935.55,252.31 945.55,252.31" fill="#fff" stroke="#0000ff" stroke-width="0.85"/><polygon points="978.3,246.59 973.3,255.09 983.3,255.09" fill="#fff" stroke="#0000ff" stroke-width="0.85"/><polygon points="1016.05,249.1 1011.05,257.6 1021.05,257.6" fill="#fff" stroke="#0000ff" stroke-width="0.85"/><polygon points="1053.8,254.71 1048.8,263.21 1058.8,263.21" fill="#fff" stroke="#0000ff" stroke-width="0.85"/><polygon points="1091.55,261.7 1086.55,270.2 1096.55,270.2" fill="#fff" stroke="#0000ff" stroke-width="0.85"/><polygon points="1129.3,270.63 1124.3,279.13 1134.3,279.13" fill="#fff" stroke="#0000ff" stroke-width="0.85"/><polygon points="1167.05,277.79 1162.05,286.29 1172.05,286.29" fill="#fff" stroke="#0000ff" stroke-width="0.85"/><polygon points="1204.8,276.62 1199.8,285.12 1209.8,285.12" fill="#fff" stroke="#0000ff" stroke-width="0.85"/><polygon points="1242.55,265.4 1237.55,273.9 1247.55,273.9" fill="#fff" stroke="#0000ff" stroke-width="0.85"/><polygon points="1280.3,248.83 1275.3,257.33 1285.3,257.33" fill="#fff" stroke="#0000ff" stroke-width="0.85"/><polygon points="1318.05,233.55 1313.05,242.05 1323.05,242.05" fill="#fff" stroke="#0000ff" stroke-width="0.85"/><polygon points="1355.8,219.77 1350.8,228.27 1360.8,228.27" fill="#fff" stroke="#0000ff" stroke-width="0.85"/></g>
<g clip-path="url(#cb)"><path transform="scale(1 1.04)" d="M789.5,99.52 L790.3,100 L791.1,100.48 L791.9,100.96 L792.7,101.44 L793.5,101.92 L794.3,102.4 L795.1,102.88 L795.9,103.36 L796.7,103.83 L797.5,104.31 L798.3,104.78 L799.1,105.26 L799.9,105.74 L800.7,106.21 L801.5,106.7 L802.3,107.18 L803.1,107.66 L803.9,108.15 L804.7,108.64 L805.5,109.14 L806.31,109.64 L807.11,110.15 L807.91,110.66 L808.71,111.17 L809.51,111.69 L810.31,112.22 L811.11,112.76 L811.91,113.3 L812.71,113.86 L813.51,114.42 L814.31,114.98 L815.11,115.56 L815.91,116.13 L816.71,116.71 L817.51,117.3 L818.31,117.89 L819.11,118.48 L819.91,119.07 L820.71,119.66 L821.51,120.25 L822.31,120.84 L823.11,121.43 L823.91,122.02 L824.71,122.6 L825.51,123.18 L826.31,123.75 L827.11,124.32 L827.91,124.89 L828.71,125.45 L829.51,126.01 L830.31,126.57 L831.11,127.12 L831.91,127.68 L832.71,128.23 L833.51,128.78 L834.31,129.33 L835.11,129.88 L835.91,130.42 L836.71,130.97 L837.51,131.52 L838.31,132.08 L839.12,132.63 L839.92,133.18 L840.72,133.74 L841.52,134.3 L842.32,134.86 L843.12,135.43 L843.92,136 L844.72,136.57 L845.52,137.15 L846.32,137.73 L847.12,138.32 L847.92,138.91 L848.72,139.5 L849.52,140.1 L850.32,140.69 L851.12,141.3 L851.92,141.9 L852.72,142.51 L853.52,143.11 L854.32,143.73 L855.12,144.34 L855.92,144.95 L856.72,145.57 L857.52,146.19 L858.32,146.81 L859.12,147.43 L859.92,148.05 L860.72,148.67 L861.52,149.3 L862.32,149.92 L863.12,150.55 L863.92,151.18 L864.72,151.8 L865.52,152.43 L866.32,153.06 L867.12,153.68 L867.92,154.31 L868.72,154.93 L869.52,155.56 L870.32,156.19 L871.12,156.82 L871.93,157.45 L872.73,158.08 L873.53,158.71 L874.33,159.35 L875.13,159.99 L875.93,160.63 L876.73,161.27 L877.53,161.92 L878.33,162.57 L879.13,163.22 L879.93,163.88 L880.73,164.55 L881.53,165.21 L882.33,165.89 L883.13,166.56 L883.93,167.25 L884.73,167.94 L885.53,168.63 L886.33,169.33 L887.13,170.04 L887.93,170.76 L888.73,171.47 L889.53,172.2 L890.33,172.93 L891.13,173.66 L891.93,174.4 L892.73,175.13 L893.53,175.88 L894.33,176.62 L895.13,177.37 L895.93,178.12 L896.73,178.87 L897.53,179.62 L898.33,180.37 L899.13,181.12 L899.93,181.88 L900.73,182.63 L901.53,183.38 L902.33,184.13 L903.13,184.88 L903.93,185.63 L904.74,186.38 L905.54,187.13 L906.34,187.88 L907.14,188.64 L907.94,189.39 L908.74,190.15 L909.54,190.91 L910.34,191.66 L911.14,192.42 L911.94,193.19 L912.74,193.95 L913.54,194.71 L914.34,195.48 L915.14,196.24 L915.94,197.01 L916.74,197.78 L917.54,198.56 L918.34,199.33 L919.14,200.11 L919.94,200.88 L920.74,201.66 L921.54,202.44 L922.34,203.23 L923.14,204.01 L923.94,204.79 L924.74,205.58 L925.54,206.36 L926.34,207.15 L927.14,207.93 L927.94,208.72 L928.74,209.51 L929.54,210.31 L930.34,211.1 L931.14,211.9 L931.94,212.7 L932.74,213.5 L933.54,214.3 L934.34,215.11 L935.14,215.92 L935.94,216.74 L936.74,217.55 L937.55,218.38 L938.35,219.2 L939.15,220.03 L939.95,220.86 L940.75,221.7 L941.55,222.54 L942.35,223.39 L943.15,224.24 L943.95,225.1 L944.75,225.96 L945.55,226.83 L946.35,227.7 L947.15,228.57 L947.95,229.45 L948.75,230.33 L949.55,231.21 L950.35,232.09 L951.15,232.98 L951.95,233.87 L952.75,234.76 L953.55,235.65 L954.35,236.55 L955.15,237.44 L955.95,238.34 L956.75,239.23 L957.55,240.13 L958.35,241.02 L959.15,241.92 L959.95,242.81 L960.75,243.71 L961.55,244.6 L962.35,245.49 L963.15,246.38 L963.95,247.27 L964.75,248.16 L965.55,249.06 L966.35,249.95 L967.15,250.84 L967.95,251.74 L968.75,252.64 L969.55,253.54 L970.36,254.45 L971.16,255.36 L971.96,256.28 L972.76,257.2 L973.56,258.12 L974.36,259.05 L975.16,259.98 L975.96,260.93 L976.76,261.88 L977.56,262.83 L978.36,263.79 L979.16,264.77 L979.96,265.77 L980.76,266.78 L981.56,267.8 L982.36,268.84 L983.16,269.89 L983.96,270.94 L984.76,272.01 L985.56,273.08 L986.36,274.15 L987.16,275.23 L987.96,276.3 L988.76,277.37 L989.56,278.44 L990.36,279.51 L991.16,280.56 L991.96,281.61 L992.76,282.65 L993.56,283.67 L994.36,284.68 L995.16,285.67 L995.96,286.65 L996.76,287.6 L997.56,288.53 L998.36,289.44 L999.16,290.32 L999.96,291.17 L1000.76,292.01 L1001.56,292.83 L1002.36,293.64 L1003.17,294.44 L1003.97,295.24 L1004.77,296.05 L1005.57,296.86 L1006.37,297.68 L1007.17,298.52 L1007.97,299.38 L1008.77,300.26 L1009.57,301.18 L1010.37,302.13 L1011.17,303.15 L1011.97,304.22 L1012.77,305.32 L1013.57,306.42 L1014.37,307.51 L1015.17,308.56 L1015.97,309.53 L1016.77,310.44 L1017.57,311.32 L1018.37,312.18 L1019.17,313.03 L1019.97,313.85 L1020.77,314.67 L1021.57,315.47 L1022.37,316.25 L1023.17,317.02 L1023.97,317.79 L1024.77,318.54 L1025.57,319.28 L1026.37,320.01 L1027.17,320.74 L1027.97,321.46 L1028.77,322.17 L1029.57,322.88 L1030.37,323.58 L1031.17,324.29 L1031.97,324.99 L1032.77,325.69 L1033.57,326.39 L1034.37,327.09 L1035.17,327.8 L1035.98,328.51 L1036.78,329.22 L1037.58,329.92 L1038.38,330.62 L1039.18,331.32 L1039.98,332.01 L1040.78,332.7 L1041.58,333.39 L1042.38,334.07 L1043.18,334.75 L1043.98,335.42 L1044.78,336.09 L1045.58,336.76 L1046.38,337.43 L1047.18,338.09 L1047.98,338.76 L1048.78,339.42 L1049.58,340.08 L1050.38,340.74 L1051.18,341.4 L1051.98,342.05 L1052.78,342.71 L1053.58,343.37 L1054.38,344.03 L1055.18,344.67 L1055.98,345.31 L1056.78,345.94 L1057.58,346.57 L1058.38,347.2 L1059.18,347.82 L1059.98,348.44 L1060.78,349.07 L1061.58,349.7 L1062.38,350.33 L1063.18,350.96 L1063.98,351.61 L1064.78,352.26 L1065.58,352.93 L1066.38,353.6 L1067.18,354.29 L1067.98,354.99 L1068.79,355.7 L1069.59,356.42 L1070.39,357.14 L1071.19,357.87 L1071.99,358.61 L1072.79,359.36 L1073.59,360.12 L1074.39,360.89 L1075.19,361.67 L1075.99,362.46 L1076.79,363.26 L1077.59,364.07 L1078.39,364.89 L1079.19,365.73 L1079.99,366.57 L1080.79,367.43 L1081.59,368.29 L1082.39,369.16 L1083.19,370.04 L1083.99,370.93 L1084.79,371.84 L1085.59,372.76 L1086.39,373.71 L1087.19,374.67 L1087.99,375.67 L1088.79,376.69 L1089.59,377.74 L1090.39,378.82 L1091.19,379.94 L1091.89,380.96 L1091.99,381.12 L1092.69,382.23 L1092.79,382.4 L1093.39,383.41 L1093.59,383.76 L1094.19,384.83 L1094.39,385.19 L1094.99,386.29 L1095.19,386.66 L1095.79,387.77 L1095.99,388.14 L1096.59,389.25 L1096.79,389.62 L1097.39,390.7 L1097.59,391.06 L1098.19,392.1 L1098.39,392.44 L1099.09,393.58 L1099.19,393.74 L1099.89,394.83 L1099.99,394.98 L1100.69,396.03 L1100.79,396.17 L1101.5,397.2 L1101.6,397.35 L1102.3,398.37 L1102.4,398.52 L1103.1,399.57 L1103.2,399.72 L1103.9,400.81 L1104,400.97 L1104.7,402.12 L1104.8,402.29 L1105.4,403.34 L1105.6,403.7 L1106.2,404.8 L1106.4,405.18 L1107,406.33 L1107.2,406.72 L1107.8,407.91 L1108,408.31 L1108.5,409.33 L1108.8,409.96 L1109.3,411 L1109.6,411.64 L1110.1,412.71 L1110.4,413.36 L1110.9,414.46 L1111.2,415.12 L1111.7,416.25 L1112,416.94 L1112.5,418.1 L1112.8,418.81 L1113.3,420.01 L1113.6,420.74 L1114.1,421.98 L1114.4,422.74 L1114.8,423.76 L1115.2,424.8 L1115.6,425.88 L1116,426.99 L1116.4,428.13 L1116.8,429.29 L1117.2,430.47 L1154.8,430.08 L1155.1,429.01 L1155.4,427.87 L1155.6,427.07 L1155.9,425.83 L1156.2,424.51 L1156.4,423.58 L1156.7,422.06 L1156.9,420.99 L1157.1,419.86 L1157.2,419.29 L1157.4,418.11 L1157.6,416.9 L1157.8,415.67 L1158,414.42 L1158.2,413.16 L1158.4,411.91 L1158.6,410.66 L1158.8,409.42 L1159,408.2 L1159.2,407.01 L1159.4,405.85 L1159.6,404.73 L1159.8,403.66 L1160,402.64 L1160.3,401.18 L1160.4,400.7 L1160.7,399.28 L1161,397.89 L1161.2,396.98 L1161.5,395.64 L1161.8,394.33 L1162,393.48 L1162.3,392.22 L1162.6,391 L1162.8,390.2 L1163.1,389.02 L1163.4,387.88 L1163.6,387.13 L1163.9,386.05 L1164.2,385.01 L1164.4,384.34 L1164.8,383.03 L1165.2,381.77 L1165.6,380.52 L1166,379.28 L1166.4,378.04 L1166.8,376.76 L1167.2,375.45 L1167.5,374.42 L1167.6,374.07 L1167.9,373.01 L1168.2,371.92 L1168.4,371.18 L1168.7,370.06 L1169,368.93 L1169.2,368.17 L1169.5,367.02 L1169.8,365.86 L1170,365.09 L1170.3,363.93 L1170.6,362.78 L1170.8,362.01 L1171.1,360.87 L1171.4,359.74 L1171.6,359 L1171.9,357.9 L1172.2,356.82 L1172.4,356.12 L1172.7,355.08 L1173,354.04 L1173.2,353.35 L1173.5,352.31 L1173.8,351.28 L1174,350.59 L1174.3,349.57 L1174.6,348.55 L1174.8,347.87 L1175.1,346.86 L1175.4,345.85 L1175.6,345.19 L1176,343.86 L1176.4,342.56 L1176.8,341.27 L1177.2,339.99 L1177.6,338.74 L1178,337.51 L1178.4,336.3 L1178.8,335.12 L1179.2,333.96 L1179.6,332.83 L1180,331.73 L1180.4,330.66 L1180.8,329.6 L1181.2,328.57 L1181.6,327.55 L1182,326.55 L1182.5,325.32 L1182.8,324.6 L1183.3,323.41 L1183.6,322.7 L1184.1,321.54 L1184.4,320.85 L1184.9,319.72 L1185.2,319.05 L1185.7,317.93 L1186,317.27 L1186.5,316.17 L1186.8,315.52 L1187.3,314.43 L1187.6,313.78 L1188.1,312.7 L1188.4,312.05 L1188.9,310.97 L1189.2,310.33 L1189.7,309.28 L1190,308.66 L1190.5,307.63 L1190.8,307.02 L1191.3,306.02 L1191.6,305.42 L1192.2,304.23 L1192.4,303.83 L1193,302.65 L1193.2,302.26 L1193.8,301.07 L1194,300.68 L1194.6,299.49 L1194.8,299.09 L1195.3,298.09 L1195.6,297.48 L1196.1,296.46 L1196.4,295.84 L1196.9,294.81 L1197.2,294.18 L1197.7,293.13 L1198,292.5 L1198.5,291.44 L1198.8,290.81 L1199.3,289.74 L1199.6,289.1 L1200.1,288.04 L1200.4,287.4 L1200.9,286.33 L1201.2,285.69 L1201.7,284.62 L1202,283.98 L1202.5,282.91 L1202.8,282.27 L1203.3,281.21 L1203.6,280.58 L1204.1,279.53 L1204.4,278.9 L1204.9,277.85 L1205.2,277.23 L1205.7,276.18 L1206,275.56 L1206.5,274.51 L1206.8,273.88 L1207.3,272.82 L1207.6,272.19 L1208.1,271.14 L1208.4,270.51 L1208.9,269.46 L1209.2,268.83 L1209.7,267.78 L1210,267.16 L1210.5,266.12 L1210.8,265.5 L1211.3,264.48 L1211.6,263.87 L1212.1,262.85 L1212.4,262.25 L1213,261.06 L1213.2,260.66 L1213.8,259.49 L1214,259.11 L1214.6,257.96 L1214.8,257.59 L1215.4,256.47 L1215.6,256.1 L1216.2,254.99 L1216.4,254.63 L1217,253.54 L1217.2,253.18 L1217.8,252.1 L1218,251.75 L1218.6,250.68 L1218.8,250.33 L1219.4,249.28 L1219.6,248.93 L1220.2,247.9 L1220.4,247.55 L1221,246.53 L1221.2,246.19 L1221.8,245.18 L1222,244.85 L1222.7,243.68 L1222.8,243.52 L1223.5,242.37 L1223.6,242.21 L1224.3,241.07 L1224.4,240.91 L1225.1,239.79 L1225.2,239.63 L1225.9,238.53 L1226,238.37 L1226.7,237.28 L1226.8,237.13 L1227.5,236.05 L1227.6,235.9 L1228.3,234.85 L1228.4,234.7 L1229.1,233.66 L1229.2,233.51 L1229.9,232.48 L1230,232.34 L1230.7,231.32 L1230.8,231.18 L1231.5,230.18 L1231.6,230.04 L1232.4,228.9 L1233.2,227.78 L1234,226.66 L1234.8,225.55 L1235.6,224.45 L1236.4,223.34 L1237.2,222.24 L1238,221.14 L1238.8,220.04 L1239.6,218.94 L1240.4,217.82 L1241.2,216.71 L1242,215.58 L1242.8,214.45 L1243.6,213.31 L1244.4,212.17 L1245.2,211.03 L1246,209.89 L1246.8,208.75 L1247.6,207.61 L1248.4,206.47 L1249.2,205.34 L1250,204.2 L1250.8,203.06 L1251.6,201.92 L1252.4,200.78 L1253.2,199.63 L1254,198.49 L1254.8,197.35 L1255.5,196.35 L1255.6,196.21 L1256.3,195.21 L1256.4,195.06 L1257.1,194.06 L1257.2,193.92 L1257.9,192.92 L1258,192.77 L1258.7,191.77 L1258.8,191.63 L1259.5,190.62 L1259.6,190.48 L1260.3,189.47 L1260.4,189.33 L1261.1,188.3 L1261.2,188.15 L1261.9,187.11 L1262,186.96 L1262.7,185.93 L1262.8,185.78 L1263.5,184.76 L1263.6,184.62 L1264.4,183.5 L1265.2,182.43 L1266,181.39 L1266.8,180.38 L1267.6,179.38 L1268.4,178.4 L1269.2,177.44 L1270,176.49 L1270.8,175.55 L1271.6,174.63 L1272.4,173.71 L1273.2,172.8 L1274,171.9 L1274.8,171 L1275.6,170.1 L1276.4,169.2 L1277.2,168.3 L1278,167.4 L1278.8,166.49 L1279.6,165.58 L1280.4,164.65 L1281.2,163.73 L1282,162.79 L1282.8,161.86 L1283.6,160.92 L1284.4,159.98 L1285.2,159.05 L1286,158.11 L1286.8,157.17 L1287.6,156.23 L1288.4,155.29 L1289.2,154.36 L1290,153.43 L1290.8,152.5 L1291.6,151.57 L1292.4,150.65 L1293.2,149.73 L1294,148.82 L1294.8,147.91 L1295.6,147.01 L1296.4,146.12 L1297.2,145.23 L1298,144.36 L1298.8,143.49 L1299.6,142.62 L1300.4,141.77 L1301.2,140.91 L1302,140.07 L1302.8,139.23 L1303.6,138.39 L1304.4,137.56 L1305.2,136.73 L1306,135.9 L1306.8,135.08 L1307.6,134.27 L1308.4,133.45 L1309.2,132.65 L1310,131.84 L1310.8,131.04 L1311.6,130.24 L1312.4,129.44 L1313.2,128.65 L1314,127.86 L1314.8,127.07 L1315.6,126.29 L1316.4,125.51 L1317.2,124.73 L1318,123.95 L1318.8,123.17 L1319.6,122.4 L1320.4,121.63 L1321.2,120.86 L1322,120.09 L1322.8,119.33 L1323.6,118.57 L1324.4,117.82 L1325.2,117.07 L1326,116.32 L1326.8,115.57 L1327.6,114.82 L1328.4,114.08 L1329.2,113.34 L1330,112.61 L1330.8,111.87 L1331.6,111.14 L1332.4,110.41 L1333.2,109.68 L1334,108.95 L1334.8,108.23 L1335.6,107.51 L1336.4,106.79 L1337.2,106.07 L1338,105.35 L1338.8,104.63 L1339.6,103.91 L1340.4,103.19 L1341.2,102.46 L1342,101.74 L1342.8,101.02 L1343.6,100.3 L1344.4,99.58 L1345.2,98.87 L1346,98.16 L1346.8,97.45 L1347.6,96.75 L1348.4,96.05 L1349.2,95.36 L1350,94.68 L1350.8,94 L1351.6,93.33 L1352.4,92.67 L1353.2,92.02 L1354,91.37 L1354.8,90.74 L1355.6,90.12 L1356.4,89.5 L1357.2,88.89 L1358,88.29 L1358.8,87.69 L1359.6,87.09 L1360.4,86.49 L1361.2,85.9 L1362,85.32 L1362.8,84.73 L1363.6,84.15 L1364.4,83.58 L1365.2,83.01 L1366,82.44 L1366.8,81.88 L1367.6,81.32 L1368.4,80.77 L1369.2,80.23 L1370,79.68 L1370.8,79.15 L1371.6,78.61 L1372.4,78.09 L1373.2,77.56 L1374,77.05 L1374.8,76.54 L1375.6,76.03 L1376.4,75.53 L1377.2,75.03 L1378,74.55 L1378.8,74.06 L1379.6,73.59 L1380.4,73.12 L1381.2,72.65 L1381.8,72.31" fill="none" stroke="#000000" stroke-width="2.98" stroke-linejoin="round"/><rect x="785.95" y="99.9" width="7.2" height="7.2" fill="#000000"/><rect x="823.7" y="125.85" width="7.2" height="7.2" fill="#000000"/><rect x="861.45" y="154.52" width="7.2" height="7.2" fill="#000000"/><rect x="899.2" y="188.38" width="7.2" height="7.2" fill="#000000"/><rect x="936.95" y="226.75" width="7.2" height="7.2" fill="#000000"/><rect x="974.7" y="270.62" width="7.2" height="7.2" fill="#000000"/><rect x="1012.45" y="318.44" width="7.2" height="7.2" fill="#000000"/><rect x="1050.2" y="353.68" width="7.2" height="7.2" fill="#000000"/><rect x="1087.95" y="392.14" width="7.2" height="7.2" fill="#000000"/><rect x="1163.45" y="387.56" width="7.2" height="7.2" fill="#000000"/><rect x="1201.2" y="285.58" width="7.2" height="7.2" fill="#000000"/><rect x="1238.95" y="219.87" width="7.2" height="7.2" fill="#000000"/><rect x="1276.7" y="167.76" width="7.2" height="7.2" fill="#000000"/><rect x="1314.45" y="125.3" width="7.2" height="7.2" fill="#000000"/><rect x="1352.2" y="89.96" width="7.2" height="7.2" fill="#000000"/></g>
<g clip-path="url(#cb)"><path transform="scale(1 1.04)" d="M789.5,95.67 L790.3,96.24 L791.1,96.81 L791.9,97.36 L792.7,97.89 L793.5,98.41 L794.3,98.93 L795.1,99.44 L795.9,99.95 L796.7,100.45 L797.5,100.95 L798.3,101.44 L799.1,101.93 L799.9,102.42 L800.7,102.91 L801.5,103.39 L802.3,103.88 L803.1,104.36 L803.9,104.85 L804.7,105.34 L805.5,105.83 L806.3,106.32 L807.1,106.82 L807.9,107.32 L808.7,107.82 L809.5,108.33 L810.3,108.85 L811.1,109.37 L811.9,109.89 L812.7,110.41 L813.5,110.94 L814.3,111.47 L815.1,112 L815.9,112.53 L816.7,113.06 L817.5,113.59 L818.3,114.13 L819.1,114.67 L819.9,115.21 L820.7,115.75 L821.5,116.29 L822.3,116.83 L823.1,117.37 L823.9,117.91 L824.7,118.46 L825.5,119 L826.3,119.55 L827.1,120.09 L827.9,120.63 L828.7,121.18 L829.5,121.72 L830.3,122.27 L831.1,122.81 L831.9,123.36 L832.7,123.91 L833.5,124.45 L834.3,125 L835.1,125.55 L835.9,126.1 L836.7,126.65 L837.5,127.21 L838.3,127.76 L839.1,128.31 L839.9,128.87 L840.7,129.43 L841.5,129.99 L842.3,130.55 L843.1,131.11 L843.9,131.68 L844.7,132.25 L845.5,132.82 L846.3,133.39 L847.1,133.96 L847.9,134.53 L848.7,135.11 L849.5,135.68 L850.3,136.26 L851.1,136.83 L851.9,137.41 L852.7,137.99 L853.5,138.57 L854.3,139.15 L855.1,139.74 L855.9,140.33 L856.7,140.92 L857.5,141.51 L858.3,142.1 L859.1,142.7 L859.9,143.3 L860.7,143.91 L861.5,144.51 L862.3,145.12 L863.1,145.74 L863.9,146.36 L864.7,146.98 L865.5,147.6 L866.3,148.23 L867.1,148.87 L867.9,149.51 L868.7,150.15 L869.5,150.8 L870.3,151.45 L871.1,152.1 L871.9,152.76 L872.7,153.42 L873.5,154.08 L874.3,154.74 L875.1,155.41 L875.9,156.08 L876.7,156.76 L877.5,157.43 L878.3,158.11 L879.1,158.79 L879.9,159.47 L880.7,160.15 L881.5,160.84 L882.3,161.52 L883.1,162.21 L883.9,162.89 L884.7,163.58 L885.5,164.27 L886.3,164.96 L887.1,165.65 L887.9,166.35 L888.7,167.04 L889.5,167.74 L890.3,168.44 L891.1,169.14 L891.9,169.84 L892.7,170.55 L893.5,171.26 L894.3,171.97 L895.1,172.68 L895.9,173.4 L896.7,174.12 L897.5,174.85 L898.3,175.58 L899.1,176.31 L899.9,177.05 L900.7,177.79 L901.5,178.54 L902.3,179.29 L903.1,180.04 L903.9,180.81 L904.7,181.57 L905.5,182.35 L906.3,183.13 L907.1,183.91 L907.9,184.7 L908.7,185.49 L909.5,186.29 L910.3,187.09 L911.1,187.9 L911.9,188.71 L912.7,189.52 L913.5,190.33 L914.3,191.15 L915.1,191.97 L915.9,192.79 L916.7,193.61 L917.5,194.43 L918.3,195.26 L919.1,196.08 L919.9,196.91 L920.7,197.73 L921.5,198.56 L922.3,199.38 L923.1,200.2 L923.9,201.02 L924.7,201.84 L925.5,202.66 L926.3,203.48 L927.1,204.29 L927.9,205.11 L928.7,205.94 L929.5,206.76 L930.3,207.59 L931.1,208.42 L931.9,209.25 L932.7,210.09 L933.5,210.94 L934.3,211.79 L935.1,212.64 L935.9,213.51 L936.7,214.38 L937.5,215.26 L938.3,216.15 L939.1,217.04 L939.9,217.95 L940.7,218.87 L941.5,219.79 L942.3,220.73 L943.1,221.67 L943.9,222.62 L944.7,223.59 L945.5,224.56 L946.3,225.54 L947.1,226.53 L947.9,227.52 L948.7,228.53 L949.5,229.55 L950.3,230.57 L951.1,231.61 L951.9,232.65 L952.7,233.7 L953.5,234.76 L954.3,235.83 L955.1,236.91 L955.9,238.02 L956.7,239.14 L957.4,240.14 L957.5,240.29 L958.2,241.3 L958.3,241.45 L959,242.48 L959.1,242.63 L959.8,243.67 L959.9,243.82 L960.6,244.86 L960.7,245.01 L961.4,246.06 L961.5,246.21 L962.2,247.27 L962.3,247.42 L963,248.47 L963.1,248.62 L963.8,249.66 L963.9,249.81 L964.6,250.84 L964.7,250.99 L965.4,252.02 L965.5,252.16 L966.2,253.17 L966.3,253.32 L967.1,254.45 L967.9,255.57 L968.7,256.67 L969.5,257.77 L970.3,258.86 L971.1,259.95 L971.9,261.04 L972.7,262.14 L973.5,263.24 L974.3,264.36 L975.1,265.5 L975.8,266.51 L975.9,266.65 L976.6,267.68 L976.7,267.83 L977.4,268.89 L977.5,269.04 L978.2,270.12 L978.3,270.28 L979,271.39 L979.1,271.55 L979.8,272.7 L979.9,272.87 L980.5,273.88 L980.7,274.22 L981.3,275.25 L981.5,275.6 L982.1,276.65 L982.3,277.01 L982.9,278.07 L983.1,278.43 L983.7,279.51 L983.9,279.87 L984.5,280.95 L984.7,281.31 L985.3,282.39 L985.5,282.75 L986.1,283.83 L986.3,284.2 L986.9,285.29 L987.1,285.66 L987.7,286.76 L987.9,287.13 L988.5,288.25 L988.7,288.63 L989.3,289.76 L989.5,290.13 L990.1,291.27 L990.3,291.64 L990.9,292.77 L991.1,293.15 L991.7,294.28 L991.9,294.65 L992.5,295.77 L992.7,296.14 L993.3,297.25 L993.5,297.62 L994.1,298.71 L994.3,299.07 L994.9,300.14 L995.1,300.49 L995.7,301.54 L995.9,301.89 L996.5,302.92 L996.7,303.27 L997.3,304.3 L997.5,304.65 L998.1,305.68 L998.3,306.03 L998.9,307.07 L999.1,307.42 L999.7,308.48 L999.9,308.84 L1000.5,309.92 L1000.7,310.29 L1001.3,311.4 L1001.5,311.77 L1002.1,312.92 L1002.3,313.31 L1002.9,314.5 L1003.1,314.9 L1003.6,315.93 L1003.9,316.56 L1004.4,317.62 L1004.7,318.26 L1005.2,319.35 L1005.5,320.01 L1006,321.11 L1006.3,321.78 L1006.8,322.91 L1007.1,323.58 L1007.6,324.71 L1007.9,325.39 L1008.4,326.53 L1008.7,327.21 L1009.2,328.34 L1009.5,329.02 L1010,330.17 L1010.3,330.86 L1010.8,332.02 L1011.1,332.72 L1011.6,333.89 L1011.9,334.6 L1012.4,335.78 L1012.7,336.49 L1013.2,337.67 L1013.5,338.38 L1014,339.57 L1014.3,340.29 L1014.8,341.48 L1015.1,342.19 L1015.6,343.38 L1015.9,344.09 L1016.4,345.27 L1016.7,345.98 L1017.2,347.16 L1017.5,347.87 L1018,349.05 L1018.3,349.76 L1018.8,350.95 L1019.1,351.66 L1019.6,352.85 L1019.9,353.57 L1020.4,354.77 L1020.7,355.49 L1021.2,356.7 L1021.5,357.43 L1022,358.65 L1022.3,359.39 L1022.8,360.64 L1023.1,361.4 L1023.5,362.41 L1023.9,363.43 L1024.3,364.45 L1024.7,365.47 L1025.1,366.5 L1025.5,367.52 L1025.9,368.55 L1026.3,369.57 L1026.7,370.58 L1027.1,371.59 L1027.5,372.6 L1027.9,373.59 L1028.4,374.83 L1028.7,375.57 L1029.2,376.79 L1029.5,377.53 L1030,378.75 L1030.3,379.48 L1030.8,380.7 L1031.1,381.44 L1031.6,382.67 L1031.9,383.41 L1032.4,384.65 L1032.7,385.4 L1033.1,386.4 L1033.5,387.41 L1033.9,388.42 L1034.3,389.42 L1034.7,390.43 L1035.1,391.42 L1035.6,392.66 L1035.9,393.39 L1036.4,394.59 L1036.7,395.31 L1037.2,396.51 L1037.5,397.23 L1038,398.42 L1038.3,399.12 L1038.8,400.28 L1039.1,400.95 L1039.6,402.04 L1039.9,402.68 L1040.4,403.71 L1040.7,404.32 L1041.2,405.32 L1041.5,405.91 L1042.1,407.06 L1042.3,407.43 L1042.9,408.49 L1043.1,408.83 L1043.8,409.93 L1043.9,410.08 L1044.7,411.21 L1045.5,412.26 L1046.3,413.2 L1047.1,414.04 L1047.9,414.92 L1048.7,415.76 L1049.5,416.33 L1050.3,416.43 L1051.1,416.24 L1051.9,415.9 L1052.7,415.47 L1053.5,415.03 L1054.3,414.62 L1055.1,414.16 L1055.9,413.66 L1056.7,413.1 L1057.5,412.5 L1058.3,411.83 L1059.1,411.09 L1059.9,410.27 L1060.7,409.35 L1061.5,408.31 L1062.2,407.22 L1062.3,407.05 L1062.9,405.97 L1063.1,405.6 L1063.7,404.44 L1063.9,404.05 L1064.5,402.88 L1064.7,402.5 L1065.2,401.48 L1065.5,400.86 L1066,399.79 L1066.3,399.15 L1066.8,398.08 L1067.1,397.45 L1067.6,396.43 L1067.9,395.84 L1068.5,394.66 L1068.7,394.28 L1069.3,393.13 L1069.5,392.75 L1070.1,391.62 L1070.3,391.24 L1070.9,390.11 L1071.1,389.74 L1071.7,388.6 L1071.9,388.22 L1072.5,387.08 L1072.7,386.69 L1073.3,385.51 L1073.5,385.12 L1074,384.11 L1074.3,383.49 L1074.8,382.43 L1075.1,381.78 L1075.6,380.68 L1075.9,380.02 L1076.4,378.91 L1076.7,378.25 L1077.2,377.14 L1077.5,376.48 L1078,375.4 L1078.3,374.77 L1078.8,373.73 L1079.1,373.12 L1079.7,371.95 L1079.9,371.58 L1080.5,370.49 L1080.7,370.14 L1081.3,369.09 L1081.5,368.75 L1082.1,367.74 L1082.3,367.41 L1083,366.28 L1083.1,366.12 L1083.8,365.03 L1083.9,364.88 L1084.6,363.82 L1084.7,363.67 L1085.4,362.64 L1085.5,362.5 L1086.3,361.39 L1087.1,360.35 L1087.9,359.36 L1088.7,358.38 L1089.5,357.39 L1090.3,356.37 L1091.1,355.29 L1091.8,354.26 L1091.9,354.11 L1092.6,353 L1092.7,352.83 L1093.3,351.82 L1093.5,351.47 L1094.1,350.4 L1094.3,350.04 L1094.9,348.95 L1095.1,348.58 L1095.7,347.47 L1095.9,347.1 L1096.5,346 L1096.7,345.63 L1097.3,344.55 L1097.5,344.19 L1098.1,343.15 L1098.3,342.81 L1099,341.65 L1099.1,341.5 L1099.8,340.43 L1099.9,340.29 L1100.7,339.17 L1101.5,338.11 L1102.3,337.09 L1103.1,336.11 L1103.9,335.16 L1104.7,334.23 L1105.5,333.31 L1106.3,332.41 L1107.1,331.51 L1107.9,330.6 L1108.7,329.67 L1109.5,328.73 L1110.3,327.76 L1111.1,326.76 L1111.9,325.75 L1112.7,324.73 L1113.5,323.7 L1114.3,322.68 L1115.1,321.66 L1115.9,320.66 L1116.7,319.68 L1117.5,318.73 L1118.3,317.81 L1119.1,316.93 L1119.9,316.07 L1120.7,315.23 L1121.5,314.4 L1122.3,313.59 L1123.1,312.8 L1123.9,312.02 L1124.7,311.25 L1125.5,310.49 L1126.3,309.74 L1127.1,309 L1127.9,308.27 L1128.7,307.54 L1129.5,306.82 L1130.3,306.11 L1131.1,305.42 L1131.9,304.75 L1132.7,304.09 L1133.5,303.44 L1134.3,302.8 L1135.1,302.16 L1135.9,301.52 L1136.7,300.87 L1137.5,300.22 L1138.3,299.55 L1139.1,298.87 L1139.9,298.17 L1140.7,297.44 L1141.5,296.7 L1142.3,295.94 L1143.1,295.17 L1143.9,294.39 L1144.7,293.6 L1145.5,292.81 L1146.3,292.03 L1147.1,291.25 L1147.9,290.48 L1148.7,289.71 L1149.5,288.94 L1150.3,288.16 L1151.1,287.39 L1151.9,286.62 L1152.7,285.84 L1153.5,285.07 L1154.3,284.3 L1155.1,283.54 L1155.9,282.77 L1156.7,282.01 L1157.5,281.26 L1158.3,280.51 L1159.1,279.76 L1159.9,279.02 L1160.7,278.28 L1161.5,277.54 L1162.3,276.8 L1163.1,276.06 L1163.9,275.32 L1164.7,274.58 L1165.5,273.84 L1166.3,273.1 L1167.1,272.35 L1167.9,271.6 L1168.7,270.84 L1169.5,270.08 L1170.3,269.32 L1171.1,268.55 L1171.9,267.79 L1172.7,267.03 L1173.5,266.27 L1174.3,265.51 L1175.1,264.77 L1175.9,264.03 L1176.7,263.3 L1177.5,262.58 L1178.3,261.86 L1179.1,261.14 L1179.9,260.42 L1180.7,259.71 L1181.5,259.01 L1182.3,258.31 L1183.1,257.62 L1183.9,256.94 L1184.7,256.26 L1185.5,255.59 L1186.3,254.93 L1187.1,254.28 L1187.9,253.64 L1188.7,253 L1189.5,252.37 L1190.3,251.74 L1191.1,251.11 L1191.9,250.49 L1192.7,249.86 L1193.5,249.24 L1194.3,248.62 L1195.1,248 L1195.9,247.38 L1196.7,246.78 L1197.5,246.18 L1198.3,245.58 L1199.1,244.99 L1199.9,244.4 L1200.7,243.8 L1201.5,243.19 L1202.3,242.58 L1203.1,241.96 L1203.9,241.32 L1204.7,240.67 L1205.5,239.99 L1206.3,239.3 L1207.1,238.58 L1207.9,237.86 L1208.7,237.12 L1209.5,236.38 L1210.3,235.63 L1211.1,234.89 L1211.9,234.15 L1212.7,233.41 L1213.5,232.69 L1214.3,231.98 L1215.1,231.26 L1215.9,230.55 L1216.7,229.84 L1217.5,229.13 L1218.3,228.42 L1219.1,227.72 L1219.9,227.02 L1220.7,226.32 L1221.5,225.62 L1222.3,224.93 L1223.1,224.24 L1223.9,223.56 L1224.7,222.88 L1225.5,222.21 L1226.3,221.53 L1227.1,220.86 L1227.9,220.19 L1228.7,219.53 L1229.5,218.86 L1230.3,218.19 L1231.1,217.52 L1231.9,216.85 L1232.7,216.18 L1233.5,215.5 L1234.3,214.83 L1235.1,214.15 L1235.9,213.48 L1236.7,212.8 L1237.5,212.13 L1238.3,211.46 L1239.1,210.78 L1239.9,210.11 L1240.7,209.44 L1241.5,208.77 L1242.3,208.1 L1243.1,207.43 L1243.9,206.77 L1244.7,206.11 L1245.5,205.46 L1246.3,204.81 L1247.1,204.16 L1247.9,203.51 L1248.7,202.86 L1249.5,202.21 L1250.3,201.56 L1251.1,200.92 L1251.9,200.27 L1252.7,199.62 L1253.5,198.96 L1254.3,198.31 L1255.1,197.65 L1255.9,196.99 L1256.7,196.32 L1257.5,195.65 L1258.3,194.97 L1259.1,194.29 L1259.9,193.6 L1260.7,192.9 L1261.5,192.19 L1262.3,191.47 L1263.1,190.74 L1263.9,190 L1264.7,189.26 L1265.5,188.52 L1266.3,187.77 L1267.1,187.03 L1267.9,186.29 L1268.7,185.55 L1269.5,184.82 L1270.3,184.1 L1271.1,183.39 L1271.9,182.69 L1272.7,182.01 L1273.5,181.33 L1274.3,180.66 L1275.1,180 L1275.9,179.34 L1276.7,178.68 L1277.5,178.03 L1278.3,177.38 L1279.1,176.72 L1279.9,176.06 L1280.7,175.4 L1281.5,174.73 L1282.3,174.06 L1283.1,173.39 L1283.9,172.71 L1284.7,172.03 L1285.5,171.35 L1286.3,170.67 L1287.1,169.99 L1287.9,169.31 L1288.7,168.64 L1289.5,167.96 L1290.3,167.28 L1291.1,166.6 L1291.9,165.93 L1292.7,165.26 L1293.5,164.59 L1294.3,163.92 L1295.1,163.26 L1295.9,162.6 L1296.7,161.95 L1297.5,161.3 L1298.3,160.65 L1299.1,160.02 L1299.9,159.38 L1300.7,158.76 L1301.5,158.13 L1302.3,157.52 L1303.1,156.9 L1303.9,156.29 L1304.7,155.68 L1305.5,155.08 L1306.3,154.47 L1307.1,153.87 L1307.9,153.28 L1308.7,152.68 L1309.5,152.08 L1310.3,151.49 L1311.1,150.89 L1311.9,150.3 L1312.7,149.71 L1313.5,149.11 L1314.3,148.51 L1315.1,147.92 L1315.9,147.32 L1316.7,146.72 L1317.5,146.11 L1318.3,145.51 L1319.1,144.9 L1319.9,144.29 L1320.7,143.68 L1321.5,143.07 L1322.3,142.46 L1323.1,141.85 L1323.9,141.23 L1324.7,140.62 L1325.5,140.01 L1326.3,139.39 L1327.1,138.78 L1327.9,138.17 L1328.7,137.56 L1329.5,136.94 L1330.3,136.33 L1331.1,135.72 L1331.9,135.11 L1332.7,134.5 L1333.5,133.89 L1334.3,133.29 L1335.1,132.68 L1335.9,132.08 L1336.7,131.48 L1337.5,130.87 L1338.3,130.27 L1339.1,129.67 L1339.9,129.07 L1340.7,128.47 L1341.5,127.87 L1342.3,127.27 L1343.1,126.67 L1343.9,126.07 L1344.7,125.47 L1345.5,124.87 L1346.3,124.28 L1347.1,123.68 L1347.9,123.09 L1348.7,122.5 L1349.5,121.91 L1350.3,121.32 L1351.1,120.73 L1351.9,120.15 L1352.7,119.57 L1353.5,118.99 L1354.3,118.42 L1355.1,117.85 L1355.9,117.28 L1356.7,116.72 L1357.5,116.15 L1358.3,115.59 L1359.1,115.03 L1359.9,114.47 L1360.7,113.92 L1361.5,113.36 L1362.3,112.81 L1363.1,112.25 L1363.9,111.7 L1364.7,111.15 L1365.5,110.6 L1366.3,110.06 L1367.1,109.51 L1367.9,108.97 L1368.7,108.43 L1369.5,107.89 L1370.3,107.35 L1371.1,106.81 L1371.9,106.28 L1372.7,105.75 L1373.5,105.22 L1374.3,104.69 L1375.1,104.16 L1375.9,103.63 L1376.7,103.11 L1377.5,102.59 L1378.3,102.07 L1379.1,101.55 L1379.9,101.04 L1380.7,100.53 L1381.5,100.01 L1381.9,99.76" fill="none" stroke="#ff0000" stroke-width="2.98" stroke-linejoin="round"/><circle cx="789.55" cy="99.5" r="4.25" fill="#ff0000"/><circle cx="827.3" cy="125.04" r="4.25" fill="#ff0000"/><circle cx="865.05" cy="153.1" r="4.25" fill="#ff0000"/><circle cx="902.8" cy="186.95" r="4.25" fill="#ff0000"/><circle cx="940.55" cy="227.38" r="4.25" fill="#ff0000"/><circle cx="978.3" cy="281.09" r="4.25" fill="#ff0000"/><circle cx="1016.05" cy="358.1" r="4.25" fill="#ff0000"/><circle cx="1053.8" cy="431.47" r="4.25" fill="#ff0000"/><circle cx="1091.55" cy="368.9" r="4.25" fill="#ff0000"/><circle cx="1129.3" cy="319.28" r="4.25" fill="#ff0000"/><circle cx="1167.05" cy="283.34" r="4.25" fill="#ff0000"/><circle cx="1204.8" cy="250.21" r="4.25" fill="#ff0000"/><circle cx="1242.55" cy="216.25" r="4.25" fill="#ff0000"/><circle cx="1280.3" cy="182.76" r="4.25" fill="#ff0000"/><circle cx="1318.05" cy="151.57" r="4.25" fill="#ff0000"/><circle cx="1355.8" cy="122.05" r="4.25" fill="#ff0000"/></g>
<g clip-path="url(#cb)"><path transform="scale(1 1.04)" d="M789.5,187.5 L790.3,188.11 L791.1,188.72 L791.9,189.33 L792.7,189.78 L793.5,190.23 L794.3,190.69 L795.1,191.14 L795.9,191.6 L796.7,192.05 L797.5,192.5 L798.3,192.92 L799.1,193.28 L799.9,193.64 L800.7,193.99 L801.5,194.35 L802.3,194.71 L803.1,195.07 L803.9,195.42 L804.7,195.78 L805.5,196.17 L806.3,196.59 L807.1,197.01 L807.9,197.42 L808.7,197.84 L809.5,198.26 L810.3,198.67 L811.1,199.08 L811.9,199.44 L812.7,199.79 L813.5,200.15 L814.3,200.5 L815.1,200.86 L815.9,201.21 L816.7,201.57 L817.5,201.92 L818.3,202.04 L819.1,202.16 L819.9,202.28 L820.7,202.4 L821.5,202.51 L822.3,202.63 L823.1,202.75 L823.9,202.87 L824.7,202.99 L825.5,203.11 L826.3,203.22 L827.1,203.34 L827.9,203.41 L828.7,203.46 L829.5,203.5 L830.3,203.55 L831.1,203.6 L831.9,203.65 L832.7,203.7 L833.5,203.75 L834.3,203.8 L835.1,203.85 L835.9,203.9 L836.7,203.96 L837.5,204.01 L838.3,204.06 L839.1,204.11 L839.9,204.16 L840.7,204.21 L841.5,204.26 L842.3,204.31 L843.1,204.34 L843.9,204.35 L844.7,204.36 L845.5,204.37 L846.3,204.39 L847.1,204.4 L847.9,204.41 L848.7,204.42 L849.5,204.43 L850.3,204.45 L851.1,204.46 L851.9,204.47 L852.7,204.48 L853.5,204.5 L854.3,204.51 L855.1,204.52 L855.9,204.5 L856.7,204.49 L857.5,204.47 L858.3,204.46 L859.1,204.44 L859.9,204.42 L860.7,204.41 L861.5,204.39 L862.3,204.38 L863.1,204.36 L863.9,204.35 L864.7,204.33 L865.5,204.3 L866.3,204.26 L867.1,204.23 L867.9,204.19 L868.7,204.15 L869.5,204.11 L870.3,204.07 L871.1,204.03 L871.9,204 L872.7,203.96 L873.5,203.92 L874.3,203.88 L875.1,203.82 L875.9,203.59 L876.7,203.37 L877.5,203.14 L878.3,202.92 L879.1,202.69 L879.9,202.46 L880.7,202.24 L881.5,202.01 L882.3,201.79 L883.1,201.66 L883.9,201.56 L884.7,201.46 L885.5,201.36 L886.3,201.26 L887.1,201.16 L887.9,201.06 L888.7,200.96 L889.5,200.86 L890.3,200.76 L891.1,200.66 L891.9,200.56 L892.7,200.46 L893.5,200.37 L894.3,200.28 L895.1,200.19 L895.9,200.1 L896.7,200.01 L897.5,199.92 L898.3,199.83 L899.1,199.74 L899.9,199.65 L900.7,199.56 L901.5,199.47 L902.3,199.38 L903.1,199.32 L903.9,199.3 L904.7,199.29 L905.5,199.27 L906.3,199.26 L907.1,199.24 L907.9,199.23 L908.7,199.21 L909.5,199.19 L910.3,199.18 L911.1,199.16 L911.9,199.15 L912.7,199.13 L913.5,199.12 L914.3,199.1 L915.1,199.09 L915.9,199.07 L916.7,199.05 L917.5,199.04 L918.3,199.02 L919.1,199 L919.9,198.98 L920.7,198.96 L921.5,198.95 L922.3,198.93 L923.1,198.91 L923.9,198.89 L924.7,198.87 L925.5,198.85 L926.3,198.84 L927.1,198.82 L927.9,198.8 L928.7,198.78 L929.5,198.76 L930.3,198.74 L931.1,198.72 L931.9,198.7 L932.7,198.68 L933.5,198.65 L934.3,198.63 L935.1,198.61 L935.9,198.59 L936.7,198.57 L937.5,198.55 L938.3,198.52 L939.1,198.5 L939.9,198.48 L940.7,198.43 L941.5,198.19 L942.3,197.94 L943.1,197.7 L943.9,197.45 L944.7,197.21 L945.5,197.01 L946.3,196.84 L947.1,196.67 L947.9,196.5 L948.7,196.33 L949.5,196.16 L950.3,196.12 L951.1,196.29 L951.9,196.46 L952.7,196.63 L953.5,196.8 L954.3,196.97 L955.1,197.14 L955.9,197.31 L956.7,197.48 L957.5,197.65 L958.3,197.83 L959.1,198 L959.9,198.17 L960.7,198.34 L961.5,198.47 L962.3,198.51 L963.1,198.54 L963.9,198.58 L964.7,198.61 L965.5,198.65 L966.3,198.68 L967.1,198.72 L967.9,198.75 L968.7,198.79 L969.5,198.82 L970.3,198.87 L971.1,198.95 L971.9,199.02 L972.7,199.09 L973.5,199.17 L974.3,199.24 L975.1,199.31 L975.9,199.39 L976.7,199.46 L977.5,199.53 L978.3,199.61 L979.1,199.66 L979.9,199.71 L980.7,199.77 L981.5,199.82 L982.3,199.87 L983.1,199.92 L983.9,199.98 L984.7,200.03 L985.5,200.08 L986.3,200.13 L987.1,200.18 L987.9,200.24 L988.7,200.29 L989.5,200.34 L990.3,200.39 L991.1,200.45 L991.9,200.5 L992.7,200.55 L993.5,200.6 L994.3,200.66 L995.1,200.71 L995.9,200.76 L996.7,200.81 L997.5,200.87 L998.3,201.01 L999.1,201.15 L999.9,201.3 L1000.7,201.44 L1001.5,201.59 L1002.3,201.73 L1003.1,201.88 L1003.9,202.02 L1004.7,202.17 L1005.5,202.31 L1006.3,202.46 L1007.1,202.62 L1007.9,202.77 L1008.7,202.92 L1009.5,203.08 L1010.3,203.23 L1011.1,203.38 L1011.9,203.54 L1012.7,203.69 L1013.5,203.85 L1014.3,204 L1015.1,204.15 L1015.9,204.31 L1016.7,204.48 L1017.5,204.66 L1018.3,204.84 L1019.1,205.02 L1019.9,205.2 L1020.7,205.37 L1021.5,205.55 L1022.3,205.73 L1023.1,205.91 L1023.9,206.09 L1024.7,206.26 L1025.5,206.44 L1026.3,206.62 L1027.1,206.8 L1027.9,206.98 L1028.7,207.15 L1029.5,207.33 L1030.3,207.51 L1031.1,207.69 L1031.9,207.87 L1032.7,208.05 L1033.5,208.22 L1034.3,208.4 L1035.1,208.58 L1035.9,208.73 L1036.7,208.88 L1037.5,209.03 L1038.3,209.18 L1039.1,209.34 L1039.9,209.49 L1040.7,209.64 L1041.5,209.79 L1042.3,209.94 L1043.1,210.09 L1043.9,210.25 L1044.7,210.4 L1045.5,210.55 L1046.3,210.7 L1047.1,210.85 L1047.9,211.01 L1048.7,211.16 L1049.5,211.31 L1050.3,211.46 L1051.1,211.61 L1051.9,211.76 L1052.7,211.92 L1053.5,212.07 L1054.3,212.24 L1055.1,212.42 L1055.9,212.6 L1056.7,212.78 L1057.5,212.96 L1058.3,213.14 L1059.1,213.32 L1059.9,213.5 L1060.7,213.68 L1061.5,213.86 L1062.3,214.04 L1063.1,214.23 L1063.9,214.41 L1064.7,214.59 L1065.5,214.77 L1066.3,214.95 L1067.1,215.13 L1067.9,215.31 L1068.7,215.49 L1069.5,215.67 L1070.3,215.85 L1071.1,216.03 L1071.9,216.21 L1072.7,216.4 L1073.5,216.64 L1074.3,216.87 L1075.1,217.11 L1075.9,217.34 L1076.7,217.58 L1077.5,217.81 L1078.3,218.05 L1079.1,218.28 L1079.9,218.52 L1080.7,218.75 L1081.5,218.99 L1082.3,219.22 L1083.1,219.46 L1083.9,219.69 L1084.7,219.93 L1085.5,220.16 L1086.3,220.4 L1087.1,220.63 L1087.9,220.87 L1088.7,221.1 L1089.5,221.34 L1090.3,221.57 L1091.1,221.81 L1091.9,222.04 L1092.7,222.26 L1093.5,222.49 L1094.3,222.72 L1095.1,222.94 L1095.9,223.17 L1096.7,223.4 L1097.5,223.62 L1098.3,223.85 L1099.1,224.08 L1099.9,224.3 L1100.7,224.53 L1101.5,224.76 L1102.3,224.98 L1103.1,225.21 L1103.9,225.44 L1104.7,225.66 L1105.5,225.89 L1106.3,226.12 L1107.1,226.34 L1107.9,226.57 L1108.7,226.8 L1109.5,227.02 L1110.3,227.25 L1111.1,227.49 L1111.9,227.73 L1112.7,227.96 L1113.5,228.2 L1114.3,228.44 L1115.1,228.68 L1115.9,228.91 L1116.7,229.15 L1117.5,229.39 L1118.3,229.63 L1119.1,229.86 L1119.9,230.1 L1120.7,230.34 L1121.5,230.58 L1122.3,230.81 L1123.1,231.05 L1123.9,231.29 L1124.7,231.53 L1125.5,231.76 L1126.3,232 L1127.1,232.24 L1127.9,232.48 L1128.7,232.71 L1129.5,232.95 L1130.3,233.13 L1131.1,233.3 L1131.9,233.47 L1132.7,233.64 L1133.5,233.81 L1134.3,233.98 L1135.1,234.15 L1135.9,234.32 L1136.7,234.49 L1137.5,234.66 L1138.3,234.83 L1139.1,235 L1139.9,235.17 L1140.7,235.34 L1141.5,235.51 L1142.3,235.68 L1143.1,235.85 L1143.9,236.01 L1144.7,236.18 L1145.5,236.35 L1146.3,236.52 L1147.1,236.69 L1147.9,236.89 L1148.7,237.11 L1149.5,237.34 L1150.3,237.56 L1151.1,237.78 L1151.9,238 L1152.7,238.23 L1153.5,238.45 L1154.3,238.67 L1155.1,238.89 L1155.9,239.12 L1156.7,239.34 L1157.5,239.52 L1158.3,239.67 L1159.1,239.82 L1159.9,239.97 L1160.7,240.12 L1161.5,240.27 L1162.3,240.42 L1163.1,240.57 L1163.9,240.72 L1164.7,240.87 L1165.5,241.02 L1166.3,241.17 L1167.1,241.32 L1167.9,241.49 L1168.7,241.66 L1169.5,241.83 L1170.3,242 L1171.1,242.17 L1171.9,242.34 L1172.7,242.51 L1173.5,242.69 L1174.3,242.86 L1175.1,243.03 L1175.9,243.2 L1176.7,243.37 L1177.5,243.54 L1178.3,243.72 L1179.1,243.89 L1179.9,244.06 L1180.7,244.23 L1181.5,244.4 L1182.3,244.57 L1183.1,244.69 L1183.9,244.78 L1184.7,244.88 L1185.5,244.97 L1186.3,245.07 L1187.1,245.16 L1187.9,245.26 L1188.7,245.35 L1189.5,245.45 L1190.3,245.54 L1191.1,245.64 L1191.9,245.73 L1192.7,245.83 L1193.5,245.92 L1194.3,246.01 L1195.1,246.11 L1195.9,246.2 L1196.7,246.3 L1197.5,246.39 L1198.3,246.45 L1199.1,246.51 L1199.9,246.56 L1200.7,246.62 L1201.5,246.68 L1202.3,246.73 L1203.1,246.79 L1203.9,246.85 L1204.7,246.9 L1205.5,246.95 L1206.3,246.98 L1207.1,247.02 L1207.9,247.05 L1208.7,247.09 L1209.5,247.12 L1210.3,247.16 L1211.1,247.2 L1211.9,247.23 L1212.7,247.27 L1213.5,247.3 L1214.3,247.34 L1215.1,247.38 L1215.9,247.41 L1216.7,247.45 L1217.5,247.48 L1218.3,247.52 L1219.1,247.56 L1219.9,247.59 L1220.7,247.72 L1221.5,247.87 L1222.3,248.02 L1223.1,248.16 L1223.9,248.31 L1224.7,248.45 L1225.5,248.6 L1226.3,248.75 L1227.1,248.89 L1227.9,249.04 L1228.7,249.19 L1229.5,249.33 L1230.3,249.31 L1231.1,249 L1231.9,248.69 L1232.7,248.38 L1233.5,248.08 L1234.3,247.77 L1235.1,247.46 L1235.9,247.15 L1236.7,247.05 L1237.5,246.97 L1238.3,246.89 L1239.1,246.81 L1239.9,246.73 L1240.7,246.65 L1241.5,246.57 L1242.3,246.49 L1243.1,246.43 L1243.9,246.42 L1244.7,246.4 L1245.5,246.38 L1246.3,246.36 L1247.1,246.34 L1247.9,246.32 L1248.7,246.3 L1249.5,246.28 L1250.3,246.26 L1251.1,246.24 L1251.9,246.22 L1252.7,246.2 L1253.5,246.18 L1254.3,246.16 L1255.1,246.14 L1255.9,246.12 L1256.7,246.1 L1257.5,246.08 L1258.3,246.06 L1259.1,246.04 L1259.9,246.02 L1260.7,246.01 L1261.5,245.99 L1262.3,245.97 L1263.1,245.91 L1263.9,245.85 L1264.7,245.79 L1265.5,245.72 L1266.3,245.66 L1267.1,245.59 L1267.9,245.53 L1268.7,245.47 L1269.5,245.4 L1270.3,245.34 L1271.1,245.28 L1271.9,245.21 L1272.7,245.15 L1273.5,245.08 L1274.3,245.02 L1275.1,244.96 L1275.9,244.89 L1276.7,244.83 L1277.5,244.77 L1278.3,244.7 L1279.1,244.64 L1279.9,244.58 L1280.7,244.51 L1281.5,244.43 L1282.3,244.35 L1283.1,244.26 L1283.9,244.18 L1284.7,244.1 L1285.5,244.02 L1286.3,243.94 L1287.1,243.85 L1287.9,243.77 L1288.7,243.69 L1289.5,243.61 L1290.3,243.6 L1291.1,243.72 L1291.9,243.84 L1292.7,243.96 L1293.5,244.08 L1294.3,244.2 L1295.1,244.32 L1295.9,244.43 L1296.7,244.55 L1297.5,244.67 L1298.3,244.79 L1299.1,244.91 L1299.9,245.03 L1300.7,245.15 L1301.5,245.12 L1302.3,245.01 L1303.1,244.89 L1303.9,244.78 L1304.7,244.67 L1305.5,244.55 L1306.3,244.44 L1307.1,244.33 L1307.9,244.21 L1308.7,244.1 L1309.5,243.98 L1310.3,243.87 L1311.1,243.76 L1311.9,243.64 L1312.7,243.54 L1313.5,243.49 L1314.3,243.44 L1315.1,243.39 L1315.9,243.34 L1316.7,243.28 L1317.5,243.23 L1318.3,243.18 L1319.1,243.2 L1319.9,243.24 L1320.7,243.27 L1321.5,243.31 L1322.3,243.34 L1323.1,243.38 L1323.9,243.41 L1324.7,243.45 L1325.5,243.35 L1326.3,243.16 L1327.1,242.98 L1327.9,242.79 L1328.7,242.61 L1329.5,242.42 L1330.3,242.24 L1331.1,242.05 L1331.9,241.87 L1332.7,241.73 L1333.5,241.72 L1334.3,241.71 L1335.1,241.71 L1335.9,241.7 L1336.7,241.69 L1337.5,241.68 L1338.3,241.68 L1339.1,241.67 L1339.9,241.66 L1340.7,241.65 L1341.5,241.64 L1342.3,241.64 L1343.1,241.55 L1343.9,241.44 L1344.7,241.32 L1345.5,241.21 L1346.3,241.09 L1347.1,240.98 L1347.9,240.87 L1348.7,240.75 L1349.5,240.64 L1350.3,240.52 L1351.1,240.41 L1351.9,240.3 L1352.7,240.18 L1353.5,240.07 L1354.3,239.95 L1355.1,239.84 L1355.9,239.73 L1356.7,239.54 L1357.5,239.34 L1358.3,239.15 L1359.1,238.95 L1359.9,238.75 L1360.7,238.56 L1361.5,238.36 L1362.3,238.16 L1363.1,237.97 L1363.9,237.77 L1364.7,237.57 L1365.5,237.5 L1366.3,237.5 L1367.1,237.5 L1367.9,237.5 L1368.7,237.5 L1369.5,237.5 L1370.3,237.5 L1371.1,237.5 L1371.9,237.5 L1372.7,237.41 L1373.5,237.04 L1374.3,236.67 L1375.1,236.3 L1375.9,235.93 L1376.7,235.56 L1377.5,235.19 L1378.3,235 L1379.1,234.81 L1379.9,234.62 L1380.7,234.42 L1381.5,234.23 L1381.9,234.13" fill="none" stroke="#0000ff" stroke-width="2.98" stroke-linejoin="round"/><polygon points="789.55,189.6 784.25,198.5 794.85,198.5" fill="#0000ff"/><polygon points="827.3,206.1 822,215 832.6,215" fill="#0000ff"/><polygon points="865.05,207.1 859.75,216 870.35,216" fill="#0000ff"/><polygon points="902.8,201.9 897.5,210.8 908.1,210.8" fill="#0000ff"/><polygon points="940.55,201 935.25,209.9 945.85,209.9" fill="#0000ff"/><polygon points="978.3,202.19 973,211.09 983.6,211.09" fill="#0000ff"/><polygon points="1016.05,207.1 1010.75,216 1021.35,216" fill="#0000ff"/><polygon points="1053.8,215.21 1048.5,224.11 1059.1,224.11" fill="#0000ff"/><polygon points="1091.55,225.4 1086.25,234.3 1096.85,234.3" fill="#0000ff"/><polygon points="1129.3,236.81 1124,245.71 1134.6,245.71" fill="#0000ff"/><polygon points="1167.05,245.55 1161.75,254.45 1172.35,254.45" fill="#0000ff"/><polygon points="1204.8,251.39 1199.5,260.29 1210.1,260.29" fill="#0000ff"/><polygon points="1242.55,250.93 1237.25,259.83 1247.85,259.83" fill="#0000ff"/><polygon points="1280.3,248.92 1275,257.82 1285.6,257.82" fill="#0000ff"/><polygon points="1318.05,247.53 1312.75,256.43 1323.35,256.43" fill="#0000ff"/><polygon points="1355.8,243.93 1350.5,252.83 1361.1,252.83" fill="#0000ff"/></g>
<rect x="971.3" y="26.3" width="197.4" height="159.2" fill="#fff" stroke="#6e6e6e" stroke-width="1.55"/>
<path d="M975.3,40.7 H984.6 M997,40.7 H1006.2 M1018,40.7 H1023" stroke="#000000" stroke-width="2.8" fill="none"/>
<rect x="995.7" y="37.4" width="6.6" height="6.6" fill="#fff" stroke="#000000" stroke-width="0.85"/>
<text x="1028.6" y="47.7" font-family='"Liberation Sans", Arial, sans-serif' font-size="22.2" textLength="138.3" lengthAdjust="spacingAndGlyphs">Simulated S22</text>
<path d="M975.3,67.2 H1023" stroke="#000000" stroke-width="2.8" fill="none"/>
<rect x="995.4" y="63.6" width="7.2" height="7.2" fill="#000000"/>
<text x="1028.6" y="74.2" font-family='"Liberation Sans", Arial, sans-serif' font-size="22.2" textLength="135.9" lengthAdjust="spacingAndGlyphs">Measured S22</text>
<path d="M975.3,93.7 H984.6 M997,93.7 H1006.2 M1018,93.7 H1023" stroke="#ff0000" stroke-width="2.8" fill="none"/>
<circle cx="999" cy="93.7" r="4.1" fill="#fff" stroke="#ff0000" stroke-width="0.85"/>
<text x="1028.6" y="100.7" font-family='"Liberation Sans", Arial, sans-serif' font-size="22.2" textLength="138.3" lengthAdjust="spacingAndGlyphs">Simulated S33</text>
<path d="M975.3,120.2 H1023" stroke="#ff0000" stroke-width="2.8" fill="none"/>
<circle cx="999" cy="120.2" r="4.25" fill="#ff0000"/>
<text x="1028.6" y="127.2" font-family='"Liberation Sans", Arial, sans-serif' font-size="22.2" textLength="135.9" lengthAdjust="spacingAndGlyphs">Measured S33</text>
<path d="M975.3,146.7 H984.6 M997,146.7 H1006.2 M1018,146.7 H1023" stroke="#0000ff" stroke-width="2.8" fill="none"/>
<polygon points="999,142 994,150.5 1004,150.5" fill="#fff" stroke="#0000ff" stroke-width="0.85"/>
<text x="1028.6" y="153.7" font-family='"Liberation Sans", Arial, sans-serif' font-size="22.2" textLength="138.3" lengthAdjust="spacingAndGlyphs">Simulated S32</text>
<path d="M975.3,173.2 H1023" stroke="#0000ff" stroke-width="2.8" fill="none"/>
<polygon points="999,168.4 993.7,177.3 1004.3,177.3" fill="#0000ff"/>
<text x="1028.6" y="180.2" font-family='"Liberation Sans", Arial, sans-serif' font-size="22.2" textLength="135.9" lengthAdjust="spacingAndGlyphs">Measured S32</text>
<path d="M791.4,14.8 V442 H1381.8" fill="none" stroke="#000" stroke-width="2.05" stroke-linecap="square"/>
<path d="M791.4,14.8 H1381.8 V442" fill="none" stroke="#000" stroke-width="1.8" stroke-linecap="square"/>
<path d="M782.5,14.8 H791.4 M782.5,68.17 H791.4 M782.5,121.55 H791.4 M782.5,174.93 H791.4 M782.5,228.3 H791.4 M782.5,281.68 H791.4 M782.5,335.05 H791.4 M782.5,388.43 H791.4 M782.5,441.8 H791.4 M786.6,41.49 H791.4 M786.6,94.86 H791.4 M786.6,148.24 H791.4 M786.6,201.61 H791.4 M786.6,254.99 H791.4 M786.6,308.36 H791.4 M786.6,361.74 H791.4 M786.6,415.11 H791.4" stroke="#000" stroke-width="1.8" fill="none"/>
<path d="M791.4,442 V450.9 M889.8,442 V450.9 M988.2,442 V450.9 M1086.6,442 V450.9 M1185,442 V450.9 M1283.4,442 V450.9 M1381.8,442 V450.9 M840.6,442 V446.8 M939,442 V446.8 M1037.4,442 V446.8 M1135.8,442 V446.8 M1234.2,442 V446.8 M1332.6,442 V446.8" stroke="#000" stroke-width="1.8" fill="none"/>
<text transform="translate(777.5 21.05) scale(0.95 1)" font-family='"Liberation Sans", Arial, sans-serif' font-size="26.1" text-anchor="end">0</text>
<text transform="translate(777.5 74.42) scale(0.95 1)" font-family='"Liberation Sans", Arial, sans-serif' font-size="26.1" text-anchor="end">-5</text>
<text transform="translate(777.5 127.8) scale(0.95 1)" font-family='"Liberation Sans", Arial, sans-serif' font-size="26.1" text-anchor="end">-10</text>
<text transform="translate(777.5 181.18) scale(0.95 1)" font-family='"Liberation Sans", Arial, sans-serif' font-size="26.1" text-anchor="end">-15</text>
<text transform="translate(777.5 234.55) scale(0.95 1)" font-family='"Liberation Sans", Arial, sans-serif' font-size="26.1" text-anchor="end">-20</text>
<text transform="translate(777.5 287.93) scale(0.95 1)" font-family='"Liberation Sans", Arial, sans-serif' font-size="26.1" text-anchor="end">-25</text>
<text transform="translate(777.5 341.3) scale(0.95 1)" font-family='"Liberation Sans", Arial, sans-serif' font-size="26.1" text-anchor="end">-30</text>
<text transform="translate(777.5 394.68) scale(0.95 1)" font-family='"Liberation Sans", Arial, sans-serif' font-size="26.1" text-anchor="end">-35</text>
<text transform="translate(777.5 448.05) scale(0.95 1)" font-family='"Liberation Sans", Arial, sans-serif' font-size="26.1" text-anchor="end">-40</text>
<text transform="translate(791.6 474.6) scale(0.95 1)" font-family='"Liberation Sans", Arial, sans-serif' font-size="26.1" text-anchor="middle">2.0</text>
<text transform="translate(890 474.6) scale(0.95 1)" font-family='"Liberation Sans", Arial, sans-serif' font-size="26.1" text-anchor="middle">2.5</text>
<text transform="translate(988.4 474.6) scale(0.95 1)" font-family='"Liberation Sans", Arial, sans-serif' font-size="26.1" text-anchor="middle">3.0</text>
<text transform="translate(1086.8 474.6) scale(0.95 1)" font-family='"Liberation Sans", Arial, sans-serif' font-size="26.1" text-anchor="middle">3.5</text>
<text transform="translate(1185.2 474.6) scale(0.95 1)" font-family='"Liberation Sans", Arial, sans-serif' font-size="26.1" text-anchor="middle">4.0</text>
<text transform="translate(1283.6 474.6) scale(0.95 1)" font-family='"Liberation Sans", Arial, sans-serif' font-size="26.1" text-anchor="middle">4.5</text>
<text transform="translate(1382 474.6) scale(0.95 1)" font-family='"Liberation Sans", Arial, sans-serif' font-size="26.1" text-anchor="middle">5.0</text>
<text x="728.6" y="342.6" font-family='"Liberation Sans", Arial, sans-serif' font-size="26" textLength="194.4" lengthAdjust="spacingAndGlyphs" transform="rotate(-90 728.6 342.6)">S-parameters, dB</text>
<text x="1001.1" y="503.3" font-family='"Liberation Sans", Arial, sans-serif' font-size="24.4" textLength="172.3" lengthAdjust="spacingAndGlyphs">frequency, GHz</text>
<text x="1093.5" y="548.4" font-family='"Liberation Serif", "Times New Roman", serif' font-size="27.5" text-anchor="middle">(b)</text>
<g clip-path="url(#cc)"><path transform="scale(1 1.04)" d="M441.1,626.15 L441.9,626.56 L442.7,626.96 L443.5,627.37 L444.3,627.79 L445.1,628.22 L445.9,628.65 L446.7,629.08 L447.5,629.52 L448.3,629.96 L449.1,630.4 L449.9,630.85 L450.7,631.3 L451.5,631.75 L452.3,632.2 L453.1,632.66 L453.9,633.12 L454.7,633.58 L455.5,634.04 L456.3,634.5 L457.1,634.96 L457.9,635.43 L458.7,635.89 L459.5,636.36 L460.3,636.83 L461.1,637.3 L461.9,637.77 L462.7,638.23 L463.5,638.7 L464.3,639.17 L465.1,639.64 L465.9,640.11 L466.7,640.57 L467.5,641.04 L468.3,641.51 L469.1,641.97 L469.9,642.43 L470.7,642.9 L471.5,643.36 L472.3,643.82 L473.1,644.27 L473.9,644.73 L474.7,645.18 L475.5,645.63 L476.3,646.08 L477.1,646.52 L477.9,646.96 L478.7,647.4 L479.5,647.84 L480.3,648.27 L481.1,648.7 L481.9,649.14 L482.7,649.57 L483.5,649.99 L484.3,650.42 L485.1,650.85 L485.9,651.27 L486.7,651.7 L487.5,652.12 L488.3,652.54 L489.1,652.97 L489.9,653.39 L490.7,653.81 L491.5,654.23 L492.3,654.64 L493.1,655.06 L493.9,655.48 L494.7,655.89 L495.5,656.31 L496.3,656.72 L497.1,657.14 L497.9,657.55 L498.7,657.96 L499.5,658.37 L500.3,658.78 L501.1,659.19 L501.91,659.6 L502.71,660.01 L503.51,660.42 L504.31,660.83 L505.11,661.24 L505.91,661.65 L506.71,662.06 L507.51,662.46 L508.31,662.87 L509.11,663.28 L509.91,663.68 L510.71,664.09 L511.51,664.5 L512.31,664.9 L513.11,665.31 L513.91,665.71 L514.71,666.12 L515.51,666.52 L516.31,666.93 L517.11,667.34 L517.91,667.74 L518.71,668.15 L519.51,668.55 L520.31,668.96 L521.11,669.36 L521.91,669.77 L522.71,670.18 L523.51,670.58 L524.31,670.99 L525.11,671.39 L525.91,671.8 L526.71,672.2 L527.51,672.61 L528.31,673.01 L529.11,673.41 L529.91,673.82 L530.71,674.22 L531.51,674.63 L532.31,675.03 L533.11,675.43 L533.91,675.83 L534.71,676.23 L535.51,676.63 L536.31,677.03 L537.11,677.43 L537.91,677.83 L538.71,678.23 L539.51,678.63 L540.31,679.03 L541.11,679.43 L541.91,679.82 L542.71,680.22 L543.51,680.61 L544.31,681.01 L545.11,681.4 L545.91,681.79 L546.71,682.18 L547.51,682.57 L548.31,682.96 L549.11,683.35 L549.91,683.74 L550.71,684.13 L551.51,684.51 L552.31,684.9 L553.11,685.28 L553.91,685.67 L554.71,686.05 L555.51,686.43 L556.31,686.81 L557.11,687.19 L557.91,687.56 L558.71,687.94 L559.51,688.32 L560.31,688.69 L561.11,689.06 L561.91,689.44 L562.71,689.81 L563.51,690.18 L564.31,690.55 L565.11,690.92 L565.91,691.29 L566.71,691.66 L567.51,692.03 L568.31,692.39 L569.11,692.76 L569.91,693.13 L570.71,693.49 L571.51,693.85 L572.31,694.22 L573.11,694.58 L573.91,694.94 L574.71,695.31 L575.51,695.67 L576.31,696.03 L577.11,696.39 L577.91,696.75 L578.71,697.11 L579.51,697.46 L580.31,697.82 L581.11,698.18 L581.91,698.54 L582.71,698.89 L583.51,699.25 L584.31,699.6 L585.11,699.96 L585.91,700.32 L586.71,700.67 L587.51,701.02 L588.31,701.38 L589.11,701.73 L589.91,702.09 L590.71,702.44 L591.51,702.79 L592.31,703.14 L593.11,703.5 L593.91,703.85 L594.71,704.2 L595.51,704.55 L596.31,704.9 L597.11,705.25 L597.91,705.6 L598.71,705.95 L599.51,706.3 L600.31,706.65 L601.11,707 L601.91,707.35 L602.71,707.7 L603.51,708.04 L604.31,708.39 L605.11,708.74 L605.91,709.08 L606.71,709.43 L607.51,709.78 L608.31,710.12 L609.11,710.46 L609.91,710.81 L610.71,711.15 L611.51,711.49 L612.31,711.84 L613.11,712.18 L613.91,712.52 L614.71,712.86 L615.51,713.2 L616.31,713.55 L617.11,713.89 L617.91,714.23 L618.71,714.57 L619.51,714.9 L620.31,715.24 L621.11,715.58 L621.91,715.92 L622.72,716.26 L623.52,716.6 L624.32,716.93 L625.12,717.27 L625.92,717.61 L626.72,717.94 L627.52,718.28 L628.32,718.61 L629.12,718.95 L629.92,719.28 L630.72,719.62 L631.52,719.95 L632.32,720.28 L633.12,720.62 L633.92,720.95 L634.72,721.28 L635.52,721.61 L636.32,721.94 L637.12,722.27 L637.92,722.6 L638.72,722.93 L639.52,723.26 L640.32,723.59 L641.12,723.92 L641.92,724.24 L642.72,724.57 L643.52,724.9 L644.32,725.22 L645.12,725.55 L645.92,725.87 L646.72,726.19 L647.52,726.52 L648.32,726.84 L649.12,727.17 L649.92,727.49 L650.72,727.81 L651.52,728.13 L652.32,728.46 L653.12,728.78 L653.92,729.1 L654.72,729.42 L655.52,729.74 L656.32,730.07 L657.12,730.39 L657.92,730.71 L658.72,731.03 L659.52,731.35 L660.32,731.68 L661.12,732 L661.92,732.32 L662.72,732.64 L663.52,732.97 L664.32,733.29 L665.12,733.61 L665.92,733.93 L666.72,734.26 L667.52,734.58 L668.32,734.9 L669.12,735.23 L669.92,735.55 L670.72,735.88 L671.52,736.2 L672.32,736.53 L673.12,736.86 L673.92,737.18 L674.72,737.51 L675.52,737.83 L676.32,738.16 L677.12,738.49 L677.92,738.81 L678.72,739.14 L679.52,739.47 L680.32,739.8 L681.12,740.12 L681.92,740.45 L682.72,740.78 L683.52,741.11 L684.32,741.43 L685.12,741.76 L685.92,742.09 L686.72,742.42 L687.52,742.74 L688.32,743.07 L689.12,743.4 L689.92,743.73 L690.72,744.05 L691.52,744.38 L692.32,744.71 L693.12,745.04 L693.92,745.36 L694.72,745.69 L695.52,746.02 L696.32,746.35 L697.12,746.67 L697.92,747 L698.72,747.33 L699.52,747.65 L700.32,747.98 L701.12,748.31 L701.92,748.63 L702.72,748.96 L703.52,749.29 L704.32,749.61 L705.12,749.94 L705.92,750.27 L706.72,750.59 L707.52,750.92 L708.32,751.24 L709.12,751.57 L709.92,751.89 L710.72,752.22 L711.52,752.54 L712.32,752.86 L713.12,753.19 L713.92,753.51 L714.72,753.83 L715.52,754.16 L716.32,754.48 L717.12,754.8 L717.92,755.13 L718.72,755.45 L719.52,755.77 L720.32,756.09 L721.12,756.41 L721.92,756.74 L722.72,757.06 L723.52,757.38 L724.32,757.7 L725.12,758.02 L725.92,758.34 L726.72,758.66 L727.52,758.99 L728.32,759.31 L729.12,759.63 L729.92,759.95 L730.72,760.27 L731.52,760.59 L732.32,760.91 L733.12,761.24 L733.92,761.56 L734.72,761.88 L735.52,762.2 L736.32,762.52 L737.12,762.84 L737.92,763.17 L738.72,763.49 L739.52,763.81 L740.32,764.13 L741.12,764.46 L741.92,764.78 L742.73,765.1 L743.53,765.43 L744.33,765.75 L745.13,766.08 L745.93,766.4 L746.73,766.72 L747.53,767.05 L748.33,767.38 L749.13,767.7 L749.93,768.03 L750.73,768.35 L751.53,768.68 L752.33,769.01 L753.13,769.33 L753.93,769.66 L754.73,769.99 L755.53,770.31 L756.33,770.64 L757.13,770.97 L757.93,771.3 L758.73,771.62 L759.53,771.95 L760.33,772.28 L761.13,772.61 L761.93,772.94 L762.73,773.26 L763.53,773.59 L764.33,773.92 L765.13,774.25 L765.93,774.58 L766.73,774.91 L767.53,775.24 L768.33,775.57 L769.13,775.9 L769.93,776.23 L770.73,776.56 L771.53,776.89 L772.33,777.22 L773.13,777.54 L773.93,777.87 L774.73,778.2 L775.53,778.53 L776.33,778.86 L777.13,779.19 L777.93,779.52 L778.73,779.85 L779.53,780.18 L780.33,780.52 L781.13,780.85 L781.93,781.18 L782.73,781.51 L783.53,781.84 L784.33,782.17 L785.13,782.5 L785.93,782.83 L786.73,783.16 L787.53,783.49 L788.33,783.82 L789.13,784.15 L789.93,784.48 L790.73,784.81 L791.53,785.14 L792.33,785.47 L793.13,785.8 L793.93,786.12 L794.73,786.45 L795.53,786.78 L796.33,787.11 L797.13,787.44 L797.93,787.77 L798.73,788.1 L799.53,788.43 L800.33,788.76 L801.13,789.09 L801.93,789.42 L802.73,789.75 L803.53,790.08 L804.33,790.41 L805.13,790.74 L805.93,791.07 L806.73,791.4 L807.53,791.73 L808.33,792.06 L809.13,792.39 L809.93,792.72 L810.73,793.05 L811.53,793.38 L812.33,793.72 L813.13,794.05 L813.93,794.38 L814.73,794.71 L815.53,795.05 L816.33,795.38 L817.13,795.71 L817.93,796.05 L818.73,796.38 L819.53,796.72 L820.33,797.05 L821.13,797.39 L821.93,797.73 L822.73,798.06 L823.53,798.4 L824.33,798.74 L825.13,799.07 L825.93,799.41 L826.73,799.75 L827.53,800.09 L828.33,800.43 L829.13,800.77 L829.93,801.11 L830.73,801.45 L831.53,801.79 L832.33,802.13 L833.13,802.47 L833.93,802.81 L834.73,803.15 L835.53,803.5 L836.33,803.84 L837.13,804.18 L837.93,804.52 L838.73,804.87 L839.53,805.21 L840.33,805.55 L841.13,805.9 L841.93,806.24 L842.73,806.58 L843.53,806.93 L844.33,807.27 L845.13,807.62 L845.93,807.97 L846.73,808.31 L847.53,808.66 L848.33,809.01 L849.13,809.35 L849.93,809.7 L850.73,810.05 L851.53,810.4 L852.33,810.75 L853.13,811.09 L853.93,811.44 L854.73,811.79 L855.53,812.14 L856.33,812.5 L857.13,812.85 L857.93,813.2 L858.73,813.55 L859.53,813.9 L860.33,814.26 L861.13,814.61 L861.93,814.96 L862.73,815.32 L863.54,815.67 L864.34,816.03 L865.14,816.38 L865.94,816.74 L866.74,817.1 L867.54,817.45 L868.34,817.81 L869.14,818.17 L869.94,818.53 L870.74,818.88 L871.54,819.24 L872.34,819.6 L873.14,819.96 L873.94,820.32 L874.74,820.68 L875.54,821.04 L876.34,821.4 L877.14,821.76 L877.94,822.13 L878.74,822.49 L879.54,822.85 L880.34,823.21 L881.14,823.58 L881.94,823.94 L882.74,824.31 L883.54,824.67 L884.34,825.04 L885.14,825.4 L885.94,825.77 L886.74,826.13 L887.54,826.5 L888.34,826.87 L889.14,827.24 L889.94,827.6 L890.74,827.97 L891.54,828.34 L892.34,828.71 L893.14,829.08 L893.94,829.46 L894.74,829.83 L895.54,830.2 L896.34,830.57 L897.14,830.95 L897.94,831.32 L898.74,831.69 L899.54,832.07 L900.34,832.44 L901.14,832.82 L901.94,833.2 L902.74,833.57 L903.54,833.95 L904.34,834.33 L905.14,834.71 L905.94,835.09 L906.74,835.47 L907.54,835.85 L908.34,836.23 L909.14,836.61 L909.94,836.99 L910.74,837.37 L911.54,837.75 L912.34,838.14 L913.14,838.52 L913.94,838.9 L914.74,839.29 L915.54,839.67 L916.34,840.06 L917.14,840.44 L917.94,840.83 L918.74,841.22 L919.54,841.6 L920.34,841.99 L921.14,842.38 L921.94,842.77 L922.74,843.16 L923.54,843.55 L924.34,843.94 L925.14,844.33 L925.94,844.73 L926.74,845.12 L927.54,845.51 L928.34,845.91 L929.14,846.3 L929.94,846.7 L930.74,847.09 L931.54,847.49 L932.34,847.89 L933.14,848.29 L933.94,848.69 L934.74,849.09 L935.54,849.49 L936.34,849.89 L937.14,850.29 L937.94,850.69 L938.74,851.1 L939.54,851.5 L940.34,851.91 L941.14,852.31 L941.94,852.72 L942.74,853.13 L943.54,853.54 L944.34,853.95 L945.14,854.35 L945.94,854.76 L946.74,855.18 L947.54,855.59 L948.34,856 L949.14,856.41 L949.94,856.83 L950.74,857.24 L951.54,857.65 L952.34,858.07 L953.14,858.49 L953.94,858.9 L954.74,859.32 L955.54,859.74 L956.34,860.16 L957.14,860.58 L957.94,861 L958.74,861.42 L959.54,861.84 L960.34,862.27 L961.14,862.69 L961.94,863.12 L962.74,863.54 L963.54,863.97 L964.34,864.39 L965.14,864.82 L965.94,865.25 L966.74,865.68 L967.54,866.11 L968.34,866.54 L969.14,866.97 L969.94,867.4 L970.74,867.84 L971.54,868.27 L972.34,868.71 L973.14,869.14 L973.94,869.58 L974.74,870.02 L975.54,870.46 L976.34,870.9 L977.14,871.34 L977.94,871.78 L978.74,872.22 L979.54,872.66 L980.34,873.11 L981.14,873.55 L981.94,874 L982.74,874.45 L983.54,874.9 L984.35,875.35 L985.15,875.8 L985.95,876.25 L986.75,876.7 L987.55,877.16 L988.35,877.61 L989.15,878.07 L989.95,878.53 L990.75,878.99 L991.55,879.45 L992.35,879.91 L993.15,880.37 L993.95,880.83 L994.75,881.29 L995.55,881.76 L996.35,882.22 L997.15,882.69 L997.95,883.15 L998.75,883.62 L999.55,884.09 L1000.35,884.56 L1001.15,885.02 L1001.95,885.49 L1002.75,885.96 L1003.55,886.43 L1004.35,886.91 L1005.15,887.38 L1005.95,887.85 L1006.75,888.32 L1007.55,888.8 L1008.35,889.27 L1009.15,889.74 L1009.95,890.22 L1010.75,890.69 L1011.55,891.17 L1012.35,891.64 L1013.15,892.12 L1013.95,892.59 L1014.75,893.07 L1015.55,893.55 L1016.35,894.02 L1017.15,894.5 L1017.95,894.98 L1018.75,895.46 L1019.55,895.94 L1020.35,896.42 L1021.15,896.9 L1021.95,897.38 L1022.75,897.86 L1023.55,898.34 L1024.35,898.82 L1025.15,899.31 L1025.95,899.79 L1026.75,900.28 L1027.55,900.76 L1028.35,901.25 L1029.15,901.74 L1029.95,902.23 L1030.75,902.72 L1031.55,903.21 L1032.35,903.7 L1033.15,904.19 L1033.95,904.68 L1034.75,905.17 L1035.55,905.66 L1036.35,906.16 L1037.15,906.65 L1037.95,907.14 L1038.75,907.64 L1039.55,908.14 L1040.35,908.63 L1041.15,909.13 L1041.95,909.63 L1042.75,910.12 L1043.55,910.62 L1044.25,911.06" fill="none" stroke="#000000" stroke-width="2.98" stroke-linejoin="round"/><rect x="437.5" y="647.6" width="7.2" height="7.2" fill="#000000"/><rect x="475.93" y="670.15" width="7.2" height="7.2" fill="#000000"/><rect x="514.36" y="690.9" width="7.2" height="7.2" fill="#000000"/><rect x="552.79" y="710.73" width="7.2" height="7.2" fill="#000000"/><rect x="591.22" y="728.81" width="7.2" height="7.2" fill="#000000"/><rect x="629.65" y="745.89" width="7.2" height="7.2" fill="#000000"/><rect x="668.08" y="762.14" width="7.2" height="7.2" fill="#000000"/><rect x="706.51" y="778.45" width="7.2" height="7.2" fill="#000000"/><rect x="744.94" y="794.55" width="7.2" height="7.2" fill="#000000"/><rect x="783.37" y="810.97" width="7.2" height="7.2" fill="#000000"/><rect x="821.8" y="827.57" width="7.2" height="7.2" fill="#000000"/><rect x="860.23" y="844.84" width="7.2" height="7.2" fill="#000000"/><rect x="898.66" y="863.07" width="7.2" height="7.2" fill="#000000"/><rect x="937.09" y="882.54" width="7.2" height="7.2" fill="#000000"/><rect x="975.52" y="903.74" width="7.2" height="7.2" fill="#000000"/><rect x="1013.95" y="926.93" width="7.2" height="7.2" fill="#000000"/></g>
<g clip-path="url(#cc)"><path transform="scale(1 1.04)" d="M441.1,807.21 L441.9,807.64 L442.7,808.08 L443.5,808.51 L444.3,808.96 L445.1,809.42 L445.9,809.87 L446.7,810.33 L447.5,810.79 L448.3,811.26 L449.1,811.72 L449.9,812.19 L450.7,812.67 L451.5,813.14 L452.3,813.62 L453.1,814.1 L453.9,814.58 L454.7,815.06 L455.5,815.54 L456.3,816.02 L457.1,816.51 L457.9,817 L458.7,817.48 L459.5,817.97 L460.3,818.46 L461.1,818.94 L461.9,819.43 L462.7,819.92 L463.5,820.4 L464.3,820.89 L465.1,821.38 L465.9,821.86 L466.7,822.35 L467.5,822.83 L468.3,823.31 L469.1,823.79 L469.9,824.27 L470.7,824.74 L471.5,825.22 L472.3,825.69 L473.1,826.16 L473.9,826.63 L474.7,827.09 L475.5,827.55 L476.3,828.01 L477.1,828.46 L477.9,828.92 L478.7,829.36 L479.5,829.81 L480.3,830.25 L481.1,830.69 L481.9,831.13 L482.7,831.56 L483.5,832 L484.3,832.43 L485.1,832.86 L485.9,833.29 L486.7,833.72 L487.5,834.15 L488.3,834.57 L489.1,835 L489.9,835.42 L490.7,835.84 L491.5,836.26 L492.3,836.68 L493.1,837.1 L493.9,837.51 L494.7,837.93 L495.5,838.35 L496.3,838.76 L497.1,839.17 L497.9,839.58 L498.7,839.99 L499.5,840.4 L500.3,840.81 L501.1,841.22 L501.9,841.63 L502.7,842.04 L503.5,842.44 L504.3,842.85 L505.1,843.26 L505.9,843.66 L506.7,844.07 L507.5,844.47 L508.3,844.87 L509.1,845.28 L509.9,845.68 L510.7,846.08 L511.5,846.49 L512.3,846.89 L513.1,847.29 L513.9,847.7 L514.7,848.1 L515.5,848.5 L516.3,848.9 L517.1,849.31 L517.9,849.71 L518.7,850.11 L519.5,850.51 L520.3,850.92 L521.1,851.32 L521.9,851.72 L522.7,852.12 L523.5,852.52 L524.3,852.92 L525.1,853.32 L525.9,853.72 L526.7,854.12 L527.5,854.52 L528.3,854.92 L529.1,855.31 L529.9,855.71 L530.7,856.11 L531.5,856.5 L532.3,856.9 L533.1,857.29 L533.9,857.69 L534.7,858.08 L535.5,858.48 L536.3,858.87 L537.1,859.26 L537.9,859.66 L538.7,860.05 L539.5,860.44 L540.3,860.83 L541.1,861.22 L541.9,861.61 L542.7,862 L543.5,862.39 L544.3,862.78 L545.1,863.17 L545.9,863.55 L546.7,863.94 L547.5,864.32 L548.3,864.71 L549.1,865.1 L549.9,865.48 L550.7,865.86 L551.5,866.25 L552.3,866.63 L553.1,867.01 L553.9,867.39 L554.7,867.77 L555.5,868.15 L556.3,868.53 L557.1,868.91 L557.9,869.29 L558.7,869.67 L559.5,870.05 L560.3,870.42 L561.1,870.8 L561.9,871.17 L562.7,871.55 L563.5,871.92 L564.3,872.29 L565.1,872.67 L565.9,873.04 L566.7,873.41 L567.5,873.78 L568.3,874.15 L569.1,874.52 L569.9,874.89 L570.7,875.26 L571.5,875.63 L572.3,876 L573.1,876.37 L573.9,876.73 L574.7,877.1 L575.5,877.47 L576.3,877.83 L577.1,878.2 L577.9,878.56 L578.7,878.93 L579.5,879.29 L580.3,879.66 L581.1,880.02 L581.9,880.38 L582.7,880.75 L583.5,881.11 L584.3,881.47 L585.1,881.84 L585.9,882.2 L586.7,882.56 L587.5,882.92 L588.3,883.28 L589.1,883.64 L589.9,884 L590.7,884.36 L591.5,884.72 L592.3,885.08 L593.1,885.44 L593.9,885.8 L594.7,886.16 L595.5,886.52 L596.3,886.88 L597.1,887.24 L597.9,887.6 L598.7,887.96 L599.5,888.32 L600.3,888.68 L601.1,889.03 L601.9,889.39 L602.7,889.75 L603.5,890.11 L604.3,890.46 L605.1,890.82 L605.9,891.18 L606.7,891.53 L607.5,891.89 L608.3,892.25 L609.1,892.6 L609.9,892.96 L610.7,893.31 L611.5,893.66 L612.3,894.02 L613.1,894.37 L613.9,894.73 L614.7,895.08 L615.5,895.43 L616.3,895.78 L617.1,896.13 L617.9,896.49 L618.7,896.84 L619.5,897.19 L620.3,897.54 L621.1,897.89 L621.9,898.23 L622.7,898.58 L623.5,898.93 L624.3,899.28 L625.1,899.62 L625.9,899.97 L626.7,900.32 L627.5,900.66 L628.3,901.01 L629.1,901.35 L629.9,901.69 L630.7,902.04 L631.5,902.38 L632.3,902.72 L633.1,903.06 L633.9,903.4 L634.7,903.74 L635.5,904.08 L636.3,904.42 L637.1,904.75 L637.9,905.09 L638.7,905.42 L639.5,905.76 L640.3,906.09 L641.1,906.42 L641.9,906.76 L642.7,907.09 L643.5,907.42 L644.3,907.75 L645.1,908.08 L645.9,908.41 L646.7,908.74 L647.5,909.07 L648.3,909.4 L649.1,909.72 L649.9,910.05 L650.7,910.38 L651.5,910.7 L652.3,911.03 L653.1,911.36 L653.9,911.68 L654.7,912.01 L655.5,912.34 L656.3,912.66 L657.1,912.99 L657.9,913.31 L658.7,913.64 L659.5,913.97 L660.3,914.29 L661.1,914.62 L661.9,914.95 L662.7,915.27 L663.5,915.6 L664.3,915.93 L665.1,916.25 L665.9,916.58 L666.7,916.91 L667.5,917.24 L668.3,917.57 L669.1,917.9 L669.9,918.23 L670.7,918.56 L671.5,918.89 L672.3,919.22 L673.1,919.55 L673.9,919.88 L674.7,920.21 L675.5,920.54 L676.3,920.88 L677.1,921.21 L677.9,921.54 L678.7,921.87 L679.5,922.2 L680.3,922.53 L681.1,922.87 L681.9,923.2 L682.7,923.53 L683.5,923.86 L684.3,924.19 L685.1,924.53 L685.9,924.86 L686.7,925.19 L687.5,925.52 L688.3,925.86 L689.1,926.19 L689.9,926.52 L690.7,926.85 L691.5,927.19 L692.3,927.52 L693.1,927.85 L693.9,928.19 L694.7,928.52 L695.5,928.85 L696.3,929.19 L697.1,929.52 L697.9,929.85 L698.7,930.19 L699.5,930.52 L700.3,930.85 L701.1,931.19 L701.9,931.52 L702.7,931.85 L703.5,932.19 L704.3,932.52 L705.1,932.86 L705.9,933.19 L706.7,933.52 L707.5,933.86 L708.3,934.19 L709.1,934.53 L709.9,934.86 L710.7,935.2 L711.5,935.53 L712.3,935.87 L713.1,936.2 L713.9,936.53 L714.7,936.87 L715.5,937.2 L716.3,937.54 L717.1,937.87 L717.9,938.21 L718.7,938.54 L719.5,938.87 L720.3,939.21 L721.1,939.54 L721.9,939.88 L722.7,940.21 L723.5,940.55 L724.3,940.88 L725.1,941.22 L725.9,941.55 L726.7,941.89 L727.5,942.22 L728.3,942.56 L729.1,942.89 L729.9,943.23 L730.7,943.56 L731.5,943.9 L732.3,944.23 L733.1,944.57 L733.9,944.91 L734.7,945.24 L735.5,945.58 L736.3,945.92 L737.1,946.26 L737.9,946.59 L738.7,946.93 L739.5,947.27 L740.3,947.61 L741.1,947.95 L741.9,948.29 L742.7,948.62 L743.5,948.96 L744.3,949.3 L745.1,949.64 L745.9,949.99 L746.7,950.33 L747.5,950.67 L748.3,951.01 L749.1,951.35 L749.9,951.7 L750.7,952.04 L751.5,952.39 L752.2,952.69 L753.3,937.5 L755,903.85 L757,812.5 L758.5,721.15 L760,620.19 L761,600.96 L762.6,591.92 L762.6,591.92 L763.4,592.23 L764.2,592.55 L765,592.86 L765.8,593.17 L766.6,593.48 L767.4,593.8 L768.2,594.11 L769,594.42 L769.8,594.74 L770.6,595.06 L771.4,595.37 L772.2,595.69 L773,596.01 L773.8,596.33 L774.6,596.65 L775.4,596.97 L776.2,597.29 L777,597.61 L777.8,597.93 L778.6,598.25 L779.4,598.58 L780.2,598.9 L781,599.22 L781.8,599.55 L782.6,599.88 L783.4,600.2 L784.2,600.53 L785,600.86 L785.8,601.19 L786.6,601.52 L787.4,601.85 L788.2,602.18 L789,602.52 L789.8,602.85 L790.6,603.19 L791.41,603.52 L792.21,603.86 L793.01,604.2 L793.81,604.54 L794.61,604.88 L795.41,605.22 L796.21,605.56 L797.01,605.9 L797.81,606.25 L798.61,606.59 L799.41,606.93 L800.21,607.28 L801.01,607.63 L801.81,607.97 L802.61,608.32 L803.41,608.67 L804.21,609.01 L805.01,609.36 L805.81,609.71 L806.61,610.06 L807.41,610.41 L808.21,610.76 L809.01,611.1 L809.81,611.45 L810.61,611.8 L811.41,612.15 L812.21,612.5 L813.01,612.85 L813.81,613.2 L814.61,613.55 L815.41,613.9 L816.21,614.25 L817.01,614.6 L817.81,614.94 L818.61,615.29 L819.41,615.64 L820.21,615.99 L821.01,616.33 L821.81,616.68 L822.61,617.03 L823.41,617.37 L824.21,617.72 L825.01,618.06 L825.81,618.4 L826.61,618.75 L827.41,619.09 L828.21,619.43 L829.01,619.77 L829.81,620.12 L830.61,620.46 L831.41,620.8 L832.21,621.14 L833.01,621.48 L833.81,621.83 L834.61,622.17 L835.41,622.51 L836.21,622.85 L837.01,623.19 L837.81,623.53 L838.61,623.87 L839.41,624.21 L840.21,624.55 L841.01,624.9 L841.81,625.24 L842.61,625.58 L843.41,625.92 L844.21,626.26 L845.01,626.6 L845.81,626.94 L846.61,627.28 L847.42,627.62 L848.22,627.96 L849.02,628.31 L849.82,628.65 L850.62,628.99 L851.42,629.33 L852.22,629.67 L853.02,630.01 L853.82,630.35 L854.62,630.7 L855.42,631.04 L856.22,631.38 L857.02,631.72 L857.82,632.07 L858.62,632.41 L859.42,632.75 L860.22,633.1 L861.02,633.44 L861.82,633.78 L862.62,634.13 L863.42,634.47 L864.22,634.82 L865.02,635.16 L865.82,635.51 L866.62,635.85 L867.42,636.2 L868.22,636.54 L869.02,636.89 L869.82,637.23 L870.62,637.58 L871.42,637.93 L872.22,638.27 L873.02,638.62 L873.82,638.96 L874.62,639.31 L875.42,639.66 L876.22,640 L877.02,640.35 L877.82,640.7 L878.62,641.04 L879.42,641.39 L880.22,641.74 L881.02,642.08 L881.82,642.43 L882.62,642.78 L883.42,643.13 L884.22,643.47 L885.02,643.82 L885.82,644.17 L886.62,644.52 L887.42,644.87 L888.22,645.21 L889.02,645.56 L889.82,645.91 L890.62,646.26 L891.42,646.61 L892.22,646.96 L893.02,647.31 L893.82,647.65 L894.62,648 L895.42,648.35 L896.22,648.7 L897.02,649.05 L897.82,649.4 L898.62,649.75 L899.42,650.1 L900.22,650.45 L901.02,650.8 L901.82,651.15 L902.62,651.5 L903.42,651.85 L904.23,652.2 L905.03,652.54 L905.83,652.89 L906.63,653.24 L907.43,653.59 L908.23,653.94 L909.03,654.28 L909.83,654.63 L910.63,654.98 L911.43,655.32 L912.23,655.67 L913.03,656.02 L913.83,656.36 L914.63,656.71 L915.43,657.06 L916.23,657.4 L917.03,657.75 L917.83,658.1 L918.63,658.45 L919.43,658.79 L920.23,659.14 L921.03,659.49 L921.83,659.84 L922.63,660.19 L923.43,660.54 L924.23,660.89 L925.03,661.24 L925.83,661.59 L926.63,661.94 L927.43,662.29 L928.23,662.64 L929.03,663 L929.83,663.35 L930.63,663.7 L931.43,664.06 L932.23,664.42 L933.03,664.77 L933.83,665.13 L934.63,665.49 L935.43,665.85 L936.23,666.21 L937.03,666.57 L937.83,666.94 L938.63,667.3 L939.43,667.67 L940.23,668.03 L941.03,668.4 L941.83,668.77 L942.63,669.14 L943.43,669.51 L944.23,669.88 L945.03,670.25 L945.83,670.62 L946.63,671 L947.43,671.37 L948.23,671.75 L949.03,672.13 L949.83,672.51 L950.63,672.88 L951.43,673.26 L952.23,673.64 L953.03,674.02 L953.83,674.41 L954.63,674.79 L955.43,675.17 L956.23,675.56 L957.03,675.94 L957.83,676.32 L958.63,676.71 L959.43,677.1 L960.24,677.48 L961.04,677.87 L961.84,678.26 L962.64,678.65 L963.44,679.03 L964.24,679.42 L965.04,679.81 L965.84,680.2 L966.64,680.59 L967.44,680.98 L968.24,681.38 L969.04,681.77 L969.84,682.16 L970.64,682.55 L971.44,682.94 L972.24,683.33 L973.04,683.73 L973.84,684.12 L974.64,684.51 L975.44,684.91 L976.24,685.3 L977.04,685.69 L977.84,686.08 L978.64,686.48 L979.44,686.87 L980.24,687.27 L981.04,687.66 L981.84,688.06 L982.64,688.45 L983.44,688.85 L984.24,689.25 L985.04,689.65 L985.84,690.05 L986.64,690.45 L987.44,690.85 L988.24,691.25 L989.04,691.65 L989.84,692.05 L990.64,692.45 L991.44,692.86 L992.24,693.26 L993.04,693.66 L993.84,694.07 L994.64,694.47 L995.44,694.88 L996.24,695.28 L997.04,695.69 L997.84,696.09 L998.64,696.5 L999.44,696.9 L1000.24,697.31 L1001.04,697.71 L1001.84,698.12 L1002.64,698.53 L1003.44,698.93 L1004.24,699.34 L1005.04,699.74 L1005.84,700.15 L1006.64,700.55 L1007.44,700.96 L1008.24,701.36 L1009.04,701.77 L1009.84,702.17 L1010.64,702.57 L1011.44,702.98 L1012.24,703.38 L1013.04,703.78 L1013.84,704.18 L1014.64,704.58 L1015.44,704.98 L1016.25,705.38 L1017.05,705.78 L1017.85,706.18 L1018.65,706.58 L1019.45,706.98 L1020.25,707.38 L1021.05,707.77 L1021.85,708.17 L1022.65,708.57 L1023.45,708.97 L1024.25,709.36 L1025.05,709.76 L1025.85,710.16 L1026.65,710.55 L1027.45,710.95 L1028.25,711.35 L1029.05,711.74 L1029.85,712.14 L1030.65,712.53 L1031.45,712.93 L1032.25,713.32 L1033.05,713.72 L1033.85,714.11 L1034.65,714.51 L1035.45,714.9 L1036.25,715.3 L1037.05,715.69 L1037.85,716.08 L1038.65,716.48 L1039.45,716.87 L1040.25,717.27 L1041.05,717.66 L1041.85,718.05 L1042.65,718.45 L1043.45,718.84 L1044.25,719.23" fill="none" stroke="#ff0000" stroke-width="2.98" stroke-linejoin="round"/><circle cx="441.1" cy="839.5" r="4.25" fill="#ff0000"/><circle cx="479.53" cy="863" r="4.25" fill="#ff0000"/><circle cx="517.96" cy="883.75" r="4.25" fill="#ff0000"/><circle cx="556.39" cy="903.32" r="4.25" fill="#ff0000"/><circle cx="594.82" cy="921.66" r="4.25" fill="#ff0000"/><circle cx="633.25" cy="939.23" r="4.25" fill="#ff0000"/><circle cx="671.68" cy="955.73" r="4.25" fill="#ff0000"/><circle cx="710.11" cy="972.34" r="4.25" fill="#ff0000"/><circle cx="748.54" cy="989.14" r="4.25" fill="#ff0000"/><circle cx="786.97" cy="625.75" r="4.25" fill="#ff0000"/><circle cx="825.4" cy="642.96" r="4.25" fill="#ff0000"/><circle cx="863.83" cy="660.03" r="4.25" fill="#ff0000"/><circle cx="902.26" cy="677.37" r="4.25" fill="#ff0000"/><circle cx="940.69" cy="694.99" r="4.25" fill="#ff0000"/><circle cx="979.12" cy="714.19" r="4.25" fill="#ff0000"/><circle cx="1017.55" cy="734.27" r="4.25" fill="#ff0000"/></g>
<rect x="765.5" y="748" width="268.3" height="50.8" fill="#fff" stroke="#6e6e6e" stroke-width="1.55"/>
<path d="M770.8,762 H818.8" stroke="#000000" stroke-width="2.8"/>
<rect x="790.9" y="758.4" width="7.2" height="7.2" fill="#000000"/>
<text x="825.5" y="769" font-family='"Liberation Sans", Arial, sans-serif' font-size="22" textLength="205" lengthAdjust="spacingAndGlyphs">Measured phase S21</text>
<path d="M770.8,787 H818.8" stroke="#ff0000" stroke-width="2.8"/>
<circle cx="794.5" cy="787" r="4.25" fill="#ff0000"/>
<text x="825.5" y="794" font-family='"Liberation Sans", Arial, sans-serif' font-size="22" textLength="205" lengthAdjust="spacingAndGlyphs">Measured phase S31</text>
<path d="M443.3,592.8 V1014 H1044.2" fill="none" stroke="#000" stroke-width="2.05" stroke-linecap="square"/>
<path d="M443.3,592.8 H1044.2 V1014" fill="none" stroke="#000" stroke-width="1.8" stroke-linecap="square"/>
<path d="M434.5,592.8 H443.3 M434.5,645.45 H443.3 M434.5,698.1 H443.3 M434.5,750.75 H443.3 M434.5,803.4 H443.3 M434.5,856.05 H443.3 M434.5,908.7 H443.3 M434.5,961.35 H443.3 M434.5,1014 H443.3 M438.5,619.12 H443.3 M438.5,671.77 H443.3 M438.5,724.42 H443.3 M438.5,777.07 H443.3 M438.5,829.73 H443.3 M438.5,882.38 H443.3 M438.5,935.02 H443.3 M438.5,987.67 H443.3" stroke="#000" stroke-width="1.6" fill="none"/>
<path d="M443.3,1014 V1022.9 M543.45,1014 V1022.9 M643.6,1014 V1022.9 M743.75,1014 V1022.9 M843.9,1014 V1022.9 M944.05,1014 V1022.9 M1044.2,1014 V1022.9 M493.38,1014 V1018.8 M593.53,1014 V1018.8 M693.67,1014 V1018.8 M793.83,1014 V1018.8 M893.98,1014 V1018.8 M994.12,1014 V1018.8" stroke="#000" stroke-width="1.6" fill="none"/>
<text transform="translate(429 598.8) scale(0.94 1)" font-family='"Liberation Sans", Arial, sans-serif' font-size="26.4" text-anchor="end">200</text>
<text transform="translate(429 651.45) scale(0.94 1)" font-family='"Liberation Sans", Arial, sans-serif' font-size="26.4" text-anchor="end">150</text>
<text transform="translate(429 704.1) scale(0.94 1)" font-family='"Liberation Sans", Arial, sans-serif' font-size="26.4" text-anchor="end">100</text>
<text transform="translate(429 756.75) scale(0.94 1)" font-family='"Liberation Sans", Arial, sans-serif' font-size="26.4" text-anchor="end">50</text>
<text transform="translate(429 809.4) scale(0.94 1)" font-family='"Liberation Sans", Arial, sans-serif' font-size="26.4" text-anchor="end">0</text>
<text transform="translate(429 862.05) scale(0.94 1)" font-family='"Liberation Sans", Arial, sans-serif' font-size="26.4" text-anchor="end">-50</text>
<text transform="translate(429 914.7) scale(0.94 1)" font-family='"Liberation Sans", Arial, sans-serif' font-size="26.4" text-anchor="end">-100</text>
<text transform="translate(429 967.35) scale(0.94 1)" font-family='"Liberation Sans", Arial, sans-serif' font-size="26.4" text-anchor="end">-150</text>
<text transform="translate(429 1020) scale(0.94 1)" font-family='"Liberation Sans", Arial, sans-serif' font-size="26.4" text-anchor="end">-200</text>
<text transform="translate(443.6 1046.4) scale(0.95 1)" font-family='"Liberation Sans", Arial, sans-serif' font-size="26.4" text-anchor="middle">2.0</text>
<text transform="translate(543.75 1046.4) scale(0.95 1)" font-family='"Liberation Sans", Arial, sans-serif' font-size="26.4" text-anchor="middle">2.5</text>
<text transform="translate(643.9 1046.4) scale(0.95 1)" font-family='"Liberation Sans", Arial, sans-serif' font-size="26.4" text-anchor="middle">3.0</text>
<text transform="translate(744.05 1046.4) scale(0.95 1)" font-family='"Liberation Sans", Arial, sans-serif' font-size="26.4" text-anchor="middle">3.5</text>
<text transform="translate(844.2 1046.4) scale(0.95 1)" font-family='"Liberation Sans", Arial, sans-serif' font-size="26.4" text-anchor="middle">4.0</text>
<text transform="translate(944.35 1046.4) scale(0.95 1)" font-family='"Liberation Sans", Arial, sans-serif' font-size="26.4" text-anchor="middle">4.5</text>
<text transform="translate(1044.5 1046.4) scale(0.95 1)" font-family='"Liberation Sans", Arial, sans-serif' font-size="26.4" text-anchor="middle">5.0</text>
<text x="363.8" y="879.4" font-family='"Liberation Sans", Arial, sans-serif' font-size="25.6" textLength="118" lengthAdjust="spacingAndGlyphs" transform="rotate(-90 363.8 879.4)">phase, deg</text>
<text x="656.6" y="1073.5" font-family='"Liberation Sans", Arial, sans-serif' font-size="24.6" textLength="175.2" lengthAdjust="spacingAndGlyphs">frequency, GHz</text>
<text x="750.2" y="1113.5" font-family='"Liberation Serif", "Times New Roman", serif' font-size="27.5" text-anchor="middle">(c)</text>
</svg>
</body></html>
